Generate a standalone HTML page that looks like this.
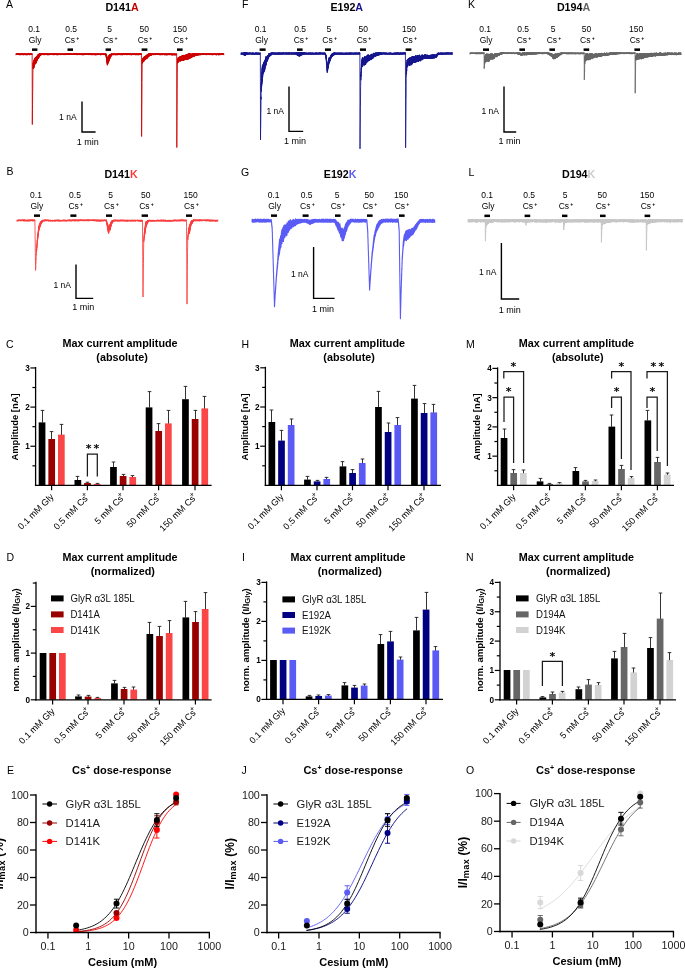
<!DOCTYPE html>
<html lang="en"><head><meta charset="utf-8"><title>Figure</title>
<style>
html,body{margin:0;padding:0;background:#fff;}
svg{display:block;font-family:"Liberation Sans",Arial,sans-serif;}
</style></head><body>
<svg width="685" height="969" viewBox="0 0 685 969">
<rect x="0" y="0" width="685" height="969" fill="#fff"/>
<text x="6" y="8.4" font-size="10.5" font-weight="normal" fill="#000" text-anchor="start" >A</text>
<text x="105.4" y="11" font-size="10.7" font-weight="bold" fill="#000" text-anchor="start" >D141<tspan fill="#c00000">A</tspan></text>
<text x="34.2" y="32.2" font-size="8.5" font-weight="normal" fill="#000" text-anchor="middle" >0.1</text>
<text x="35" y="42.6" font-size="8.5" font-weight="normal" fill="#000" text-anchor="middle" >Gly</text>
<rect x="32" y="48.4" width="5.4" height="2.5" fill="#000"/>
<text x="71.2" y="32.2" font-size="8.5" font-weight="normal" fill="#000" text-anchor="middle" >0.5</text>
<text x="72" y="42.6" font-size="8.5" font-weight="normal" fill="#000" text-anchor="middle" >Cs<tspan font-size="5.2" font-weight="bold" dy="-3.1" dx="1.2">+</tspan></text>
<rect x="67.5" y="48.4" width="5.5" height="2.5" fill="#000"/>
<text x="109.5" y="32.2" font-size="8.5" font-weight="normal" fill="#000" text-anchor="middle" >5</text>
<text x="110.3" y="42.6" font-size="8.5" font-weight="normal" fill="#000" text-anchor="middle" >Cs<tspan font-size="5.2" font-weight="bold" dy="-3.1" dx="1.2">+</tspan></text>
<rect x="105.6" y="48.4" width="5.4" height="2.5" fill="#000"/>
<text x="144.2" y="32.2" font-size="8.5" font-weight="normal" fill="#000" text-anchor="middle" >50</text>
<text x="145" y="42.6" font-size="8.5" font-weight="normal" fill="#000" text-anchor="middle" >Cs<tspan font-size="5.2" font-weight="bold" dy="-3.1" dx="1.2">+</tspan></text>
<rect x="141.6" y="48.4" width="5.8" height="2.5" fill="#000"/>
<text x="179.8" y="32.2" font-size="8.5" font-weight="normal" fill="#000" text-anchor="middle" >150</text>
<text x="180.6" y="42.6" font-size="8.5" font-weight="normal" fill="#000" text-anchor="middle" >Cs<tspan font-size="5.2" font-weight="bold" dy="-3.1" dx="1.2">+</tspan></text>
<rect x="177" y="48.4" width="5.6" height="2.5" fill="#000"/>
<polyline points="16.0,54.8 16.2,53.4 16.4,55.0 16.7,53.4 16.9,55.0 17.1,53.4 17.3,54.8 17.5,53.2 17.8,55.0 18.0,53.4 18.2,55.0 18.4,53.2 18.6,54.8 18.9,53.5 19.1,55.1 19.3,53.4 19.5,55.1 19.7,53.3 20.0,55.0 20.2,53.5 20.4,55.2 20.6,53.4 20.8,54.9 21.1,53.4 21.3,54.9 21.5,53.4 21.7,55.1 21.9,53.3 22.2,54.8 22.4,53.4 22.6,55.0 22.8,53.3 23.0,55.1 23.3,53.4 23.5,55.2 23.7,53.6 23.9,55.0 24.1,53.3 24.4,55.0 24.6,53.3 24.8,55.0 25.0,53.6 25.2,55.2 25.5,53.5 25.7,54.8 25.9,53.3 26.1,55.1 26.3,53.6 26.6,55.2 26.8,53.5 27.0,54.9 27.2,53.6 27.4,55.1 27.7,53.2 27.9,55.1 28.1,53.3 28.3,54.7 28.5,53.5 28.8,55.0 29.0,53.5 29.2,55.0 29.4,53.5 29.6,55.2 29.9,53.5 30.1,54.8 30.3,53.1 30.5,54.7 30.7,53.1 31.0,54.9 31.2,53.2 31.4,55.0 31.6,53.5 31.8,55.0 32.06,53.3 32.16,55.0 32.26,100.3 32.30,124.5 32.36,120.4 32.46,109.8 32.56,104.5 32.66,92.6 32.76,88.4 32.86,75.5 32.96,72.2 33.06,63.2 33.16,69.0 33.26,62.3 33.36,68.8 33.46,62.2 33.56,68.6 33.66,61.2 33.76,68.1 33.86,60.5 33.96,67.7 34.06,59.9 34.16,66.9 34.26,59.5 34.36,65.6 34.46,59.2 34.56,65.0 34.66,58.6 34.76,64.6 34.86,58.1 34.96,64.3 35.06,57.9 35.16,63.8 35.26,57.8 35.36,63.7 35.46,57.7 35.56,63.2 35.66,57.5 35.76,63.5 35.86,57.5 35.96,63.4 36.06,57.1 36.16,63.0 36.26,56.7 36.36,62.0 36.46,56.1 36.56,61.4 36.66,56.1 36.76,61.3 36.86,56.0 36.96,61.0 37.06,56.1 37.16,60.3 37.26,55.7 37.36,60.1 37.46,55.4 37.56,59.5 37.66,55.1 37.76,59.0 37.86,54.7 37.96,59.0 38.06,54.4 38.16,58.8 38.26,54.8 38.36,58.5 38.46,54.8 38.56,58.3 38.66,54.6 38.76,57.7 38.86,54.0 38.96,57.4 39.06,53.7 39.16,57.2 39.26,53.7 39.36,57.1 39.46,53.7 39.56,56.5 39.66,53.5 39.76,56.2 39.86,53.5 39.96,55.9 40.06,53.3 40.16,55.7 40.26,53.4 40.36,55.8 40.46,53.3 40.56,55.4 40.66,53.4 40.76,55.5 40.86,53.2 40.96,55.1 41.06,53.4 41.16,55.0 41.26,53.3 41.36,55.1 41.46,53.5 41.56,54.9 41.66,53.4 41.76,55.0 41.9,53.4 42.1,54.8 42.3,53.4 42.5,54.8 42.7,53.3 43.0,55.0 43.2,53.3 43.4,54.9 43.6,53.5 43.8,55.1 44.1,53.3 44.3,55.1 44.5,53.4 44.7,55.1 44.9,53.1 45.2,54.8 45.4,53.4 45.6,55.0 45.8,53.3 46.0,55.0 46.3,53.2 46.5,55.0 46.7,53.3 46.9,54.8 47.1,53.4 47.4,55.1 47.6,53.4 47.8,55.2 48.0,53.5 48.2,55.1 48.5,53.5 48.7,55.1 48.9,53.3 49.1,55.0 49.3,53.4 49.6,55.1 49.8,53.4 50.0,54.9 50.2,53.5 50.4,54.9 50.7,53.3 50.9,54.7 51.1,53.1 51.3,54.9 51.5,53.5 51.8,54.8 52.0,53.5 52.2,54.9 52.4,53.4 52.6,54.9 52.9,53.4 53.1,54.9 53.3,53.3 53.5,55.2 53.7,53.3 54.0,54.9 54.2,53.2 54.4,55.1 54.6,53.3 54.8,55.0 55.1,53.2 55.3,55.0 55.5,53.4 55.7,54.9 55.9,53.4 56.2,54.8 56.4,53.3 56.6,55.1 56.8,53.2 57.0,55.1 57.3,53.6 57.5,55.1 57.7,53.5 57.9,55.2 58.1,53.4 58.4,54.9 58.6,53.4 58.8,54.9 59.0,53.4 59.2,54.9 59.5,53.6 59.7,55.0 59.9,53.2 60.1,54.9 60.3,53.6 60.6,55.1 60.8,53.6 61.0,54.9 61.2,53.6 61.4,55.0 61.7,53.5 61.9,55.0 62.1,53.5 62.3,55.0 62.5,53.5 62.8,55.0 63.0,53.4 63.2,55.0 63.4,53.6 63.6,54.9 63.9,53.5 64.1,55.1 64.3,53.3 64.5,55.0 64.7,53.6 65.0,55.0 65.2,53.2 65.4,55.1 65.6,53.6 65.8,54.9 66.1,53.2 66.3,55.0 66.5,53.5 66.7,55.0 66.9,53.4 67.2,55.0 67.4,53.2 67.6,55.0 67.8,53.3 68.0,54.8 68.3,53.2 68.5,55.0 68.7,53.0 68.9,54.6 69.1,53.2 69.4,54.9 69.6,53.4 69.8,54.9 70.0,53.5 70.2,55.0 70.5,53.4 70.7,55.0 70.9,53.4 71.1,54.8 71.3,53.3 71.6,54.9 71.8,53.4 72.0,55.0 72.2,53.4 72.4,54.9 72.7,53.4 72.9,55.0 73.1,53.4 73.3,54.7 73.5,53.4 73.8,54.9 74.0,53.3 74.2,55.0 74.4,53.3 74.6,54.8 74.9,53.4 75.1,54.9 75.3,53.2 75.5,55.0 75.7,53.3 76.0,54.8 76.2,53.3 76.4,54.9 76.6,53.4 76.8,55.1 77.1,53.2 77.3,55.0 77.5,53.5 77.7,55.1 77.9,53.2 78.2,55.0 78.4,53.5 78.6,55.0 78.8,53.4 79.0,54.9 79.3,53.2 79.5,54.9 79.7,53.5 79.9,55.1 80.1,53.5 80.4,54.9 80.6,53.5 80.8,54.9 81.0,53.4 81.2,55.0 81.5,53.2 81.7,55.1 81.9,53.6 82.1,54.9 82.3,53.2 82.6,55.2 82.8,53.6 83.0,54.8 83.2,53.5 83.4,55.2 83.7,53.2 83.9,55.1 84.1,53.2 84.3,54.9 84.5,53.3 84.8,54.8 85.0,53.5 85.2,54.9 85.4,53.4 85.6,54.9 85.9,53.4 86.1,54.8 86.3,53.2 86.5,55.0 86.7,53.5 87.0,55.0 87.2,53.3 87.4,55.0 87.6,53.4 87.8,54.7 88.1,53.3 88.3,54.9 88.5,53.2 88.7,55.1 88.9,53.1 89.2,54.9 89.4,53.4 89.6,55.0 89.8,53.1 90.0,54.7 90.3,53.5 90.5,54.9 90.7,53.2 90.9,55.1 91.1,53.4 91.4,55.1 91.6,53.5 91.8,54.9 92.0,53.6 92.2,55.1 92.5,53.3 92.7,54.9 92.9,53.3 93.1,55.1 93.3,53.6 93.6,55.0 93.8,53.5 94.0,54.9 94.2,53.5 94.4,55.1 94.7,53.3 94.9,55.2 95.1,53.5 95.3,55.2 95.5,53.4 95.8,55.1 96.0,53.4 96.2,55.1 96.4,53.6 96.6,55.1 96.9,53.5 97.1,55.0 97.3,53.6 97.5,55.1 97.7,53.2 98.0,55.0 98.2,53.4 98.4,55.0 98.6,53.5 98.8,55.0 99.1,53.6 99.3,54.9 99.5,53.5 99.7,55.0 99.9,53.7 100.2,55.1 100.4,53.6 100.6,55.2 100.8,53.4 101.0,55.1 101.3,53.4 101.5,55.0 101.7,53.6 101.9,54.9 102.1,53.4 102.4,55.0 102.6,53.4 102.8,54.9 103.0,53.5 103.2,55.0 103.5,53.6 103.7,54.8 103.9,53.4 104.1,55.1 104.3,53.6 104.6,54.9 104.8,53.6 105.0,54.9 105.2,53.3 105.44,54.9 105.54,53.4 105.64,55.3 105.74,53.4 105.84,56.0 105.94,53.9 106.04,56.5 106.14,53.9 106.24,57.5 106.34,54.1 106.44,58.4 106.54,55.2 106.64,59.9 106.74,55.8 106.84,62.0 106.94,56.7 107.04,63.7 107.14,57.5 107.24,64.8 107.34,58.6 107.44,65.3 107.54,58.3 107.64,64.6 107.74,57.7 107.84,63.8 107.94,57.3 108.04,63.2 108.14,56.8 108.24,63.0 108.34,56.4 108.44,62.9 108.54,55.9 108.64,62.0 108.74,55.6 108.84,61.4 108.94,55.3 109.04,60.7 109.14,55.0 109.24,60.3 109.34,54.8 109.44,60.0 109.54,54.5 109.64,59.3 109.74,54.5 109.84,58.8 109.94,54.6 110.04,58.4 110.14,54.3 110.24,57.8 110.34,54.3 110.44,57.6 110.54,54.5 110.64,57.1 110.74,54.1 110.84,56.9 110.94,54.0 111.04,56.4 111.14,53.8 111.24,55.8 111.34,53.6 111.44,55.0 111.54,53.3 111.64,55.0 111.74,53.6 111.8,55.1 112.1,53.3 112.3,55.0 112.5,53.6 112.7,55.2 112.9,53.6 113.2,55.2 113.4,53.5 113.6,55.1 113.8,53.4 114.0,55.0 114.3,53.4 114.5,54.9 114.7,53.6 114.9,55.1 115.1,53.4 115.4,55.2 115.6,53.6 115.8,55.1 116.0,53.5 116.2,55.0 116.5,53.6 116.7,55.2 116.9,53.6 117.1,55.1 117.3,53.3 117.6,55.1 117.8,53.3 118.0,54.8 118.2,53.3 118.4,54.8 118.7,53.2 118.9,55.1 119.1,53.2 119.3,55.0 119.5,53.6 119.8,54.9 120.0,53.5 120.2,55.0 120.4,53.3 120.6,55.1 120.9,53.5 121.1,55.1 121.3,53.3 121.5,55.1 121.7,53.5 122.0,55.1 122.2,53.2 122.4,55.1 122.6,53.2 122.8,55.1 123.1,53.2 123.3,55.0 123.5,53.1 123.7,54.7 123.9,53.4 124.2,54.8 124.4,53.4 124.6,55.1 124.8,53.2 125.0,55.0 125.3,53.4 125.5,54.9 125.7,53.2 125.9,54.9 126.1,53.2 126.4,54.8 126.6,53.4 126.8,55.1 127.0,53.1 127.2,55.1 127.5,53.2 127.7,54.8 127.9,53.3 128.1,55.0 128.3,53.2 128.6,54.8 128.8,53.3 129.0,54.8 129.2,53.2 129.4,55.1 129.7,53.4 129.9,55.0 130.1,53.4 130.3,55.0 130.5,53.4 130.8,55.2 131.0,53.3 131.2,55.0 131.4,53.6 131.6,55.2 131.9,53.3 132.1,54.9 132.3,53.4 132.5,54.9 132.7,53.4 133.0,55.1 133.2,53.4 133.4,54.8 133.6,53.4 133.8,54.9 134.1,53.3 134.3,54.8 134.5,53.5 134.7,54.9 134.9,53.5 135.2,55.1 135.4,53.3 135.6,55.1 135.8,53.4 136.0,55.1 136.3,53.4 136.5,55.1 136.7,53.3 136.9,54.9 137.1,53.2 137.4,55.1 137.6,53.6 137.8,54.8 138.0,53.5 138.2,55.2 138.5,53.5 138.7,55.1 138.9,53.5 139.1,55.1 139.3,53.4 139.6,54.9 139.8,53.1 140.0,54.9 140.2,53.4 140.4,55.0 140.7,53.1 140.9,54.9 141.1,53.5 141.32,54.9 141.42,53.5 141.52,82.5 141.60,136.5 141.62,133.2 141.72,122.6 141.82,108.1 141.92,98.2 142.02,82.8 142.12,73.7 142.22,60.3 142.32,63.6 142.42,59.9 142.52,63.0 142.62,59.0 142.72,62.8 142.82,58.5 142.92,62.0 143.02,58.0 143.12,61.8 143.22,57.9 143.32,61.7 143.42,57.5 143.52,61.7 143.62,57.7 143.72,61.4 143.82,57.3 143.92,61.1 144.02,57.2 144.12,61.2 144.22,56.8 144.32,60.6 144.42,56.5 144.52,60.6 144.62,56.2 144.72,60.2 144.82,56.2 144.92,59.9 145.02,56.1 145.12,59.8 145.22,56.2 145.32,59.9 145.42,56.1 145.52,59.5 145.62,56.1 145.72,59.6 145.82,55.8 145.92,59.0 146.02,55.4 146.12,59.1 146.22,55.3 146.32,59.0 146.42,55.2 146.52,58.8 146.62,55.1 146.72,58.8 146.82,54.9 146.92,58.7 147.02,54.8 147.12,58.3 147.22,54.6 147.32,58.3 147.42,54.4 147.52,57.8 147.62,54.5 147.72,57.5 147.82,54.0 147.92,57.3 148.02,53.9 148.12,56.9 148.22,54.1 148.32,57.2 148.42,54.1 148.52,56.8 148.62,53.9 148.72,56.6 148.82,53.5 148.92,56.3 149.02,53.4 149.12,56.2 149.22,53.3 149.32,56.3 149.42,53.5 149.52,55.8 149.62,53.2 149.72,55.8 149.82,53.2 149.92,55.8 150.02,53.5 150.12,55.8 150.22,53.3 150.32,55.5 150.42,53.2 150.52,55.4 150.62,53.2 150.72,55.4 150.82,53.3 150.92,55.4 151.02,53.1 151.12,55.5 151.22,53.3 151.32,55.2 151.42,53.0 151.52,55.3 151.62,53.1 151.72,55.2 151.82,53.2 151.92,55.0 152.02,53.3 152.12,55.0 152.22,53.2 152.32,55.0 152.42,53.5 152.52,54.9 152.62,53.4 152.72,54.9 152.8,53.4 153.0,54.9 153.3,53.5 153.5,55.2 153.7,53.5 153.9,55.0 154.1,53.5 154.4,54.9 154.6,53.3 154.8,55.0 155.0,53.3 155.2,55.1 155.5,53.2 155.7,55.0 155.9,53.2 156.1,55.0 156.3,53.2 156.6,54.8 156.8,53.2 157.0,54.8 157.2,53.2 157.4,55.0 157.7,53.5 157.9,54.9 158.1,53.4 158.3,54.9 158.5,53.3 158.8,54.8 159.0,53.5 159.2,55.1 159.4,53.3 159.6,55.0 159.9,53.3 160.1,55.2 160.3,53.4 160.5,55.1 160.7,53.6 161.0,55.0 161.2,53.5 161.4,54.9 161.6,53.4 161.8,55.2 162.1,53.5 162.3,55.1 162.5,53.3 162.7,54.8 162.9,53.5 163.2,55.0 163.4,53.5 163.6,54.9 163.8,53.5 164.0,55.0 164.3,53.5 164.5,55.2 164.7,53.3 164.9,55.2 165.1,53.5 165.4,54.9 165.6,53.3 165.8,55.1 166.0,53.6 166.2,55.3 166.5,53.4 166.7,55.1 166.9,53.6 167.1,55.2 167.3,53.5 167.6,55.2 167.8,53.4 168.0,55.0 168.2,53.4 168.4,54.9 168.7,53.5 168.9,55.1 169.1,53.3 169.3,54.9 169.5,53.4 169.8,55.1 170.0,53.5 170.2,55.1 170.4,53.4 170.6,55.0 170.9,53.4 171.1,54.9 171.3,53.5 171.5,55.2 171.7,53.6 172.0,55.3 172.2,53.5 172.4,55.3 172.6,53.4 172.8,55.3 173.1,53.6 173.3,55.0 173.5,53.6 173.7,55.2 173.9,53.7 174.2,55.3 174.4,53.4 174.6,55.2 174.8,53.8 175.0,55.0 175.3,53.7 175.5,55.3 175.7,53.8 175.9,55.3 176.1,53.5 176.4,55.3 176.58,53.7 176.68,55.2 176.78,131.2 176.80,147.5 176.88,137.2 176.98,120.6 177.08,109.1 177.18,92.0 177.28,80.9 177.38,63.1 177.48,63.5 177.58,59.7 177.68,63.1 177.78,58.9 177.88,63.0 177.98,58.0 178.08,62.7 178.18,57.6 178.28,62.0 178.38,57.4 178.48,61.9 178.58,57.7 178.68,61.5 178.78,57.5 178.88,61.4 178.98,57.3 179.08,61.0 179.18,57.2 179.28,61.0 179.38,57.3 179.48,61.1 179.58,57.3 179.68,61.2 179.78,56.8 179.88,61.2 179.98,56.3 180.08,61.2 180.18,56.4 180.28,61.2 180.38,56.3 180.48,61.3 180.58,56.3 180.68,61.2 180.78,56.4 180.88,60.7 180.98,56.4 181.08,60.4 181.18,56.1 181.28,60.6 181.38,56.4 181.48,60.6 181.58,56.2 181.68,60.5 181.78,56.1 181.88,60.5 181.98,55.4 182.08,60.3 182.18,55.6 182.28,60.5 182.38,55.4 182.48,60.6 182.58,55.5 182.68,60.8 182.78,55.5 182.88,60.7 182.98,55.6 183.08,60.9 183.18,55.4 183.28,60.6 183.38,55.1 183.48,60.3 183.58,54.9 183.68,60.4 183.78,55.0 183.88,60.1 183.98,55.2 184.08,60.0 184.18,55.5 184.28,59.9 184.38,55.4 184.48,60.2 184.58,55.4 184.68,60.1 184.78,55.2 184.88,60.0 184.98,55.0 185.08,59.7 185.18,54.8 185.28,59.7 185.38,55.0 185.48,59.9 185.58,55.1 185.68,59.5 185.78,54.9 185.88,59.6 185.98,54.7 186.08,59.4 186.18,54.7 186.28,59.4 186.38,54.2 186.48,59.5 186.58,54.1 186.68,59.8 186.78,54.0 186.88,59.9 186.98,54.1 187.08,59.8 187.18,54.3 187.28,59.5 187.38,54.8 187.48,59.2 187.58,54.5 187.68,59.5 187.78,54.0 187.88,59.3 187.98,53.9 188.08,59.5 188.18,53.7 188.28,59.1 188.38,53.8 188.48,58.7 188.58,53.6 188.68,58.8 188.78,53.5 188.88,58.9 188.98,53.5 189.08,58.8 189.18,53.2 189.28,58.9 189.38,53.3 189.48,58.7 189.58,53.5 189.68,58.5 189.78,53.3 189.88,58.4 189.98,53.5 190.08,58.4 190.18,53.7 190.28,58.2 190.38,53.7 190.48,57.9 190.58,54.0 190.68,58.1 190.78,54.1 190.88,57.9 190.98,54.0 191.08,57.7 191.18,53.7 191.28,57.5 191.38,53.8 191.48,57.6 191.58,53.9 191.68,57.5 191.78,53.9 191.88,57.4 191.98,54.1 192.08,57.3 192.18,53.8 192.28,57.0 192.38,53.7 192.48,56.9 192.58,53.4 192.68,56.7 192.78,53.4 192.88,56.6 192.98,53.8 193.08,56.6 193.18,53.6 193.28,56.4 193.38,53.4 193.48,56.7 193.58,53.6 193.68,56.9 193.78,53.3 193.88,56.7 193.98,53.3 194.08,56.5 194.18,53.6 194.28,56.5 194.38,53.4 194.48,56.1 194.58,53.6 194.68,56.1 194.78,53.4 194.88,56.2 194.98,53.4 195.08,55.9 195.18,53.3 195.28,56.0 195.38,53.7 195.48,56.0 195.58,53.7 195.68,55.9 195.78,53.5 195.88,55.7 195.98,53.5 196.08,55.6 196.18,53.6 196.28,55.3 196.38,53.5 196.48,55.4 196.58,53.6 196.68,55.4 196.78,53.3 196.88,55.2 196.98,53.5 197.08,55.3 197.18,53.4 197.28,55.3 197.38,53.4 197.48,55.2 197.58,53.3 197.68,55.1 197.78,53.4 197.88,55.2 197.98,53.5 198.08,55.5 198.18,53.6 198.28,55.1 198.38,53.3 198.48,55.1 198.58,53.4 198.68,55.2 198.78,53.3 198.88,55.2 198.98,53.6 199.08,55.2 199.18,53.4 199.28,55.1 199.4,53.5 199.6,54.9 199.8,53.4 200.0,54.8 200.3,53.3 200.5,55.2 200.7,53.6 200.9,55.0 201.1,53.3 201.4,55.1 201.6,53.5 201.8,54.9 202.0,53.5 202.2,54.8 202.5,53.2 202.7,54.9 202.9,53.2 203.1,54.7 203.3,53.1 203.6,54.9 203.8,53.3 204.0,54.8 204.2,53.1 204.4,54.8 204.7,53.4 204.9,54.9 205.1,53.4 205.3,55.0 205.5,53.5 205.8,54.8 206.0,53.1 206.2,55.1 206.4,53.4 206.6,55.1 206.9,53.3 207.1,54.8 207.3,53.4 207.5,55.0 207.7,53.4 208.0,54.8 208.2,53.2 208.4,54.9 208.6,53.4 208.8,54.9 209.1,53.5 209.3,55.0 209.5,53.4 209.7,55.1 209.9,53.5 210.2,54.8 210.4,53.4 210.6,54.9 210.8,53.5 211.0,54.8 211.3,53.4 211.5,54.9 211.7,53.3 211.9,55.2 212.1,53.3 212.4,55.0 212.6,53.5 212.8,55.2 213.0,53.6 213.2,55.0 213.5,53.6 213.7,55.0 213.9,53.5 214.1,55.0 214.3,53.3 214.6,55.0 214.8,53.6 215.0,54.9 215.2,53.2 215.4,54.9 215.7,53.6 215.9,55.1 216.1,53.5 216.3,55.2 216.5,53.6 216.8,55.2 217.0,53.6 217.2,54.9 217.4,53.3 217.6,55.0 217.9,53.3 218.1,54.9 218.3,53.5 218.5,55.3 218.7,53.2 219.0,54.8 219.2,53.3 219.4,55.1 219.6,53.3 219.8,55.1 220.1,53.3 220.3,55.1 220.5,53.4 220.7,55.0 220.9,53.3 221.2,54.8 221.4,53.3 221.6,55.0 221.8,53.2 222.0,55.0 222.3,53.5 222.5,55.0 222.7,53.2 222.9,55.0 223.1,53.3 223.4,54.9 223.6,53.2 223.8,54.8" fill="none" stroke="#cc0000" stroke-width="0.85" stroke-linejoin="round" stroke-linecap="round"/>
<polyline points="82,101.6 82,132 95.6,132" fill="none" stroke="#000" stroke-width="1.4" stroke-linejoin="miter"/>
<text x="76.6" y="120.05" font-size="8.5" font-weight="normal" fill="#000" text-anchor="end" >1 nA</text>
<text x="87.8" y="145.05" font-size="9" font-weight="normal" fill="#000" text-anchor="middle" >1 min</text>
<text x="6.6" y="175.2" font-size="10.5" font-weight="normal" fill="#000" text-anchor="start" >B</text>
<text x="104.4" y="177.6" font-size="10.7" font-weight="bold" fill="#000" text-anchor="start" >D141<tspan fill="#fa3c3c">K</tspan></text>
<text x="36" y="198.2" font-size="8.5" font-weight="normal" fill="#000" text-anchor="middle" >0.1</text>
<text x="36.8" y="209" font-size="8.5" font-weight="normal" fill="#000" text-anchor="middle" >Gly</text>
<rect x="34" y="214.4" width="6" height="2.5" fill="#000"/>
<text x="75" y="198.2" font-size="8.5" font-weight="normal" fill="#000" text-anchor="middle" >0.5</text>
<text x="75.8" y="209" font-size="8.5" font-weight="normal" fill="#000" text-anchor="middle" >Cs<tspan font-size="5.2" font-weight="bold" dy="-3.1" dx="1.2">+</tspan></text>
<rect x="70.4" y="214.4" width="6" height="2.5" fill="#000"/>
<text x="110.6" y="198.2" font-size="8.5" font-weight="normal" fill="#000" text-anchor="middle" >5</text>
<text x="111.4" y="209" font-size="8.5" font-weight="normal" fill="#000" text-anchor="middle" >Cs<tspan font-size="5.2" font-weight="bold" dy="-3.1" dx="1.2">+</tspan></text>
<rect x="106" y="214.4" width="6" height="2.5" fill="#000"/>
<text x="145.7" y="198.2" font-size="8.5" font-weight="normal" fill="#000" text-anchor="middle" >50</text>
<text x="146.5" y="209" font-size="8.5" font-weight="normal" fill="#000" text-anchor="middle" >Cs<tspan font-size="5.2" font-weight="bold" dy="-3.1" dx="1.2">+</tspan></text>
<rect x="141.6" y="214.4" width="6.4" height="2.5" fill="#000"/>
<text x="190.6" y="198.2" font-size="8.5" font-weight="normal" fill="#000" text-anchor="middle" >150</text>
<text x="191.4" y="209" font-size="8.5" font-weight="normal" fill="#000" text-anchor="middle" >Cs<tspan font-size="5.2" font-weight="bold" dy="-3.1" dx="1.2">+</tspan></text>
<rect x="186" y="214.4" width="6" height="2.5" fill="#000"/>
<polyline points="17.0,221.0 17.2,219.9 17.4,221.3 17.7,219.9 17.9,221.2 18.1,219.8 18.3,221.1 18.5,219.8 18.8,221.1 19.0,219.7 19.2,221.0 19.4,219.7 19.6,221.1 19.9,219.6 20.1,221.0 20.3,219.9 20.5,221.1 20.7,219.8 21.0,221.1 21.2,219.9 21.4,221.2 21.6,219.7 21.8,221.0 22.1,219.7 22.3,220.9 22.5,219.6 22.7,221.1 22.9,219.7 23.2,221.0 23.4,219.6 23.6,221.2 23.8,219.6 24.0,221.3 24.3,219.6 24.5,221.2 24.7,219.6 24.9,221.1 25.1,219.9 25.4,221.1 25.6,219.9 25.8,221.1 26.0,219.8 26.2,221.3 26.5,219.9 26.7,221.3 26.9,219.9 27.1,221.3 27.3,220.0 27.6,221.1 27.8,219.7 28.0,221.2 28.2,219.7 28.4,221.2 28.7,219.9 28.9,221.1 29.1,219.7 29.3,221.3 29.5,219.7 29.8,221.1 30.0,219.9 30.2,221.2 30.4,219.6 30.6,221.1 30.9,219.6 31.1,221.0 31.3,219.7 31.5,220.8 31.7,219.6 32.0,221.2 32.2,219.6 32.4,221.2 32.6,219.5 32.8,220.9 33.1,219.9 33.3,221.2 33.5,219.8 33.7,221.1 33.9,219.7 34.2,221.1 34.4,219.7 34.6,221.1 34.82,219.8 34.92,222.4 35.02,228.4 35.12,236.9 35.22,242.7 35.32,251.2 35.42,256.9 35.52,265.3 35.60,270.4 35.62,269.3 35.72,268.4 35.82,264.4 35.92,264.0 36.02,259.2 36.12,259.6 36.22,254.3 36.32,255.1 36.42,249.5 36.52,252.2 36.62,247.3 36.72,250.1 36.82,244.9 36.92,247.9 37.02,242.4 37.12,245.6 37.22,240.0 37.32,243.0 37.42,237.6 37.52,241.0 37.62,235.8 37.72,239.4 37.82,234.0 37.92,237.8 38.02,232.7 38.12,236.3 38.22,231.2 38.32,234.6 38.42,229.6 38.52,233.1 38.62,228.1 38.72,231.4 38.82,226.4 38.92,230.4 39.02,225.7 39.12,229.5 39.22,225.3 39.32,228.9 39.42,224.6 39.52,228.2 39.62,224.2 39.72,227.7 39.82,223.6 39.92,227.2 40.02,222.9 40.12,226.4 40.22,222.5 40.32,225.7 40.42,222.0 40.52,225.1 40.62,221.8 40.72,224.8 40.82,221.5 40.92,224.2 41.02,221.5 41.12,223.8 41.22,221.2 41.32,223.8 41.42,221.2 41.52,223.2 41.62,221.0 41.72,223.0 41.82,220.7 41.92,222.7 42.02,220.5 42.12,222.3 42.22,220.2 42.32,221.7 42.42,220.1 42.52,221.3 42.62,220.0 42.72,221.4 42.82,219.9 42.9,221.4 43.1,219.9 43.4,221.3 43.6,220.0 43.8,221.3 44.0,219.7 44.2,221.1 44.5,219.8 44.7,221.3 44.9,219.7 45.1,221.1 45.3,219.8 45.6,221.1 45.8,219.6 46.0,221.1 46.2,219.7 46.4,221.2 46.7,219.8 46.9,221.0 47.1,219.8 47.3,221.0 47.5,219.7 47.8,221.0 48.0,219.9 48.2,221.3 48.4,219.7 48.6,221.2 48.9,219.9 49.1,221.3 49.3,220.0 49.5,221.1 49.7,219.8 50.0,221.2 50.2,220.0 50.4,221.2 50.6,219.8 50.8,221.4 51.1,220.0 51.3,221.2 51.5,220.1 51.7,221.3 51.9,220.0 52.2,221.2 52.4,220.0 52.6,221.4 52.8,219.9 53.0,221.2 53.3,220.1 53.5,221.1 53.7,220.1 53.9,221.3 54.1,219.9 54.4,221.1 54.6,219.9 54.8,221.4 55.0,219.9 55.2,221.4 55.5,219.8 55.7,221.2 55.9,220.0 56.1,221.2 56.3,220.0 56.6,221.2 56.8,219.7 57.0,221.1 57.2,219.7 57.4,221.1 57.7,219.9 57.9,221.0 58.1,219.7 58.3,221.3 58.5,219.8 58.8,221.4 59.0,219.9 59.2,221.3 59.4,219.9 59.6,221.2 59.9,220.0 60.1,221.4 60.3,219.9 60.5,221.2 60.7,219.9 61.0,221.1 61.2,220.0 61.4,221.2 61.6,220.0 61.8,221.3 62.1,219.9 62.3,221.1 62.5,220.0 62.7,221.2 62.9,219.8 63.2,221.2 63.4,219.8 63.6,221.1 63.8,219.9 64.0,221.2 64.3,219.8 64.5,221.2 64.7,219.8 64.9,221.1 65.1,219.9 65.4,221.3 65.6,219.9 65.8,221.1 66.0,220.0 66.2,221.4 66.5,220.0 66.7,221.2 66.9,220.0 67.1,221.2 67.3,219.8 67.6,221.1 67.8,219.8 68.0,221.1 68.2,219.8 68.4,221.0 68.7,219.9 68.9,221.2 69.1,219.7 69.3,221.2 69.5,219.6 69.8,221.0 70.0,219.8 70.2,221.1 70.4,219.7 70.6,221.2 70.9,219.7 71.1,221.1 71.3,219.9 71.5,221.3 71.7,219.8 72.0,221.2 72.2,219.8 72.4,221.0 72.6,219.6 72.8,221.0 73.1,219.7 73.3,221.1 73.5,219.7 73.7,221.0 73.9,219.7 74.2,221.2 74.4,219.6 74.6,221.1 74.8,219.7 75.0,221.2 75.3,219.6 75.5,221.2 75.7,219.6 75.9,221.0 76.1,219.7 76.4,221.0 76.6,219.8 76.8,221.1 77.0,219.7 77.2,221.2 77.5,219.8 77.7,221.2 77.9,219.8 78.1,221.1 78.3,219.6 78.6,221.1 78.8,219.7 79.0,221.2 79.2,219.7 79.4,221.0 79.7,219.7 79.9,221.1 80.1,219.7 80.3,220.9 80.5,219.5 80.8,220.9 81.0,219.7 81.2,221.1 81.4,219.6 81.6,221.0 81.9,219.8 82.1,220.9 82.3,219.7 82.5,220.9 82.7,219.5 83.0,221.1 83.2,219.7 83.4,221.1 83.6,219.9 83.8,221.0 84.1,219.8 84.3,221.0 84.5,219.7 84.7,221.2 84.9,219.8 85.2,221.0 85.4,219.6 85.6,221.1 85.8,219.9 86.0,221.0 86.3,219.8 86.5,220.9 86.7,219.7 86.9,221.1 87.1,219.5 87.4,221.0 87.6,219.6 87.8,221.2 88.0,219.6 88.2,220.9 88.5,219.6 88.7,221.1 88.9,219.6 89.1,221.1 89.3,219.6 89.6,221.0 89.8,219.7 90.0,221.0 90.2,219.8 90.4,221.0 90.7,219.8 90.9,220.9 91.1,219.7 91.3,220.9 91.5,219.7 91.8,220.9 92.0,219.6 92.2,220.9 92.4,219.7 92.6,221.0 92.9,219.7 93.1,220.9 93.3,219.6 93.5,221.1 93.7,219.6 94.0,220.9 94.2,219.7 94.4,221.1 94.6,219.7 94.8,221.1 95.1,219.7 95.3,221.2 95.5,219.7 95.7,221.0 95.9,219.9 96.2,221.2 96.4,219.7 96.6,221.3 96.8,219.8 97.0,221.1 97.3,219.7 97.5,221.3 97.7,219.8 97.9,221.3 98.1,219.8 98.4,221.3 98.6,219.8 98.8,221.1 99.0,219.8 99.2,221.4 99.5,219.8 99.7,221.3 99.9,219.8 100.1,221.5 100.3,219.9 100.6,221.3 100.8,219.7 101.0,221.2 101.2,219.9 101.4,221.2 101.7,219.8 101.9,221.3 102.1,219.7 102.3,221.1 102.5,219.9 102.8,221.0 103.0,219.8 103.2,221.3 103.4,219.9 103.6,221.2 103.9,219.9 104.1,221.0 104.3,219.6 104.5,221.0 104.7,219.7 105.0,221.1 105.2,220.0 105.4,221.2 105.6,219.9 105.8,221.3 106.06,219.7 106.16,221.1 106.26,219.7 106.36,221.4 106.46,220.4 106.56,222.5 106.66,221.0 106.76,223.6 106.86,221.8 106.96,224.8 107.06,222.5 107.16,225.8 107.26,223.0 107.36,227.3 107.46,223.6 107.56,228.4 107.66,224.3 107.76,229.5 107.86,224.8 107.96,230.7 108.06,225.5 108.16,231.8 108.26,226.6 108.36,232.7 108.46,227.6 108.56,233.7 108.66,227.9 108.76,232.9 108.86,227.3 108.96,231.8 109.06,226.6 109.16,230.6 109.26,225.8 109.36,229.6 109.46,225.1 109.56,229.6 109.66,225.0 109.76,230.0 109.86,224.4 109.96,230.6 110.06,224.2 110.16,229.8 110.26,223.8 110.36,228.5 110.46,223.3 110.56,227.6 110.66,222.8 110.76,227.2 110.86,222.2 110.96,226.7 111.06,222.0 111.16,225.8 111.26,221.6 111.36,224.9 111.46,221.3 111.56,224.0 111.66,220.9 111.76,223.8 111.86,220.8 111.96,223.5 112.06,220.6 112.16,223.2 112.26,220.5 112.36,222.8 112.46,220.3 112.56,222.5 112.66,220.2 112.76,222.3 112.86,220.0 112.96,222.1 113.06,220.0 113.16,221.7 113.26,220.1 113.36,221.3 113.46,220.0 113.56,221.2 113.66,219.8 113.76,221.3 113.9,219.9 114.1,221.1 114.3,219.8 114.5,221.3 114.7,219.8 115.0,221.3 115.2,219.7 115.4,221.1 115.6,219.8 115.8,221.2 116.1,219.8 116.3,221.1 116.5,219.9 116.7,221.2 116.9,219.8 117.2,221.4 117.4,219.9 117.6,221.2 117.8,219.9 118.0,221.4 118.3,219.8 118.5,221.2 118.7,220.0 118.9,221.3 119.1,219.9 119.4,221.3 119.6,219.9 119.8,221.3 120.0,219.8 120.2,221.1 120.5,219.8 120.7,221.2 120.9,219.9 121.1,221.2 121.3,219.9 121.6,221.2 121.8,219.7 122.0,221.2 122.2,219.8 122.4,221.1 122.7,219.9 122.9,221.1 123.1,219.8 123.3,221.2 123.5,219.9 123.8,221.3 124.0,219.9 124.2,221.1 124.4,219.8 124.6,221.2 124.9,219.9 125.1,221.3 125.3,219.9 125.5,221.3 125.7,220.1 126.0,221.2 126.2,220.2 126.4,221.5 126.6,219.9 126.8,221.3 127.1,219.8 127.3,221.4 127.5,219.9 127.7,221.4 127.9,219.9 128.2,221.3 128.4,219.9 128.6,221.2 128.8,220.1 129.0,221.2 129.3,219.9 129.5,221.2 129.7,219.9 129.9,221.2 130.1,219.9 130.4,221.3 130.6,220.1 130.8,221.4 131.0,220.1 131.2,221.3 131.5,219.9 131.7,221.2 131.9,219.9 132.1,221.2 132.3,219.8 132.6,221.2 132.8,219.8 133.0,221.2 133.2,220.0 133.4,221.4 133.7,219.9 133.9,221.2 134.1,219.9 134.3,221.2 134.5,220.0 134.8,221.2 135.0,219.8 135.2,221.4 135.4,219.9 135.6,221.3 135.9,220.0 136.1,221.1 136.3,219.9 136.5,221.1 136.7,220.0 137.0,221.0 137.2,219.9 137.4,221.1 137.6,219.7 137.8,221.2 138.1,220.0 138.3,221.3 138.5,220.1 138.7,221.3 138.9,219.9 139.2,221.2 139.4,220.0 139.6,221.4 139.8,219.9 140.0,221.5 140.3,219.9 140.5,221.5 140.7,220.0 140.9,221.5 141.1,219.9 141.4,221.4 141.6,219.8 141.8,221.5 142.0,220.2 142.24,221.3 142.34,220.0 142.44,221.2 142.54,226.2 142.64,242.8 142.74,256.7 142.84,273.1 142.94,287.1 143.00,297.0 143.04,294.7 143.14,285.2 143.24,279.0 143.34,268.8 143.44,263.6 143.54,253.1 143.64,247.9 143.74,239.7 143.84,241.8 143.94,237.3 144.04,240.0 144.14,235.0 144.24,238.0 144.34,232.5 144.44,236.5 144.54,229.9 144.64,235.0 144.74,228.7 144.84,234.2 144.94,227.7 145.04,233.2 145.14,226.6 145.24,231.5 145.34,225.2 145.44,229.8 145.54,224.1 145.64,228.7 145.74,222.9 145.84,227.8 145.94,221.6 146.04,226.6 146.14,221.5 146.24,226.3 146.34,221.5 146.44,225.6 146.54,221.3 146.64,225.1 146.74,221.3 146.84,224.7 146.94,221.1 147.04,224.2 147.14,221.1 147.24,223.9 147.34,220.7 147.44,223.3 147.54,220.4 147.64,222.9 147.74,220.3 147.84,222.5 147.94,220.1 148.04,222.4 148.14,220.3 148.24,221.8 148.34,220.1 148.44,221.5 148.54,219.9 148.64,221.2 148.74,220.0 148.8,221.4 149.1,220.0 149.3,221.4 149.5,219.8 149.7,221.2 149.9,220.0 150.2,221.3 150.4,219.9 150.6,221.3 150.8,220.0 151.0,221.4 151.3,220.1 151.5,221.4 151.7,219.9 151.9,221.4 152.1,220.1 152.4,221.5 152.6,220.1 152.8,221.4 153.0,219.9 153.2,221.4 153.5,219.9 153.7,221.2 153.9,220.1 154.1,221.5 154.3,220.0 154.6,221.5 154.8,220.0 155.0,221.2 155.2,220.0 155.4,221.1 155.7,220.0 155.9,221.4 156.1,220.0 156.3,221.3 156.5,220.0 156.8,221.4 157.0,219.9 157.2,221.2 157.4,219.8 157.6,221.2 157.9,219.9 158.1,221.2 158.3,220.1 158.5,221.3 158.7,219.8 159.0,221.2 159.2,220.0 159.4,221.3 159.6,220.0 159.8,221.2 160.1,219.8 160.3,221.3 160.5,220.0 160.7,221.3 160.9,219.9 161.2,221.2 161.4,219.7 161.6,221.3 161.8,219.7 162.0,221.1 162.3,219.9 162.5,221.3 162.7,219.9 162.9,221.4 163.1,220.0 163.4,221.3 163.6,219.7 163.8,221.3 164.0,219.9 164.2,221.2 164.5,219.9 164.7,221.3 164.9,219.9 165.1,221.3 165.3,219.9 165.6,221.4 165.8,219.9 166.0,221.4 166.2,220.0 166.4,221.2 166.7,220.1 166.9,221.5 167.1,220.1 167.3,221.4 167.5,220.0 167.8,221.2 168.0,219.9 168.2,221.4 168.4,220.2 168.6,221.3 168.9,220.1 169.1,221.4 169.3,219.9 169.5,221.4 169.7,220.0 170.0,221.5 170.2,219.9 170.4,221.3 170.6,220.1 170.8,221.4 171.1,220.2 171.3,221.5 171.5,220.1 171.7,221.3 171.9,220.1 172.2,221.3 172.4,220.0 172.6,221.2 172.8,220.1 173.0,221.4 173.3,219.7 173.5,221.1 173.7,219.9 173.9,221.2 174.1,219.9 174.4,221.3 174.6,219.8 174.8,221.1 175.0,219.9 175.2,221.1 175.5,219.7 175.7,221.1 175.9,219.9 176.1,221.2 176.3,219.8 176.6,221.3 176.8,220.0 177.0,221.2 177.2,219.9 177.4,221.1 177.7,219.7 177.9,221.2 178.1,219.8 178.3,221.2 178.5,219.9 178.8,221.2 179.0,219.9 179.2,221.1 179.4,219.9 179.6,221.1 179.9,219.7 180.1,221.3 180.3,219.7 180.5,221.1 180.7,219.7 181.0,221.1 181.2,219.6 181.4,221.0 181.6,219.7 181.8,221.1 182.1,219.7 182.3,221.2 182.5,219.6 182.7,221.0 182.9,219.9 183.2,221.1 183.4,219.7 183.6,221.2 183.8,219.7 184.0,221.1 184.3,219.8 184.5,221.1 184.7,219.9 184.9,221.4 185.1,219.9 185.4,221.1 185.6,219.8 185.8,221.1 186.0,220.0 186.24,221.2 186.34,219.7 186.44,221.3 186.54,226.5 186.64,244.7 186.74,260.0 186.84,278.0 186.94,293.4 187.00,304.1 187.04,301.3 187.14,290.3 187.24,283.2 187.34,271.6 187.44,264.9 187.54,252.8 187.64,246.7 187.74,237.4 187.84,239.8 187.94,235.5 188.04,237.5 188.14,233.8 188.24,235.8 188.34,231.6 188.44,233.8 188.54,229.8 188.64,232.3 188.74,228.6 188.84,232.9 188.94,227.9 189.04,233.5 189.14,226.9 189.24,233.9 189.34,226.2 189.44,233.8 189.54,225.5 189.64,232.6 189.74,224.9 189.84,231.4 189.94,224.4 190.04,230.1 190.14,223.8 190.24,228.6 190.34,223.4 190.44,227.4 190.54,222.9 190.64,226.6 190.74,222.2 190.84,226.1 190.94,221.7 191.04,225.3 191.14,221.3 191.24,224.9 191.34,221.1 191.44,224.4 191.54,220.8 191.64,223.8 191.74,220.6 191.84,223.6 191.94,220.6 192.04,223.7 192.14,220.5 192.24,223.3 192.34,220.3 192.44,223.0 192.54,220.2 192.64,222.5 192.74,220.2 192.84,222.2 192.94,220.0 193.04,221.8 193.14,219.9 193.24,221.5 193.34,219.8 193.44,221.0 193.54,219.7 193.64,221.1 193.74,219.7 193.8,221.0 194.1,219.5 194.3,220.9 194.5,219.8 194.7,221.1 194.9,219.6 195.2,221.1 195.4,219.6 195.6,221.2 195.8,219.8 196.0,221.1 196.3,219.6 196.5,221.1 196.7,219.8 196.9,221.1 197.1,219.6 197.4,221.0 197.6,219.8 197.8,221.2 198.0,219.6 198.2,221.2 198.5,219.7 198.7,221.0 198.9,219.7 199.1,221.1 199.3,219.6 199.6,221.2 199.8,219.6 200.0,221.2 200.2,219.7 200.4,221.0 200.7,219.6 200.9,221.0 201.1,219.8 201.3,221.2 201.5,219.6 201.8,221.0 202.0,219.9 202.2,220.9 202.4,219.9 202.6,221.2 202.9,219.6 203.1,220.9 203.3,219.8 203.5,221.0 203.7,219.8 204.0,221.0 204.2,219.7 204.4,221.0 204.6,219.8 204.8,220.9 205.1,219.6 205.3,221.1 205.5,219.7 205.7,221.2 205.9,219.8 206.2,221.0 206.4,219.8 206.6,221.2 206.8,219.6 207.0,221.2 207.3,219.6 207.5,221.1 207.7,219.8 207.9,221.0 208.1,219.6 208.4,221.0 208.6,219.8 208.8,221.2 209.0,219.7 209.2,221.2 209.5,219.9 209.7,221.3 209.9,219.8 210.1,221.3 210.3,219.7 210.6,221.3 210.8,219.9 211.0,221.2 211.2,219.9 211.4,221.2 211.7,219.7 211.9,221.1 212.1,219.9 212.3,221.3 212.5,219.9 212.8,221.4 213.0,219.9 213.2,221.1 213.4,219.8 213.6,221.2 213.9,220.0 214.1,221.2 214.3,219.9 214.5,221.1 214.7,220.1 215.0,221.4 215.2,219.9 215.4,221.4 215.6,219.9 215.8,221.4 216.1,220.1 216.3,221.2 216.5,219.9 216.7,221.4 216.9,219.9 217.2,221.2 217.4,220.0 217.6,221.4 217.8,219.9" fill="none" stroke="#fa3c3c" stroke-width="0.85" stroke-linejoin="round" stroke-linecap="round"/>
<polyline points="76,264.4 76,298.4 93.2,298.4" fill="none" stroke="#000" stroke-width="1.4" stroke-linejoin="miter"/>
<text x="71" y="288.05" font-size="8.5" font-weight="normal" fill="#000" text-anchor="end" >1 nA</text>
<text x="83.3" y="310.45" font-size="9" font-weight="normal" fill="#000" text-anchor="middle" >1 min</text>
<text x="242" y="8" font-size="10.5" font-weight="normal" fill="#000" text-anchor="start" >F</text>
<text x="330.4" y="11.2" font-size="10.7" font-weight="bold" fill="#000" text-anchor="start" >E192<tspan fill="#14148c">A</tspan></text>
<text x="260.7" y="32.2" font-size="8.5" font-weight="normal" fill="#000" text-anchor="middle" >0.1</text>
<text x="261.5" y="42.6" font-size="8.5" font-weight="normal" fill="#000" text-anchor="middle" >Gly</text>
<rect x="259.6" y="48.4" width="6" height="2.5" fill="#000"/>
<text x="300.2" y="32.2" font-size="8.5" font-weight="normal" fill="#000" text-anchor="middle" >0.5</text>
<text x="301" y="42.6" font-size="8.5" font-weight="normal" fill="#000" text-anchor="middle" >Cs<tspan font-size="5.2" font-weight="bold" dy="-3.1" dx="1.2">+</tspan></text>
<rect x="297" y="48.4" width="5.6" height="2.5" fill="#000"/>
<text x="328.8" y="32.2" font-size="8.5" font-weight="normal" fill="#000" text-anchor="middle" >5</text>
<text x="329.6" y="42.6" font-size="8.5" font-weight="normal" fill="#000" text-anchor="middle" >Cs<tspan font-size="5.2" font-weight="bold" dy="-3.1" dx="1.2">+</tspan></text>
<rect x="325" y="48.4" width="6" height="2.5" fill="#000"/>
<text x="363.2" y="32.2" font-size="8.5" font-weight="normal" fill="#000" text-anchor="middle" >50</text>
<text x="364" y="42.6" font-size="8.5" font-weight="normal" fill="#000" text-anchor="middle" >Cs<tspan font-size="5.2" font-weight="bold" dy="-3.1" dx="1.2">+</tspan></text>
<rect x="360" y="48.4" width="6" height="2.5" fill="#000"/>
<text x="409" y="32.2" font-size="8.5" font-weight="normal" fill="#000" text-anchor="middle" >150</text>
<text x="409.8" y="42.6" font-size="8.5" font-weight="normal" fill="#000" text-anchor="middle" >Cs<tspan font-size="5.2" font-weight="bold" dy="-3.1" dx="1.2">+</tspan></text>
<rect x="405.6" y="48.4" width="5.8" height="2.5" fill="#000"/>
<polyline points="241.0,54.4 241.2,52.6 241.4,54.8 241.7,52.8 241.9,54.4 242.1,52.7 242.3,54.5 242.5,52.8 242.76,54.7 242.86,53.0 242.96,54.7 243.06,52.8 243.16,54.6 243.26,52.6 243.36,54.7 243.46,52.7 243.56,54.8 243.66,52.7 243.76,55.0 243.86,52.8 243.96,55.1 244.06,52.8 244.16,55.3 244.26,52.6 244.36,55.6 244.46,52.3 244.56,55.5 244.66,52.1 244.76,55.5 244.86,52.4 244.96,55.7 245.06,52.1 245.16,55.7 245.26,52.5 245.36,55.5 245.46,52.2 245.56,55.4 245.66,52.4 245.76,55.0 245.86,52.2 245.96,54.9 246.06,52.2 246.16,54.6 246.26,52.3 246.36,54.5 246.46,52.7 246.56,54.8 246.66,52.8 246.76,54.5 246.86,52.5 246.96,54.4 247.06,52.7 247.16,54.5 247.26,52.8 247.4,54.7 247.6,52.6 247.8,54.3 248.0,52.9 248.2,54.5 248.5,52.8 248.7,54.6 248.9,52.6 249.1,54.5 249.3,52.6 249.6,54.4 249.8,52.5 250.0,54.4 250.2,52.8 250.4,54.4 250.7,52.6 250.9,54.2 251.1,52.8 251.3,54.6 251.5,52.8 251.8,54.4 252.0,52.8 252.2,54.8 252.4,52.6 252.6,54.8 252.9,52.5 253.1,54.4 253.3,52.6 253.5,54.5 253.7,52.9 254.0,54.5 254.2,52.9 254.4,54.8 254.6,52.9 254.8,54.5 255.1,52.9 255.3,54.7 255.5,52.5 255.7,54.6 255.9,52.6 256.2,54.4 256.4,52.7 256.6,54.7 256.8,52.4 257.0,54.5 257.3,52.8 257.5,54.6 257.7,52.6 257.9,54.4 258.1,52.9 258.4,54.5 258.6,52.5 258.8,54.7 259.0,53.0 259.2,54.4 259.5,52.8 259.7,54.7 259.9,52.8 260.12,54.3 260.22,52.7 260.32,54.4 260.42,81.4 260.50,139.9 260.52,139.4 260.62,129.5 260.72,126.5 260.82,113.4 260.92,112.9 261.02,96.8 261.12,99.3 261.22,82.1 261.32,91.7 261.42,78.5 261.52,88.4 261.62,74.8 261.72,86.1 261.82,71.8 261.92,84.1 262.02,68.5 262.12,82.1 262.22,66.7 262.32,80.8 262.42,65.3 262.52,79.0 262.62,64.6 262.72,76.9 262.82,65.1 262.92,74.5 263.02,65.6 263.12,73.1 263.22,64.4 263.32,73.4 263.42,63.1 263.52,73.2 263.62,62.7 263.72,72.5 263.82,62.4 263.92,71.6 264.02,62.4 264.12,71.3 264.22,61.6 264.32,71.2 264.42,61.5 264.52,71.3 264.62,60.9 264.72,70.3 264.82,60.5 264.92,69.3 265.02,60.2 265.12,67.8 265.22,59.5 265.32,66.7 265.42,59.1 265.52,65.5 265.62,58.1 265.72,65.3 265.82,56.9 265.92,65.7 266.02,56.2 266.12,64.8 266.22,56.7 266.32,63.4 266.42,57.3 266.52,61.9 266.62,57.7 266.72,62.0 266.82,57.0 266.92,61.6 267.02,57.0 267.12,61.4 267.22,56.3 267.32,61.1 267.42,55.7 267.52,60.8 267.62,55.5 267.72,60.1 267.82,55.3 267.92,59.3 268.02,55.0 268.12,58.5 268.22,55.1 268.32,58.3 268.42,54.8 268.52,58.3 268.62,54.3 268.72,57.5 268.82,53.8 268.92,56.9 269.02,53.2 269.12,56.4 269.22,53.5 269.32,56.6 269.42,53.5 269.52,56.6 269.62,53.6 269.72,56.3 269.82,53.6 269.92,56.1 270.02,53.3 270.12,56.1 270.22,53.0 270.32,55.9 270.42,52.9 270.52,55.8 270.62,53.1 270.72,55.7 270.82,52.8 270.92,55.4 271.02,52.9 271.12,55.2 271.22,53.0 271.32,54.9 271.42,52.7 271.52,54.6 271.62,52.8 271.72,54.5 271.82,52.8 271.92,54.6 272.02,52.3 272.12,54.3 272.22,52.4 272.3,54.4 272.5,52.5 272.8,54.2 273.0,52.8 273.2,54.5 273.4,52.6 273.6,54.4 273.9,52.5 274.1,54.5 274.3,52.6 274.5,54.5 274.7,52.7 275.0,54.6 275.2,52.5 275.4,54.6 275.6,52.7 275.8,54.6 276.1,52.7 276.3,54.6 276.5,52.8 276.7,54.5 276.9,52.7 277.2,54.7 277.4,52.6 277.6,54.5 277.8,52.5 278.0,54.5 278.3,52.5 278.5,54.5 278.7,52.6 278.9,54.6 279.1,52.6 279.4,54.5 279.6,52.4 279.8,54.6 280.0,52.5 280.2,54.7 280.5,52.8 280.7,54.4 280.9,52.6 281.1,54.5 281.3,52.6 281.6,54.5 281.8,52.5 282.0,54.5 282.2,52.7 282.4,54.5 282.7,52.5 282.9,54.4 283.1,52.3 283.3,54.4 283.5,52.4 283.8,54.3 284.0,52.7 284.2,54.4 284.4,52.7 284.6,54.3 284.9,52.7 285.1,54.5 285.3,52.7 285.5,54.4 285.7,52.5 286.0,54.3 286.2,52.4 286.4,54.5 286.6,52.5 286.8,54.6 287.1,52.8 287.3,54.6 287.5,52.7 287.7,54.2 287.9,52.4 288.2,54.2 288.4,52.4 288.6,54.5 288.8,52.4 289.0,54.6 289.3,52.4 289.5,54.5 289.7,52.5 289.9,54.6 290.1,52.7 290.4,54.2 290.6,52.8 290.8,54.2 291.0,52.6 291.2,54.6 291.5,52.4 291.7,54.4 291.9,52.4 292.1,54.3 292.3,52.8 292.6,54.5 292.8,52.5 293.0,54.6 293.2,52.4 293.4,54.4 293.7,52.8 293.9,54.5 294.1,52.5 294.3,54.4 294.5,52.5 294.8,54.4 295.0,52.6 295.2,54.4 295.4,52.7 295.6,54.4 295.86,52.4 295.96,54.6 296.06,52.7 296.16,54.6 296.26,52.5 296.36,54.8 296.46,52.6 296.56,54.7 296.66,52.7 296.76,54.9 296.86,52.5 296.96,55.1 297.06,52.7 297.16,55.2 297.26,52.9 297.36,55.3 297.46,52.9 297.56,55.2 297.66,52.4 297.76,55.5 297.86,52.4 297.96,55.6 298.06,52.5 298.16,55.7 298.26,52.2 298.36,55.6 298.46,52.4 298.56,55.6 298.66,52.5 298.76,55.9 298.86,52.4 298.96,56.4 299.06,52.9 299.16,56.3 299.26,52.9 299.36,56.3 299.46,52.4 299.56,56.3 299.66,52.7 299.76,55.9 299.86,52.6 299.96,56.1 300.06,52.3 300.16,55.8 300.26,52.3 300.36,56.1 300.46,52.2 300.56,55.5 300.66,52.3 300.76,55.4 300.86,52.4 300.96,55.5 301.06,52.7 301.16,55.3 301.26,52.4 301.36,55.3 301.46,52.4 301.56,55.1 301.66,52.4 301.76,55.2 301.86,52.8 301.96,55.1 302.06,52.5 302.16,55.0 302.26,52.4 302.36,54.9 302.46,52.3 302.56,55.0 302.66,52.4 302.76,54.8 302.86,52.7 302.96,54.7 303.06,52.5 303.16,54.8 303.26,52.5 303.36,54.5 303.46,52.6 303.56,54.8 303.66,52.9 303.76,54.7 303.86,52.5 303.96,54.4 304.06,52.6 304.16,54.4 304.26,52.6 304.4,54.5 304.6,52.5 304.8,54.4 305.0,52.5 305.2,54.6 305.5,52.7 305.7,54.4 305.9,52.6 306.1,54.5 306.3,52.6 306.6,54.3 306.8,52.7 307.0,54.5 307.2,52.8 307.4,54.4 307.7,52.9 307.9,54.7 308.1,52.7 308.3,54.4 308.5,52.7 308.8,54.7 309.0,52.5 309.2,54.4 309.4,52.8 309.6,54.3 309.9,52.5 310.1,54.7 310.3,52.9 310.5,54.5 310.7,52.5 311.0,54.5 311.2,52.5 311.4,54.5 311.6,52.8 311.8,54.8 312.1,52.9 312.3,54.4 312.5,52.5 312.7,54.4 312.9,52.7 313.2,54.8 313.4,52.9 313.6,54.8 313.8,52.8 314.0,54.7 314.3,52.8 314.5,54.4 314.7,52.9 314.9,54.4 315.1,52.9 315.4,54.4 315.6,52.5 315.8,54.7 316.0,52.5 316.2,54.5 316.5,52.4 316.7,54.6 316.9,52.7 317.1,54.5 317.3,52.9 317.6,54.3 317.8,52.7 318.0,54.7 318.2,52.7 318.4,54.3 318.7,52.7 318.9,54.4 319.1,52.4 319.3,54.6 319.5,52.4 319.8,54.3 320.0,52.7 320.2,54.2 320.4,52.3 320.6,54.6 320.9,52.6 321.1,54.2 321.3,52.7 321.5,54.3 321.7,52.7 322.0,54.3 322.2,52.7 322.4,54.5 322.6,52.8 322.8,54.4 323.1,52.5 323.3,54.4 323.5,52.8 323.7,54.5 323.9,52.8 324.2,54.6 324.4,52.6 324.6,54.3 324.8,52.7 325.04,54.3 325.14,52.8 325.24,54.9 325.34,53.4 325.44,55.7 325.54,54.1 325.64,56.9 325.74,54.6 325.84,57.9 325.94,54.8 326.04,59.1 326.14,55.2 326.24,60.7 326.34,57.5 326.44,63.4 326.54,60.2 326.64,66.0 326.74,62.9 326.84,68.4 326.94,65.6 327.04,71.1 327.14,68.1 327.24,72.9 327.34,67.9 327.44,72.0 327.54,66.0 327.64,70.6 327.74,64.0 327.84,69.4 327.94,62.3 328.04,68.4 328.14,61.4 328.24,67.7 328.34,60.2 328.44,66.3 328.54,59.2 328.64,65.2 328.74,58.6 328.84,64.2 328.94,58.2 329.04,63.1 329.14,57.6 329.24,63.1 329.34,57.4 329.44,62.7 329.54,57.2 329.64,62.1 329.74,57.5 329.84,61.4 329.94,57.5 330.04,60.7 330.14,57.0 330.24,60.4 330.34,56.4 330.44,59.5 330.54,56.1 330.64,59.1 330.74,55.3 330.84,58.6 330.94,55.1 331.04,58.2 331.14,54.8 331.24,57.9 331.34,54.8 331.44,57.5 331.54,54.8 331.64,56.9 331.74,54.2 331.84,56.4 331.94,53.9 332.04,56.5 332.14,53.7 332.24,56.5 332.34,53.6 332.44,56.3 332.54,53.5 332.64,56.2 332.74,53.2 332.84,56.0 332.94,53.2 333.04,55.9 333.14,52.8 333.24,55.8 333.34,53.1 333.44,55.4 333.54,53.0 333.64,55.4 333.74,52.9 333.84,55.3 333.94,52.8 334.04,55.1 334.14,52.6 334.24,54.9 334.34,52.6 334.44,54.7 334.54,52.6 334.64,54.4 334.74,53.0 334.84,54.6 334.94,52.5 335.0,54.6 335.3,52.6 335.5,54.6 335.7,52.8 335.9,54.5 336.1,52.8 336.4,54.5 336.6,52.6 336.8,54.6 337.0,52.8 337.2,54.6 337.5,52.9 337.7,54.5 337.9,52.6 338.1,54.5 338.3,52.6 338.6,54.4 338.8,52.8 339.0,54.8 339.2,52.6 339.4,54.6 339.7,52.9 339.9,54.7 340.1,52.6 340.3,54.6 340.5,52.8 340.8,54.6 341.0,52.6 341.2,54.6 341.4,52.7 341.6,54.6 341.9,52.7 342.1,54.5 342.3,52.7 342.5,54.5 342.7,52.8 343.0,54.9 343.2,52.9 343.4,54.6 343.6,52.8 343.8,54.5 344.1,52.8 344.3,54.9 344.5,53.0 344.7,54.8 344.9,52.7 345.2,54.5 345.4,52.7 345.6,54.5 345.8,52.8 346.0,54.7 346.3,52.5 346.5,54.6 346.7,52.9 346.9,54.4 347.1,52.9 347.4,54.7 347.6,52.6 347.8,54.3 348.0,52.8 348.2,54.5 348.5,52.8 348.7,54.7 348.9,52.7 349.1,54.5 349.3,52.5 349.6,54.7 349.8,52.6 350.0,54.2 350.2,52.5 350.4,54.7 350.7,52.8 350.9,54.7 351.1,52.5 351.3,54.4 351.5,52.8 351.8,54.7 352.0,52.5 352.2,54.3 352.4,52.8 352.6,54.4 352.9,52.8 353.1,54.5 353.3,52.9 353.5,54.6 353.7,52.7 354.0,54.3 354.2,52.8 354.4,54.4 354.6,52.5 354.8,54.3 355.1,52.7 355.3,54.6 355.5,52.8 355.7,54.5 355.9,52.4 356.2,54.6 356.4,52.7 356.6,54.2 356.8,52.7 357.0,54.5 357.3,52.7 357.5,54.3 357.7,52.8 357.9,54.5 358.1,52.5 358.4,54.5 358.6,52.7 358.8,54.3 359.0,52.4 359.2,54.5 359.5,52.5 359.68,54.4 359.78,52.7 359.88,54.2 359.98,131.9 360.00,148.8 360.08,142.1 360.18,129.0 360.28,123.7 360.38,107.8 360.48,105.2 360.58,86.6 360.68,86.2 360.78,73.9 360.88,80.2 360.98,71.9 361.08,76.6 361.18,68.0 361.28,72.7 361.38,64.4 361.48,69.4 361.58,61.6 361.68,67.8 361.78,60.5 361.88,66.8 361.98,59.4 362.08,66.1 362.18,58.5 362.28,66.4 362.38,57.8 362.48,66.9 362.58,57.4 362.68,66.5 362.78,57.8 362.88,65.4 362.98,57.5 363.08,64.8 363.18,58.1 363.28,65.1 363.38,58.3 363.48,65.0 363.58,58.5 363.68,65.0 363.78,58.8 363.88,64.8 363.98,58.5 364.08,65.2 364.18,57.8 364.28,65.3 364.38,57.1 364.48,65.4 364.58,56.7 364.68,65.0 364.78,56.5 364.88,64.2 364.98,56.3 365.08,64.1 365.18,56.5 365.28,64.5 365.38,56.8 365.48,64.8 365.58,57.2 365.68,64.4 365.78,57.2 365.88,63.4 365.98,57.1 366.08,63.2 366.18,56.9 366.28,62.9 366.38,56.5 366.48,62.6 366.58,55.9 366.68,62.7 366.78,55.8 366.88,62.5 366.98,55.6 367.08,61.9 367.18,55.7 367.28,61.7 367.38,56.2 367.48,60.7 367.58,55.7 367.68,60.9 367.78,55.1 367.88,61.5 367.98,54.4 368.08,61.4 368.18,54.8 368.28,60.8 368.38,54.8 368.48,60.7 368.58,55.1 368.68,60.2 368.78,54.9 368.88,60.1 368.98,55.1 369.08,59.9 369.18,55.6 369.28,60.4 369.38,55.6 369.48,60.9 369.58,56.0 369.68,60.3 369.78,55.3 369.88,59.9 369.98,55.1 370.08,59.5 370.18,55.3 370.28,59.8 370.38,55.6 370.48,59.8 370.58,55.4 370.68,59.7 370.78,54.9 370.88,60.1 370.98,54.3 371.08,60.0 371.18,54.5 371.28,59.7 371.38,54.0 371.48,59.4 371.58,54.1 371.68,59.3 371.78,54.0 371.88,58.8 371.98,53.7 372.08,58.6 372.18,54.1 372.28,58.5 372.38,54.6 372.48,58.6 372.58,54.5 372.68,58.2 372.78,54.5 372.88,58.3 372.98,54.1 373.08,58.1 373.18,54.0 373.28,57.9 373.38,53.3 373.48,58.2 373.58,53.4 373.68,57.8 373.78,52.9 373.88,57.0 373.98,52.9 374.08,56.8 374.18,53.3 374.28,57.0 374.38,53.1 374.48,57.0 374.58,53.3 374.68,57.0 374.78,53.3 374.88,56.9 374.98,53.2 375.08,56.6 375.18,53.0 375.28,56.3 375.38,52.8 375.48,56.0 375.58,53.1 375.68,56.4 375.78,52.5 375.88,56.2 375.98,52.6 376.08,56.2 376.18,52.9 376.28,56.0 376.38,52.7 376.48,55.8 376.58,52.9 376.68,55.7 376.78,52.7 376.88,55.5 376.98,53.1 377.08,55.9 377.18,53.0 377.28,55.8 377.38,52.7 377.48,55.5 377.58,52.6 377.68,55.8 377.78,52.6 377.88,55.8 377.98,52.7 378.08,55.5 378.18,52.5 378.28,55.3 378.38,52.5 378.48,55.0 378.58,52.3 378.68,54.9 378.78,52.6 378.88,55.1 378.98,52.5 379.08,55.2 379.18,52.8 379.28,55.1 379.38,52.6 379.48,55.0 379.58,52.8 379.68,55.1 379.78,52.6 379.88,55.0 379.98,52.6 380.08,54.8 380.18,52.7 380.28,54.8 380.38,52.5 380.48,54.7 380.58,52.8 380.68,54.5 380.78,52.5 380.88,54.5 380.98,52.7 381.08,54.3 381.18,52.7 381.28,54.5 381.38,52.7 381.48,54.5 381.58,52.8 381.68,54.7 381.8,52.5 382.0,54.6 382.2,52.6 382.4,54.4 382.7,52.8 382.9,54.3 383.1,52.7 383.3,54.3 383.5,52.4 383.8,54.3 384.0,52.4 384.2,54.3 384.4,52.5 384.6,54.3 384.9,52.6 385.1,54.6 385.3,52.8 385.5,54.6 385.7,52.7 386.0,54.5 386.2,52.7 386.4,54.5 386.6,52.6 386.8,54.4 387.1,52.9 387.3,54.5 387.5,52.9 387.7,54.7 387.9,52.9 388.2,54.4 388.4,52.9 388.6,54.5 388.8,52.7 389.0,54.6 389.3,52.8 389.5,54.5 389.7,52.6 389.9,54.5 390.1,52.6 390.4,54.5 390.6,52.6 390.8,54.4 391.0,52.7 391.2,54.6 391.5,52.9 391.7,54.5 391.9,53.0 392.1,54.6 392.3,52.9 392.6,54.6 392.8,52.9 393.0,54.8 393.2,53.0 393.4,54.5 393.7,52.8 393.9,54.6 394.1,52.8 394.3,54.8 394.5,52.7 394.8,54.6 395.0,52.6 395.2,54.6 395.4,52.5 395.6,54.6 395.9,52.8 396.1,54.5 396.3,52.8 396.5,54.6 396.7,52.4 397.0,54.5 397.2,52.4 397.4,54.4 397.6,52.5 397.8,54.4 398.1,52.5 398.3,54.5 398.5,52.7 398.7,54.7 398.9,52.4 399.2,54.6 399.4,52.8 399.6,54.7 399.8,52.9 400.0,54.7 400.3,52.4 400.5,54.5 400.7,52.7 400.9,54.2 401.1,52.3 401.4,54.6 401.6,52.8 401.8,54.6 402.0,52.8 402.2,54.3 402.5,52.8 402.7,54.6 402.9,52.4 403.1,54.4 403.3,52.5 403.6,54.4 403.8,52.4 404.0,54.1 404.2,52.5 404.4,54.3 404.7,52.3 404.9,54.5 405.1,52.7 405.32,54.1 405.42,52.5 405.52,85.8 405.60,147.8 405.62,144.9 405.72,137.0 405.82,123.0 405.92,116.8 406.02,100.8 406.12,96.0 406.22,78.2 406.32,77.8 406.42,67.4 406.52,74.5 406.62,64.5 406.72,71.1 406.82,62.7 406.92,67.2 407.02,60.3 407.12,66.1 407.22,60.1 407.32,66.9 407.42,59.3 407.52,67.2 407.62,59.5 407.72,66.3 407.82,59.8 407.92,65.4 408.02,60.4 408.12,65.1 408.22,59.5 408.32,64.8 408.42,58.4 408.52,64.7 408.62,58.1 408.72,64.7 408.82,58.4 408.92,65.0 409.02,58.4 409.12,65.3 409.22,58.8 409.32,65.8 409.42,59.3 409.52,66.0 409.62,58.9 409.72,65.8 409.82,58.1 409.92,65.7 410.02,57.1 410.12,65.0 410.22,57.2 410.32,64.5 410.42,57.7 410.52,63.7 410.62,58.2 410.72,63.5 410.82,58.6 410.92,63.2 411.02,58.7 411.12,63.6 411.22,58.7 411.32,64.3 411.42,58.7 411.52,65.2 411.62,57.9 411.72,64.6 411.82,57.3 411.92,64.0 412.02,56.4 412.12,64.0 412.22,56.3 412.32,64.0 412.42,56.3 412.52,64.1 412.62,56.0 412.72,63.0 412.82,56.1 412.92,62.5 413.02,56.0 413.12,62.1 413.22,56.9 413.32,61.9 413.42,57.5 413.52,61.9 413.62,57.4 413.72,62.6 413.82,57.0 413.92,63.0 414.02,56.0 414.12,62.8 414.22,56.3 414.32,62.3 414.42,56.9 414.52,62.2 414.62,57.1 414.72,61.7 414.82,57.0 414.92,61.4 415.02,57.3 415.12,61.5 415.22,56.2 415.32,62.1 415.42,55.9 415.52,62.8 415.62,55.5 415.72,62.3 415.82,55.2 415.92,62.0 416.02,55.6 416.12,61.9 416.22,56.0 416.32,62.0 416.42,56.8 416.52,62.2 416.62,56.8 416.72,61.4 416.82,56.4 416.92,60.8 417.02,55.9 417.12,60.9 417.22,55.5 417.32,61.6 417.42,55.3 417.52,61.7 417.62,55.6 417.72,61.1 417.82,55.8 417.92,60.5 418.02,56.1 418.12,60.5 418.22,56.0 418.32,61.2 418.42,55.7 418.52,62.0 418.62,55.2 418.72,61.5 418.82,55.4 418.92,61.0 419.02,55.0 419.12,60.5 419.22,55.0 419.32,60.3 419.42,54.8 419.52,60.3 419.62,54.8 419.72,60.4 419.82,55.5 419.92,60.7 420.02,56.0 420.12,60.8 420.22,56.3 420.32,60.9 420.42,56.1 420.52,61.3 420.62,56.3 420.72,60.7 420.82,56.2 420.92,60.4 421.02,55.8 421.12,59.7 421.22,55.8 421.32,59.6 421.42,56.4 421.52,59.9 421.62,55.7 421.72,59.7 421.82,55.2 421.92,60.2 422.02,54.5 422.12,59.8 422.22,54.9 422.32,59.8 422.42,54.9 422.52,59.5 422.62,54.9 422.72,59.3 422.82,55.1 422.92,59.0 423.02,55.0 423.12,59.2 423.22,55.5 423.32,58.8 423.42,55.9 423.52,59.1 423.62,55.8 423.72,58.9 423.82,55.8 423.92,58.7 424.02,55.8 424.12,58.9 424.22,55.1 424.32,58.9 424.42,54.8 424.52,58.8 424.62,54.6 424.72,58.6 424.82,54.6 424.92,58.6 425.02,54.7 425.12,58.6 425.22,54.5 425.32,58.5 425.42,54.7 425.52,58.5 425.62,54.8 425.72,58.9 425.82,54.9 425.92,58.9 426.02,55.1 426.12,58.9 426.22,55.1 426.32,58.7 426.42,55.6 426.52,58.5 426.62,55.0 426.72,58.8 426.82,54.9 426.92,59.0 427.02,54.6 427.12,58.8 427.22,54.8 427.32,58.6 427.42,55.4 427.52,58.5 427.62,55.5 427.72,58.7 427.82,55.3 427.92,58.8 428.02,55.4 428.12,58.7 428.22,55.5 428.32,58.5 428.42,55.7 428.52,58.5 428.62,55.4 428.72,58.3 428.82,55.6 428.92,58.7 429.02,55.3 429.12,58.6 429.22,55.3 429.32,58.5 429.42,55.5 429.52,58.4 429.62,55.1 429.72,58.7 429.82,55.1 429.92,58.6 430.02,55.0 430.12,58.8 430.22,55.0 430.32,58.8 430.42,55.0 430.52,58.4 430.62,54.9 430.72,58.5 430.82,54.8 430.92,58.3 431.02,54.9 431.12,58.1 431.22,54.8 431.32,58.4 431.42,55.1 431.52,58.4 431.62,55.3 431.72,58.4 431.82,55.1 431.92,58.9 432.02,54.5 432.12,58.4 432.22,54.6 432.32,58.2 432.42,54.5 432.52,58.0 432.62,54.7 432.72,58.3 432.82,54.9 432.92,58.3 433.02,55.0 433.12,58.4 433.22,54.8 433.32,58.3 433.42,54.8 433.52,58.1 433.62,54.6 433.72,57.9 433.82,54.8 433.92,58.3 434.02,54.6 434.12,57.9 434.22,54.5 434.32,58.1 434.42,54.7 434.52,58.2 434.62,54.7 434.72,58.2 434.82,54.7 434.92,58.0 435.02,55.1 435.12,57.9 435.22,54.9 435.32,57.7 435.42,54.8 435.52,57.5 435.62,54.8 435.72,57.5 435.82,54.5 435.92,57.4 436.02,55.0 436.12,57.5 436.22,54.8 436.32,57.4 436.42,54.7 436.52,57.5 436.62,54.2 436.72,57.0 436.82,54.4 436.92,56.5 437.02,53.9 437.12,56.1 437.22,53.5 437.32,55.9 437.42,53.6 437.52,55.5 437.62,53.2 437.72,55.6 437.82,53.2 437.92,55.0 438.02,52.8 438.12,54.9 438.22,52.8 438.32,54.8 438.42,52.7 438.5,54.6 438.7,52.7 439.0,54.6 439.2,52.9 439.4,54.8 439.6,52.8 439.8,54.8 440.1,52.8 440.3,54.5 440.5,52.6 440.7,54.6 440.9,52.7 441.2,54.7 441.4,52.6 441.6,54.6 441.8,52.7 442.0,54.8 442.3,52.6 442.5,54.8 442.7,52.6 442.9,54.6 443.1,52.9 443.4,54.7 443.6,52.8 443.8,54.3 444.0,52.5 444.2,54.5 444.5,52.9 444.7,54.5 444.9,52.7 445.1,54.4 445.3,52.7 445.6,54.6 445.8,52.5 446.0,54.3 446.2,52.7 446.4,54.5 446.7,52.4 446.9,54.6 447.1,52.6 447.3,54.5 447.5,52.5 447.8,54.2 448.0,52.4 448.2,54.3 448.4,52.5 448.6,54.5 448.9,52.4 449.1,54.4 449.3,52.9 449.5,54.3 449.7,52.6 450.0,54.5 450.2,52.8 450.4,54.4 450.6,52.5 450.8,54.4 451.1,52.5 451.3,54.3 451.5,52.5 451.7,54.6 451.9,52.5 452.2,54.6 452.4,52.8" fill="none" stroke="#14148c" stroke-width="0.85" stroke-linejoin="round" stroke-linecap="round"/>
<polyline points="289,86.4 289,131.4 303.2,131.4" fill="none" stroke="#000" stroke-width="1.4" stroke-linejoin="miter"/>
<text x="284" y="113.65" font-size="8.5" font-weight="normal" fill="#000" text-anchor="end" >1 nA</text>
<text x="295" y="144.45" font-size="9" font-weight="normal" fill="#000" text-anchor="middle" >1 min</text>
<text x="241" y="176" font-size="10.5" font-weight="normal" fill="#000" text-anchor="start" >G</text>
<text x="323.8" y="178" font-size="10.7" font-weight="bold" fill="#000" text-anchor="start" >E192<tspan fill="#5a5af5">K</tspan></text>
<text x="273.7" y="198.2" font-size="8.5" font-weight="normal" fill="#000" text-anchor="middle" >0.1</text>
<text x="274.5" y="209" font-size="8.5" font-weight="normal" fill="#000" text-anchor="middle" >Gly</text>
<rect x="271" y="214.4" width="6" height="2.5" fill="#000"/>
<text x="306.6" y="198.2" font-size="8.5" font-weight="normal" fill="#000" text-anchor="middle" >0.5</text>
<text x="307.4" y="209" font-size="8.5" font-weight="normal" fill="#000" text-anchor="middle" >Cs<tspan font-size="5.2" font-weight="bold" dy="-3.1" dx="1.2">+</tspan></text>
<rect x="302.6" y="214.4" width="6" height="2.5" fill="#000"/>
<text x="337.2" y="198.2" font-size="8.5" font-weight="normal" fill="#000" text-anchor="middle" >5</text>
<text x="338" y="209" font-size="8.5" font-weight="normal" fill="#000" text-anchor="middle" >Cs<tspan font-size="5.2" font-weight="bold" dy="-3.1" dx="1.2">+</tspan></text>
<rect x="335" y="214.4" width="5.6" height="2.5" fill="#000"/>
<text x="369.2" y="198.2" font-size="8.5" font-weight="normal" fill="#000" text-anchor="middle" >50</text>
<text x="370" y="209" font-size="8.5" font-weight="normal" fill="#000" text-anchor="middle" >Cs<tspan font-size="5.2" font-weight="bold" dy="-3.1" dx="1.2">+</tspan></text>
<rect x="367" y="214.4" width="5.6" height="2.5" fill="#000"/>
<text x="401.2" y="198.2" font-size="8.5" font-weight="normal" fill="#000" text-anchor="middle" >150</text>
<text x="402" y="209" font-size="8.5" font-weight="normal" fill="#000" text-anchor="middle" >Cs<tspan font-size="5.2" font-weight="bold" dy="-3.1" dx="1.2">+</tspan></text>
<rect x="399" y="214.4" width="5.6" height="2.5" fill="#000"/>
<polyline points="252.0,221.8 252.2,219.4 252.4,222.1 252.7,219.3 252.9,221.7 253.1,219.7 253.3,222.2 253.5,219.5 253.8,222.2 254.0,219.6 254.2,222.2 254.4,219.5 254.6,221.7 254.9,219.7 255.1,222.0 255.3,219.1 255.5,221.9 255.7,219.1 256.0,222.1 256.2,219.2 256.4,221.6 256.6,219.5 256.8,221.7 257.1,219.4 257.3,221.6 257.5,219.4 257.7,221.6 257.9,219.4 258.2,221.8 258.4,219.4 258.6,221.8 258.8,219.2 259.0,221.9 259.3,219.2 259.5,222.2 259.7,219.5 259.9,221.7 260.1,219.3 260.4,221.7 260.6,219.2 260.8,222.2 261.0,219.4 261.2,222.1 261.5,219.6 261.7,221.9 261.9,219.4 262.1,221.9 262.3,219.5 262.6,222.0 262.8,219.6 263.0,222.2 263.2,219.6 263.4,222.0 263.7,219.1 263.9,222.0 264.1,219.1 264.3,221.8 264.5,219.6 264.8,222.1 265.0,219.4 265.2,222.1 265.4,219.5 265.6,221.9 265.9,219.7 266.1,222.2 266.3,219.3 266.5,221.9 266.7,219.2 267.0,221.8 267.2,219.3 267.4,221.7 267.6,219.5 267.8,221.6 268.1,219.4 268.3,221.9 268.5,219.7 268.7,221.8 268.9,219.4 269.2,222.0 269.4,219.8 269.6,222.0 269.8,219.7 270.0,221.8 270.3,219.7 270.5,221.8 270.7,219.8 270.9,221.9 271.14,219.4 271.24,222.1 271.34,220.2 271.44,223.1 271.54,221.5 271.64,224.9 271.74,223.5 271.84,226.6 271.94,225.4 272.04,228.4 272.14,227.1 272.20,228.7 272.24,231.6 272.34,232.1 272.44,238.3 272.54,238.8 272.64,244.7 272.74,245.7 272.84,251.9 272.94,252.8 273.04,258.6 273.14,259.3 273.24,265.2 273.34,265.8 273.44,272.4 273.54,272.6 273.64,278.7 273.74,279.4 273.84,285.6 273.94,286.4 274.04,292.1 274.14,293.4 274.24,299.4 274.34,299.7 274.44,305.9 274.50,306.7 274.54,304.9 274.64,305.7 274.74,301.0 274.84,301.7 274.94,297.4 275.04,298.6 275.14,293.9 275.24,294.7 275.30,292.7 275.34,290.7 275.44,292.2 275.54,287.8 275.64,289.8 275.74,284.8 275.84,286.9 275.94,281.9 276.04,283.8 276.14,278.7 276.24,280.9 276.34,275.6 276.44,278.2 276.54,272.7 276.64,275.9 276.74,270.5 276.84,274.2 276.94,268.5 277.04,271.6 277.14,266.0 277.24,269.5 277.34,263.7 277.44,267.7 277.54,261.7 277.64,265.9 277.74,258.6 277.84,263.4 277.94,255.9 278.04,260.5 278.14,253.3 278.24,259.6 278.34,251.5 278.44,258.2 278.54,249.3 278.64,256.8 278.74,247.4 278.84,256.1 278.94,245.3 279.04,255.3 279.14,243.6 279.24,254.4 279.34,241.6 279.44,254.1 279.54,239.6 279.64,252.4 279.74,239.6 279.84,251.0 279.94,239.7 280.04,249.6 280.14,238.3 280.24,248.9 280.34,237.3 280.44,247.8 280.54,236.0 280.64,247.6 280.74,236.3 280.84,247.4 280.94,236.7 281.04,246.5 281.14,235.1 281.24,244.8 281.34,232.8 281.44,243.0 281.54,231.5 281.64,242.8 281.74,230.7 281.84,242.9 281.94,229.5 282.04,243.4 282.14,229.3 282.24,241.6 282.34,230.1 282.44,240.6 282.54,230.0 282.64,240.3 282.74,228.8 282.84,240.9 282.94,227.5 283.04,241.2 283.14,227.4 283.24,241.0 283.34,227.4 283.44,241.4 283.54,227.0 283.64,240.2 283.74,226.1 283.84,237.9 283.94,225.5 284.04,236.4 284.14,225.2 284.24,237.0 284.34,225.0 284.44,237.3 284.54,225.0 284.64,237.7 284.74,225.4 284.84,237.0 284.94,225.9 285.04,237.0 285.14,226.5 285.24,235.9 285.34,226.6 285.44,234.6 285.54,226.8 285.64,234.5 285.74,225.4 285.84,233.8 285.94,224.5 286.04,234.1 286.14,224.5 286.24,234.8 286.34,224.5 286.44,235.7 286.54,224.3 286.64,235.4 286.74,223.7 286.84,234.9 286.94,223.1 287.04,234.7 287.14,223.0 287.24,233.3 287.34,223.9 287.44,231.5 287.54,224.1 287.64,231.3 287.74,223.3 287.84,231.7 287.94,222.7 288.04,232.4 288.14,222.0 288.24,232.3 288.34,221.1 288.44,232.0 288.54,221.0 288.64,231.3 288.74,221.7 288.84,230.4 288.94,222.5 289.04,229.4 289.14,221.9 289.24,230.0 289.34,221.1 289.44,230.2 289.54,221.1 289.64,229.7 289.74,220.6 289.84,228.7 289.94,220.4 290.04,227.7 290.14,219.9 290.24,228.3 290.34,220.1 290.44,228.2 290.54,219.9 290.64,228.3 290.74,220.7 290.84,228.8 290.94,221.4 291.04,228.5 291.14,221.8 291.24,228.1 291.34,221.3 291.44,227.9 291.54,221.5 291.64,227.9 291.74,220.9 291.84,227.7 291.94,220.5 292.04,227.7 292.14,220.4 292.24,227.1 292.34,220.3 292.44,226.3 292.54,220.4 292.64,225.8 292.74,220.4 292.84,226.2 292.94,220.9 293.04,226.1 293.14,220.4 293.24,226.5 293.34,219.7 293.44,226.4 293.54,219.4 293.64,226.8 293.74,219.9 293.84,226.2 293.94,220.5 294.04,226.1 294.14,220.5 294.24,225.7 294.34,220.1 294.44,225.5 294.54,220.2 294.64,225.0 294.74,220.4 294.84,225.3 294.94,220.7 295.04,225.0 295.14,220.0 295.24,225.4 295.34,219.8 295.44,225.8 295.54,218.9 295.64,225.6 295.74,219.8 295.84,225.0 295.94,219.8 296.04,224.3 296.14,219.7 296.24,224.1 296.34,219.5 296.44,224.0 296.54,219.3 296.64,223.7 296.74,219.5 296.84,223.9 296.94,219.5 297.04,224.3 297.14,219.5 297.24,223.8 297.34,219.6 297.44,223.9 297.54,219.2 297.64,223.7 297.74,219.5 297.84,223.2 297.94,219.6 298.04,223.5 298.14,219.7 298.24,223.5 298.34,220.0 298.44,223.2 298.54,219.4 298.64,223.5 298.74,219.8 298.84,223.1 298.94,219.4 299.04,222.9 299.14,219.3 299.24,223.3 299.34,219.5 299.44,222.7 299.54,219.5 299.64,223.0 299.74,219.7 299.84,222.5 299.94,219.5 300.04,222.5 300.14,219.6 300.24,222.6 300.34,219.4 300.44,223.0 300.54,219.2 300.64,222.8 300.74,219.8 300.84,222.5 300.94,219.7 301.04,222.2 301.14,219.3 301.24,222.4 301.34,219.6 301.44,222.6 301.54,219.5 301.64,222.2 301.74,219.5 301.84,222.0 301.94,219.7 302.04,222.0 302.14,219.6 302.24,222.0 302.3,219.6 302.6,222.2 302.8,219.9 303.0,222.4 303.2,219.6 303.4,222.1 303.7,219.7 303.9,222.1 304.1,219.9 304.3,222.1 304.5,219.4 304.8,222.2 305.0,219.5 305.2,222.2 305.4,219.7 305.6,222.1 305.86,219.7 305.96,222.5 306.06,219.4 306.16,222.4 306.26,219.7 306.36,222.5 306.46,220.0 306.56,222.7 306.66,219.9 306.76,222.8 306.86,219.9 306.96,222.6 307.06,220.0 307.16,222.5 307.26,219.7 307.36,222.7 307.46,219.9 307.56,222.8 307.66,219.7 307.76,222.7 307.86,219.9 307.96,223.4 308.06,220.1 308.16,223.3 308.26,220.1 308.36,223.1 308.46,220.0 308.56,223.3 308.66,220.2 308.76,223.7 308.86,220.1 308.96,223.4 309.06,220.2 309.16,223.8 309.26,220.4 309.36,224.1 309.46,220.8 309.56,224.0 309.66,220.3 309.76,223.9 309.86,220.4 309.96,224.4 310.06,220.1 310.16,224.5 310.26,220.1 310.36,224.1 310.46,220.3 310.56,223.9 310.66,220.7 310.76,223.6 310.86,220.7 310.96,223.3 311.06,220.6 311.16,223.6 311.26,220.1 311.36,223.7 311.46,220.5 311.56,223.6 311.66,220.0 311.76,223.5 311.86,219.7 311.96,223.0 312.06,219.6 312.16,223.4 312.26,219.9 312.36,223.1 312.46,219.8 312.56,222.8 312.66,220.1 312.76,223.3 312.86,219.9 312.96,222.7 313.06,219.5 313.16,223.0 313.26,219.8 313.36,223.0 313.46,219.6 313.56,222.3 313.66,219.4 313.76,222.4 313.86,219.9 313.96,222.6 314.06,219.8 314.16,222.5 314.26,219.9 314.36,222.4 314.46,219.3 314.56,222.0 314.66,219.6 314.76,221.9 314.86,219.6 314.96,222.1 315.06,219.7 315.16,222.3 315.26,219.3 315.4,221.8 315.6,219.6 315.8,222.0 316.0,219.4 316.2,222.0 316.5,219.7 316.7,222.3 316.9,219.5 317.1,222.1 317.3,219.5 317.6,221.8 317.8,219.7 318.0,222.3 318.2,219.7 318.4,221.8 318.7,219.6 318.9,222.1 319.1,219.2 319.3,221.9 319.5,219.4 319.8,221.8 320.0,219.6 320.2,222.2 320.4,219.7 320.6,222.2 320.9,219.7 321.1,222.0 321.3,219.4 321.5,221.8 321.7,219.3 322.0,222.2 322.2,219.1 322.4,221.9 322.6,219.7 322.8,222.1 323.1,219.4 323.3,222.3 323.5,219.8 323.7,222.3 323.9,219.1 324.2,221.7 324.4,219.6 324.6,221.9 324.8,219.7 325.0,222.2 325.3,219.3 325.5,221.9 325.7,219.1 325.9,222.2 326.1,219.5 326.4,221.7 326.6,219.5 326.8,222.1 327.0,219.1 327.2,222.2 327.5,219.3 327.7,222.2 327.9,219.2 328.1,222.1 328.3,219.7 328.6,221.9 328.8,219.3 329.0,222.1 329.2,219.4 329.4,222.1 329.7,219.4 329.9,222.2 330.1,219.2 330.3,222.2 330.5,219.4 330.8,222.3 331.0,219.8 331.2,221.9 331.4,219.4 331.6,222.3 331.9,219.5 332.1,222.0 332.3,219.7 332.5,221.9 332.7,219.6 333.0,222.2 333.2,219.2 333.4,222.3 333.6,219.2 333.8,221.7 334.1,219.4 334.28,222.2 334.38,219.6 334.48,222.1 334.58,219.6 334.68,222.4 334.78,219.9 334.88,222.6 334.98,219.7 335.08,223.1 335.18,219.8 335.28,223.5 335.38,220.2 335.48,224.1 335.58,219.9 335.68,224.7 335.78,220.1 335.88,225.0 335.98,220.6 336.08,225.2 336.18,220.6 336.28,226.0 336.38,221.4 336.48,226.2 336.58,221.3 336.68,226.2 336.78,221.5 336.88,226.5 336.98,221.6 337.08,227.2 337.18,222.2 337.28,227.7 337.38,222.6 337.48,228.5 337.58,222.6 337.68,229.1 337.78,222.6 337.88,229.7 337.98,222.8 338.08,230.0 338.18,222.5 338.28,230.1 338.38,222.3 338.48,229.6 338.58,222.7 338.68,230.2 338.78,223.3 338.88,231.2 338.98,223.7 339.08,231.8 339.18,224.0 339.28,232.6 339.38,225.2 339.48,232.7 339.58,225.0 339.68,233.0 339.78,224.7 339.88,233.5 339.98,223.9 340.08,233.8 340.18,225.4 340.28,234.6 340.38,227.0 340.48,235.9 340.58,227.5 340.68,236.2 340.78,227.9 340.88,237.0 340.98,228.1 341.08,237.2 341.18,228.4 341.28,236.9 341.38,228.7 341.48,236.8 341.58,229.2 341.68,237.7 341.78,228.8 341.88,239.1 341.98,228.2 342.08,240.4 342.18,228.2 342.28,240.6 342.38,228.3 342.48,240.7 342.58,229.0 342.68,240.5 342.78,229.9 342.88,240.8 342.98,231.1 343.08,240.6 343.18,231.0 343.28,240.6 343.38,230.2 343.48,240.5 343.58,229.8 343.68,240.0 343.78,229.2 343.88,238.4 343.98,228.9 344.08,237.4 344.18,227.9 344.28,237.8 344.38,227.8 344.48,237.2 344.58,227.1 344.68,236.1 344.78,227.4 344.88,235.3 344.98,226.6 345.08,234.8 345.18,225.6 345.28,234.4 345.38,224.7 345.48,234.0 345.58,224.0 345.68,232.8 345.78,224.0 345.88,231.6 345.98,224.4 346.08,230.6 346.18,223.2 346.28,230.9 346.38,222.4 346.48,231.2 346.58,222.5 346.68,230.2 346.78,222.4 346.88,229.8 346.98,223.0 347.08,229.2 347.18,222.5 347.28,228.1 347.38,221.7 347.48,227.7 347.58,221.4 347.68,227.0 347.78,220.4 347.88,226.6 347.98,220.1 348.08,226.5 348.18,220.3 348.28,225.8 348.38,220.1 348.48,225.2 348.58,220.5 348.68,224.8 348.78,220.3 348.88,225.0 348.98,220.8 349.08,224.8 349.18,220.3 349.28,224.3 349.38,220.2 349.48,223.9 349.58,220.1 349.68,224.0 349.78,219.7 349.88,223.3 349.98,219.8 350.08,223.5 350.18,219.8 350.28,222.9 350.38,219.9 350.48,222.7 350.58,219.8 350.68,222.4 350.78,219.2 350.88,222.3 350.98,219.3 351.08,222.1 351.18,219.6 351.28,221.7 351.4,219.0 351.6,221.9 351.8,219.5 352.0,221.8 352.3,219.4 352.5,221.6 352.7,219.3 352.9,221.7 353.1,219.4 353.4,221.6 353.6,219.4 353.8,221.8 354.0,219.7 354.2,222.1 354.5,219.7 354.7,222.3 354.9,219.7 355.1,222.3 355.3,219.1 355.6,221.8 355.8,219.4 356.0,221.8 356.2,219.6 356.4,222.3 356.7,219.8 356.9,221.9 357.1,219.8 357.3,221.8 357.5,219.4 357.8,222.1 358.0,219.2 358.2,222.0 358.4,219.6 358.6,222.3 358.9,219.4 359.1,222.0 359.3,219.7 359.5,222.3 359.7,219.6 360.0,221.8 360.2,219.6 360.4,222.1 360.6,219.3 360.8,221.7 361.1,219.5 361.3,221.7 361.5,219.4 361.7,222.3 361.9,219.8 362.2,221.9 362.4,219.5 362.6,221.9 362.8,219.6 363.0,221.9 363.3,219.2 363.5,221.8 363.7,219.3 363.9,221.8 364.1,219.5 364.4,222.0 364.6,219.5 364.8,221.7 365.0,219.6 365.2,221.9 365.5,219.6 365.7,222.2 365.9,219.6 366.1,221.8 366.3,219.8 366.6,221.9 366.78,219.5 366.88,222.3 366.98,220.8 367.08,224.3 367.18,223.1 367.28,226.7 367.38,225.9 367.48,229.4 367.58,228.1 367.68,231.9 367.70,230.8 367.78,232.0 367.88,237.9 367.98,238.1 368.08,244.0 368.18,244.4 368.28,250.0 368.38,250.8 368.48,256.6 368.58,256.9 368.68,262.3 368.78,263.0 368.88,268.5 368.98,269.4 369.08,275.2 369.18,275.8 369.28,280.9 369.38,281.4 369.48,287.1 369.58,288.1 369.60,289.8 369.68,290.1 369.78,285.7 369.88,287.1 369.98,282.4 370.08,283.5 370.18,278.9 370.28,280.9 370.38,275.9 370.48,278.3 370.58,273.0 370.68,275.0 370.78,269.7 370.88,272.2 370.98,267.5 371.08,269.2 371.18,264.3 371.28,267.2 371.38,261.7 371.48,264.3 371.58,259.2 371.68,262.0 371.78,256.3 371.88,259.5 371.98,253.7 372.08,257.8 372.18,252.0 372.28,255.6 372.38,250.4 372.48,253.6 372.58,248.7 372.68,252.0 372.78,247.1 372.88,250.8 372.98,245.6 373.08,248.9 373.18,243.3 373.28,247.9 373.38,241.4 373.48,246.8 373.58,239.6 373.68,244.6 373.78,237.8 373.88,243.1 373.98,235.7 374.08,241.7 374.18,235.4 374.28,240.3 374.38,234.8 374.48,239.2 374.58,234.0 374.68,238.3 374.78,232.7 374.88,237.3 374.98,231.5 375.08,236.3 375.18,230.9 375.28,235.5 375.38,230.0 375.48,235.4 375.58,229.5 375.68,234.3 375.78,228.5 375.88,233.2 375.98,227.6 376.08,232.6 376.18,227.2 376.28,232.2 376.38,226.0 376.48,231.3 376.58,225.6 376.68,230.8 376.78,224.9 376.88,230.9 376.98,224.2 377.08,230.6 377.18,224.3 377.28,229.7 377.38,223.8 377.48,229.5 377.58,223.9 377.68,229.1 377.78,223.3 377.88,229.0 377.98,223.6 378.08,228.1 378.18,222.6 378.28,228.0 378.38,222.2 378.48,227.4 378.58,221.7 378.68,227.0 378.78,221.2 378.88,227.0 378.98,221.1 379.08,226.4 379.18,221.0 379.28,225.6 379.38,220.7 379.48,225.2 379.58,220.7 379.68,225.4 379.78,220.4 379.88,224.8 379.98,220.5 380.08,224.5 380.18,220.5 380.28,224.6 380.38,220.5 380.48,223.6 380.58,220.2 380.68,223.5 380.78,220.3 380.88,223.6 380.98,219.7 381.08,223.4 381.18,219.9 381.28,223.2 381.38,220.0 381.48,223.0 381.58,219.5 381.68,223.1 381.78,219.6 381.88,223.0 381.98,219.9 382.08,222.9 382.18,219.8 382.28,222.7 382.38,219.8 382.48,222.6 382.58,219.5 382.68,222.0 382.78,219.5 382.88,222.4 382.98,219.3 383.08,222.3 383.18,219.4 383.28,221.9 383.4,219.3 383.6,222.2 383.8,219.5 384.0,221.7 384.3,219.5 384.5,221.7 384.7,219.2 384.9,222.2 385.1,219.4 385.4,222.1 385.6,219.4 385.8,221.9 386.0,219.1 386.2,222.0 386.5,219.3 386.7,221.8 386.9,219.4 387.1,222.0 387.3,219.1 387.6,221.9 387.8,219.1 388.0,222.1 388.2,219.3 388.4,222.1 388.7,219.2 388.9,221.6 389.1,219.4 389.3,221.7 389.5,219.4 389.8,222.0 390.0,219.2 390.2,221.8 390.4,219.4 390.6,222.1 390.9,219.1 391.1,221.6 391.3,219.0 391.5,221.6 391.7,219.0 392.0,221.9 392.2,219.1 392.4,222.1 392.6,219.6 392.8,222.2 393.1,219.6 393.3,222.0 393.5,219.2 393.7,221.9 393.9,219.2 394.2,221.8 394.4,219.4 394.6,221.7 394.8,219.4 395.0,222.1 395.3,219.5 395.5,222.1 395.7,219.5 395.9,221.7 396.1,219.3 396.4,222.0 396.6,219.1 396.8,222.1 397.0,219.1 397.2,222.1 397.5,219.1 397.7,221.8 397.9,219.1 398.12,222.1 398.22,219.1 398.32,222.3 398.42,221.0 398.52,224.5 398.62,223.2 398.72,226.4 398.82,225.2 398.92,229.0 399.02,227.2 399.12,231.0 399.20,230.8 399.22,230.7 399.32,240.7 399.42,245.5 399.52,255.6 399.62,260.0 399.72,270.4 399.82,275.2 399.92,285.0 400.02,289.9 400.12,299.5 400.22,304.3 400.32,313.9 400.40,318.7 400.42,316.7 400.52,315.7 400.62,308.6 400.72,307.9 400.82,301.0 400.92,300.3 401.02,293.6 401.12,292.8 401.22,285.9 401.32,286.5 401.42,280.4 401.52,281.0 401.62,274.3 401.72,275.1 401.82,268.1 401.92,270.1 402.02,262.4 402.12,264.0 402.22,257.1 402.32,259.7 402.42,254.4 402.52,256.7 402.62,251.4 402.72,253.8 402.82,248.5 402.92,250.9 403.02,245.2 403.12,248.8 403.22,242.2 403.32,247.0 403.42,240.2 403.52,246.3 403.62,238.8 403.72,245.2 403.82,237.9 403.92,243.2 404.02,236.1 404.12,241.8 404.22,235.4 404.32,240.8 404.42,234.8 404.52,239.9 404.62,234.1 404.72,240.1 404.82,234.3 404.92,239.7 405.02,233.7 405.12,239.7 405.22,233.3 405.32,239.2 405.42,232.0 405.52,238.9 405.62,231.6 405.72,239.8 405.82,231.4 405.92,240.4 406.02,231.1 406.12,240.4 406.22,231.5 406.32,240.1 406.42,231.1 406.52,240.6 406.62,230.9 406.72,239.6 406.82,230.5 406.92,239.2 407.02,230.2 407.12,239.2 407.22,230.4 407.32,238.5 407.42,230.9 407.52,238.4 407.62,230.4 407.72,238.8 407.82,230.5 407.92,239.1 408.02,230.4 408.12,239.1 408.22,230.0 408.32,238.4 408.42,229.9 408.52,238.1 408.62,229.8 408.72,237.7 408.82,230.6 408.92,237.4 409.02,230.2 409.12,237.2 409.22,229.8 409.32,237.7 409.42,229.8 409.52,237.5 409.62,229.4 409.72,237.1 409.82,229.7 409.92,236.7 410.02,230.1 410.12,236.6 410.22,230.4 410.32,235.9 410.42,230.4 410.52,235.5 410.62,230.3 410.72,235.6 410.82,230.3 410.92,235.7 411.02,229.4 411.12,235.7 411.22,228.8 411.32,235.1 411.42,228.6 411.52,235.2 411.62,228.7 411.72,235.0 411.82,229.2 411.92,234.7 412.02,229.3 412.12,234.2 412.22,229.0 412.32,234.7 412.42,228.2 412.52,234.4 412.62,228.4 412.72,234.6 412.82,228.6 412.92,234.3 413.02,228.6 413.12,234.1 413.22,228.6 413.32,233.5 413.42,228.0 413.52,233.5 413.62,228.0 413.72,232.7 413.82,227.1 413.92,232.0 414.02,227.1 414.12,231.7 414.22,226.9 414.32,231.6 414.42,226.5 414.52,232.0 414.62,226.0 414.72,231.0 414.82,226.6 414.92,230.7 415.02,225.9 415.12,230.4 415.22,225.6 415.32,229.8 415.42,225.0 415.52,229.7 415.62,224.6 415.72,229.7 415.82,224.9 415.92,229.2 416.02,225.0 416.12,229.4 416.22,224.2 416.32,228.4 416.42,223.6 416.52,228.4 416.62,223.8 416.72,228.3 416.82,223.1 416.92,227.7 417.02,223.1 417.12,227.6 417.22,222.8 417.32,227.1 417.42,222.9 417.52,226.6 417.62,222.2 417.72,226.3 417.82,221.8 417.92,225.8 418.02,221.9 418.12,225.2 418.22,221.6 418.32,224.6 418.42,221.4 418.52,224.4 418.62,221.2 418.72,224.2 418.82,220.8 418.92,224.1 419.02,220.7 419.12,223.4 419.22,220.6 419.32,223.4 419.42,220.1 419.52,223.0 419.62,220.1 419.72,222.3 419.82,219.6 419.92,222.4 420.02,219.8 420.12,222.4 420.22,219.8 420.3,221.9 420.5,219.5 420.8,222.1 421.0,219.3 421.2,222.2 421.4,219.6 421.6,222.1 421.9,219.5 422.1,222.0 422.3,219.7 422.5,221.8 422.7,219.2 423.0,222.1 423.2,219.5 423.4,222.3 423.6,219.4 423.8,221.9 424.1,219.8 424.3,221.9 424.5,219.7 424.7,222.2 424.9,219.8 425.2,222.4 425.4,219.6 425.6,222.4 425.8,219.6 426.0,222.0 426.3,219.7 426.5,221.9 426.7,219.5 426.9,222.0 427.1,219.5 427.4,222.3 427.6,219.4 427.8,222.4 428.0,219.8 428.2,222.2 428.5,219.8 428.7,221.9 428.9,219.7 429.1,222.3 429.3,219.3 429.6,222.2 429.8,219.4 430.0,222.0 430.2,219.7 430.4,222.1 430.7,219.3 430.9,222.0 431.1,219.8 431.3,222.2 431.5,219.9 431.8,221.8 432.0,219.9 432.2,222.4 432.4,219.3 432.6,222.4 432.9,219.3 433.1,222.3 433.3,219.3 433.5,222.0 433.7,219.8 434.0,222.1 434.2,219.8 434.4,222.4 434.6,219.7 434.8,222.2" fill="none" stroke="#5a5af5" stroke-width="1.1" stroke-linejoin="round" stroke-linecap="round"/>
<polyline points="313.6,247 313.6,298.4 334.6,298.4" fill="none" stroke="#000" stroke-width="1.4" stroke-linejoin="miter"/>
<text x="308.4" y="277.45" font-size="8.5" font-weight="normal" fill="#000" text-anchor="end" >1 nA</text>
<text x="323" y="311.65" font-size="9" font-weight="normal" fill="#000" text-anchor="middle" >1 min</text>
<text x="468" y="8" font-size="10.5" font-weight="normal" fill="#000" text-anchor="start" >K</text>
<text x="556.9" y="11.2" font-size="10.7" font-weight="bold" fill="#000" text-anchor="start" >D194<tspan fill="#666666">A</tspan></text>
<text x="485.2" y="32.2" font-size="8.5" font-weight="normal" fill="#000" text-anchor="middle" >0.1</text>
<text x="486" y="42.6" font-size="8.5" font-weight="normal" fill="#000" text-anchor="middle" >Gly</text>
<rect x="483" y="48.4" width="6" height="2.5" fill="#000"/>
<text x="523.2" y="32.2" font-size="8.5" font-weight="normal" fill="#000" text-anchor="middle" >0.5</text>
<text x="524" y="42.6" font-size="8.5" font-weight="normal" fill="#000" text-anchor="middle" >Cs<tspan font-size="5.2" font-weight="bold" dy="-3.1" dx="1.2">+</tspan></text>
<rect x="519.4" y="48.4" width="5.6" height="2.5" fill="#000"/>
<text x="553.2" y="32.2" font-size="8.5" font-weight="normal" fill="#000" text-anchor="middle" >5</text>
<text x="554" y="42.6" font-size="8.5" font-weight="normal" fill="#000" text-anchor="middle" >Cs<tspan font-size="5.2" font-weight="bold" dy="-3.1" dx="1.2">+</tspan></text>
<rect x="549.4" y="48.4" width="5.6" height="2.5" fill="#000"/>
<text x="586.6" y="32.2" font-size="8.5" font-weight="normal" fill="#000" text-anchor="middle" >50</text>
<text x="587.4" y="42.6" font-size="8.5" font-weight="normal" fill="#000" text-anchor="middle" >Cs<tspan font-size="5.2" font-weight="bold" dy="-3.1" dx="1.2">+</tspan></text>
<rect x="583.6" y="48.4" width="5.6" height="2.5" fill="#000"/>
<text x="636.2" y="32.2" font-size="8.5" font-weight="normal" fill="#000" text-anchor="middle" >150</text>
<text x="637" y="42.6" font-size="8.5" font-weight="normal" fill="#000" text-anchor="middle" >Cs<tspan font-size="5.2" font-weight="bold" dy="-3.1" dx="1.2">+</tspan></text>
<rect x="634.4" y="48.4" width="5.6" height="2.5" fill="#000"/>
<polyline points="470.0,54.2 470.2,52.5 470.4,54.0 470.7,52.7 470.9,54.0 471.1,52.4 471.3,53.9 471.5,52.7 471.8,54.0 472.0,52.6 472.2,54.0 472.4,52.6 472.6,53.9 472.9,52.6 473.1,54.0 473.3,52.8 473.5,53.9 473.7,52.5 474.0,54.0 474.2,52.6 474.4,53.9 474.6,52.7 474.8,53.8 475.1,52.6 475.3,54.1 475.5,52.5 475.7,54.0 475.9,52.8 476.2,54.1 476.4,52.5 476.6,54.1 476.8,52.6 477.0,54.1 477.3,52.6 477.5,54.1 477.7,52.5 477.9,54.1 478.1,52.6 478.4,54.0 478.6,52.5 478.8,54.0 479.0,52.5 479.2,54.2 479.5,52.7 479.7,53.9 479.9,52.5 480.1,54.1 480.3,52.5 480.6,54.1 480.8,52.3 481.0,53.9 481.2,52.6 481.4,54.1 481.7,52.5 481.9,54.1 482.1,52.4 482.3,54.0 482.5,52.6 482.8,53.8 483.0,52.6 483.2,54.1 483.4,52.6 483.6,54.1 483.86,52.5 483.96,53.8 484.06,52.6 484.16,64.2 484.20,68.6 484.26,66.8 484.36,67.4 484.46,62.4 484.56,65.1 484.66,58.2 484.76,63.4 484.86,56.7 484.96,62.6 485.06,55.8 485.16,62.3 485.26,54.9 485.36,61.9 485.46,54.7 485.56,61.9 485.66,54.6 485.76,61.5 485.86,54.5 485.96,61.4 486.06,54.7 486.16,61.3 486.26,54.8 486.36,61.5 486.46,54.9 486.56,61.4 486.66,54.4 486.76,61.0 486.86,53.5 486.96,61.1 487.06,53.4 487.16,60.7 487.26,54.1 487.36,60.4 487.46,54.9 487.56,60.2 487.66,55.3 487.76,60.9 487.86,55.3 487.96,61.8 488.06,55.4 488.16,62.0 488.26,54.4 488.36,62.0 488.46,53.8 488.56,61.8 488.66,53.9 488.76,61.4 488.86,54.3 488.96,61.5 489.06,54.4 489.16,61.1 489.26,54.8 489.36,60.7 489.46,54.8 489.56,60.4 489.66,54.6 489.76,59.9 489.86,54.4 489.96,59.5 490.06,54.1 490.16,59.5 490.26,53.8 490.36,59.3 490.46,53.7 490.56,59.2 490.66,53.5 490.76,59.3 490.86,53.5 490.96,59.0 491.06,53.6 491.16,59.0 491.26,53.9 491.36,58.5 491.46,54.1 491.56,58.7 491.66,54.0 491.76,59.3 491.86,53.2 491.96,59.6 492.06,53.2 492.16,59.5 492.26,54.0 492.36,59.2 492.46,54.8 492.56,58.8 492.66,55.0 492.76,59.1 492.86,54.6 492.96,59.5 493.06,54.6 493.16,59.0 493.26,54.6 493.36,58.6 493.46,54.2 493.56,58.2 493.66,54.3 493.76,58.5 493.86,54.3 493.96,58.9 494.06,54.3 494.16,58.6 494.26,54.2 494.36,58.4 494.46,53.9 494.56,58.1 494.66,53.6 494.76,57.3 494.86,53.4 494.96,56.9 495.06,53.4 495.16,56.6 495.26,53.7 495.36,56.8 495.46,53.8 495.56,57.0 495.66,53.6 495.76,57.0 495.86,53.6 495.96,57.2 496.06,53.3 496.16,57.2 496.26,53.7 496.36,56.7 496.46,53.7 496.56,56.5 496.66,53.7 496.76,56.6 496.86,53.8 496.96,56.8 497.06,53.5 497.16,56.6 497.26,53.2 497.36,56.3 497.46,53.1 497.56,56.0 497.66,53.2 497.76,55.7 497.86,53.3 497.96,55.6 498.06,53.5 498.16,55.5 498.26,53.4 498.36,55.5 498.46,53.3 498.56,55.8 498.66,53.2 498.76,55.5 498.86,53.2 498.96,55.7 499.06,53.3 499.16,55.4 499.26,52.9 499.36,55.3 499.46,53.2 499.56,55.0 499.66,53.0 499.76,54.7 499.86,52.8 499.96,54.7 500.06,52.8 500.16,54.8 500.26,52.9 500.36,54.8 500.46,52.8 500.56,54.6 500.66,52.8 500.76,54.5 500.86,52.6 500.96,54.7 501.06,52.7 501.16,54.7 501.26,52.5 501.36,54.6 501.46,52.7 501.56,54.3 501.66,52.6 501.76,54.2 501.86,52.5 501.96,54.0 502.06,52.5 502.16,54.2 502.26,52.6 502.36,54.0 502.46,52.4 502.56,54.1 502.66,52.6 502.76,54.0 502.86,52.4 502.96,53.9 503.06,52.4 503.16,53.8 503.26,52.4 503.36,53.9 503.46,52.3 503.56,53.8 503.66,52.2 503.76,53.9 503.86,52.3 503.96,53.9 504.06,52.5 504.16,54.0 504.26,52.5 504.4,53.8 504.6,52.5 504.8,53.8 505.0,52.6 505.2,53.8 505.5,52.6 505.7,53.9 505.9,52.5 506.1,53.9 506.3,52.4 506.6,54.0 506.8,52.6 507.0,54.1 507.2,52.4 507.4,54.0 507.7,52.4 507.9,54.0 508.1,52.5 508.3,53.9 508.5,52.5 508.8,53.9 509.0,52.6 509.2,53.8 509.4,52.6 509.6,54.0 509.9,52.4 510.1,53.9 510.3,52.3 510.5,53.7 510.7,52.4 511.0,53.9 511.2,52.6 511.4,53.9 511.6,52.4 511.8,54.1 512.1,52.6 512.3,54.0 512.5,52.5 512.7,53.9 512.9,52.7 513.2,53.8 513.4,52.4 513.6,53.9 513.8,52.6 514.0,54.0 514.3,52.5 514.5,54.1 514.7,52.7 514.9,54.1 515.1,52.7 515.4,53.9 515.6,52.6 515.8,53.9 516.0,52.5 516.2,54.0 516.5,52.5 516.7,54.0 516.90,52.6 517.00,54.0 517.10,52.8 517.20,54.1 517.30,52.8 517.40,54.0 517.50,52.8 517.60,54.2 517.70,52.7 517.80,54.2 517.90,52.7 518.00,54.2 518.10,52.7 518.20,54.5 518.30,52.4 518.40,54.4 518.50,52.6 518.60,54.5 518.70,52.6 518.80,54.6 518.90,52.6 519.00,54.7 519.10,52.9 519.20,54.5 519.30,52.9 519.40,54.8 519.50,52.6 519.60,54.6 519.70,52.8 519.80,54.9 519.90,52.6 520.00,54.9 520.10,52.7 520.20,54.8 520.30,53.0 520.40,55.0 520.50,53.3 520.60,55.1 520.70,53.1 520.80,55.5 520.90,52.9 521.00,55.5 521.10,53.0 521.20,55.4 521.30,53.1 521.40,55.4 521.50,53.3 521.60,55.1 521.70,53.1 521.80,55.2 521.90,53.0 522.00,55.4 522.10,52.7 522.20,55.3 522.30,52.7 522.40,55.4 522.50,52.9 522.60,55.1 522.70,52.6 522.80,55.0 522.90,52.6 523.00,54.8 523.10,52.6 523.20,54.8 523.30,52.5 523.40,55.0 523.50,52.8 523.60,55.1 523.70,52.8 523.80,55.1 523.90,53.0 524.00,55.3 524.10,53.0 524.20,55.2 524.30,52.6 524.40,55.1 524.50,52.4 524.60,55.1 524.70,52.6 524.80,55.2 524.90,52.7 525.00,54.8 525.10,52.9 525.20,55.0 525.30,52.8 525.40,54.8 525.50,52.6 525.60,55.1 525.70,52.7 525.80,55.0 525.90,52.7 526.00,55.1 526.10,52.8 526.20,55.2 526.30,52.6 526.40,55.3 526.50,52.8 526.60,55.0 526.70,52.7 526.80,55.1 526.90,52.8 527.00,54.9 527.10,52.6 527.20,55.0 527.30,52.7 527.40,55.1 527.50,52.7 527.60,54.8 527.70,52.7 527.80,54.9 527.90,52.5 528.00,54.8 528.10,52.5 528.20,54.7 528.30,52.6 528.40,54.7 528.50,52.8 528.60,54.8 528.70,52.8 528.80,54.8 528.90,52.5 529.00,54.6 529.10,52.4 529.20,54.7 529.30,52.5 529.40,54.6 529.50,52.4 529.60,54.4 529.70,52.6 529.80,54.5 529.90,52.8 530.00,54.4 530.10,52.4 530.20,54.6 530.30,52.7 530.40,54.5 530.50,52.6 530.60,54.6 530.70,52.4 530.80,54.6 530.90,52.4 531.00,54.4 531.10,52.4 531.20,54.5 531.30,52.4 531.40,54.6 531.50,52.7 531.60,54.5 531.70,52.6 531.80,54.7 531.90,52.7 532.00,54.6 532.10,52.5 532.20,54.5 532.30,52.5 532.40,54.7 532.50,52.6 532.60,54.5 532.70,52.7 532.80,54.5 532.90,52.5 533.00,54.5 533.10,52.5 533.20,54.4 533.30,52.4 533.40,54.5 533.50,52.5 533.60,54.3 533.70,52.3 533.80,54.2 533.90,52.3 534.00,54.0 534.10,52.4 534.20,54.1 534.30,52.5 534.40,54.2 534.50,52.4 534.60,54.1 534.70,52.6 534.80,54.3 534.90,52.4 535.00,54.4 535.10,52.7 535.20,54.3 535.30,52.4 535.40,54.2 535.50,52.6 535.60,54.3 535.70,52.3 535.80,54.1 535.90,52.5 536.00,54.2 536.10,52.4 536.20,54.2 536.30,52.4 536.40,54.3 536.50,52.5 536.60,54.1 536.70,52.5 536.80,54.1 536.90,52.5 537.00,54.2 537.10,52.4 537.20,54.0 537.30,52.6 537.40,53.9 537.50,52.5 537.60,54.0 537.70,52.4 537.80,53.8 537.90,52.2 538.00,54.1 538.10,52.5 538.20,54.0 538.30,52.4 538.40,54.1 538.50,52.6 538.60,53.8 538.70,52.5 538.80,53.9 538.90,52.4 539.00,54.1 539.10,52.5 539.20,54.0 539.30,52.4 539.40,54.0 539.50,52.3 539.60,54.0 539.70,52.6 539.80,54.0 539.90,52.6 540.00,53.9 540.10,52.3 540.20,53.8 540.3,52.6 540.5,54.0 540.7,52.6 541.0,53.9 541.2,52.7 541.4,54.1 541.6,52.5 541.8,53.8 542.1,52.3 542.3,54.1 542.5,52.5 542.7,54.1 542.9,52.3 543.2,53.7 543.4,52.5 543.6,54.1 543.8,52.4 544.0,54.0 544.3,52.4 544.5,53.9 544.7,52.5 544.9,53.8 545.1,52.4 545.4,53.9 545.6,52.5 545.8,53.9 546.0,52.6 546.2,53.9 546.5,52.4 546.7,53.9 546.9,52.4 547.1,54.0 547.34,52.4 547.44,54.1 547.54,52.5 547.64,53.9 547.74,52.7 547.84,54.3 547.94,52.4 548.04,54.3 548.14,52.7 548.24,54.5 548.34,52.8 548.44,54.5 548.54,52.7 548.64,54.5 548.74,52.7 548.84,54.9 548.94,52.8 549.04,54.8 549.14,52.7 549.24,54.9 549.34,53.0 549.44,55.0 549.54,53.0 549.64,55.2 549.74,53.0 549.84,55.3 549.94,53.2 550.04,55.5 550.14,53.1 550.24,55.6 550.34,53.0 550.44,55.7 550.54,52.9 550.64,56.0 550.74,53.1 550.84,56.0 550.94,53.1 551.04,56.0 551.14,53.0 551.24,56.6 551.34,53.5 551.44,56.8 551.54,53.7 551.64,57.0 551.74,53.8 551.84,56.7 551.94,53.6 552.04,56.8 552.14,53.7 552.24,57.0 552.34,54.2 552.44,57.5 552.54,54.4 552.64,57.9 552.74,54.4 552.84,58.3 552.94,54.2 553.04,58.5 553.14,54.3 553.24,58.9 553.34,54.6 553.44,59.2 553.54,55.0 553.64,59.1 553.74,55.0 553.84,58.9 553.94,54.9 554.04,58.8 554.14,54.8 554.24,58.9 554.34,54.8 554.44,59.1 554.54,54.6 554.64,58.9 554.74,54.1 554.84,59.0 554.94,53.9 555.04,59.1 555.14,53.6 555.24,58.9 555.34,53.5 555.44,59.0 555.54,53.6 555.64,58.5 555.74,54.0 555.84,58.1 555.94,54.3 556.04,57.8 556.14,54.4 556.24,57.6 556.34,54.2 556.44,57.9 556.54,54.0 556.64,57.7 556.74,53.7 556.84,57.7 556.94,53.6 557.04,57.6 557.14,53.5 557.24,57.6 557.34,53.5 557.44,57.4 557.54,53.2 557.64,57.0 557.74,53.3 557.84,56.5 557.94,52.9 558.04,56.6 558.14,53.0 558.24,56.5 558.34,53.4 558.44,56.5 558.54,53.3 558.64,56.3 558.74,53.4 558.84,56.3 558.94,53.2 559.04,55.8 559.14,53.1 559.24,55.7 559.34,53.0 559.44,55.6 559.54,53.2 559.64,55.3 559.74,52.9 559.84,55.3 559.94,53.0 560.04,55.1 560.14,52.8 560.24,55.1 560.34,53.0 560.44,55.1 560.54,53.1 560.64,54.8 560.74,52.9 560.84,54.8 560.94,52.8 561.04,54.6 561.14,52.5 561.24,54.3 561.34,52.6 561.44,54.1 561.54,52.6 561.64,54.1 561.74,52.5 561.84,54.0 561.94,52.5 562.04,53.9 562.14,52.6 562.24,54.1 562.3,52.7 562.6,54.2 562.8,52.7 563.0,53.9 563.2,52.7 563.4,54.0 563.7,52.5 563.9,54.0 564.1,52.4 564.3,54.0 564.5,52.5 564.8,54.0 565.0,52.5 565.2,53.9 565.4,52.5 565.6,53.9 565.9,52.7 566.1,53.9 566.3,52.5 566.5,54.2 566.7,52.6 567.0,54.2 567.2,52.6 567.4,54.1 567.6,52.6 567.8,53.9 568.1,52.5 568.3,54.2 568.5,52.5 568.7,54.2 568.9,52.8 569.2,54.0 569.4,52.5 569.6,54.1 569.8,52.5 570.0,54.2 570.3,52.6 570.5,54.1 570.7,52.4 570.9,54.0 571.1,52.5 571.4,54.2 571.6,52.7 571.8,53.9 572.0,52.6 572.2,54.2 572.5,52.5 572.7,54.1 572.9,52.7 573.1,53.9 573.3,52.8 573.6,54.2 573.8,52.7 574.0,54.0 574.2,52.6 574.4,54.2 574.7,52.5 574.9,54.0 575.1,52.7 575.3,54.3 575.5,52.8 575.8,54.1 576.0,52.5 576.2,54.1 576.4,52.8 576.6,54.1 576.9,52.7 577.1,53.9 577.3,52.6 577.5,54.1 577.7,52.6 578.0,54.0 578.2,52.8 578.4,54.1 578.6,52.6 578.8,54.2 579.1,52.8 579.3,54.3 579.5,52.8 579.7,54.0 579.9,52.6 580.2,54.2 580.4,52.7 580.6,54.2 580.8,52.7 581.0,54.0 581.3,52.5 581.5,54.0 581.7,52.8 581.9,54.1 582.1,52.7 582.4,54.2 582.6,52.6 582.8,54.1 583.0,52.5 583.2,53.9 583.5,52.8 583.7,54.0 583.90,52.7 584.00,54.2 584.10,52.6 584.20,58.6 584.30,79.9 584.30,79.2 584.40,77.6 584.50,70.7 584.60,71.3 584.70,61.8 584.80,64.1 584.90,56.6 585.00,62.2 585.10,55.7 585.20,61.2 585.30,55.2 585.40,60.0 585.50,55.1 585.60,60.2 585.70,54.4 585.80,60.3 585.90,53.5 586.00,60.7 586.10,53.2 586.20,60.4 586.30,53.2 586.40,60.1 586.50,53.6 586.60,59.7 586.70,54.1 586.80,59.8 586.90,54.4 587.00,59.5 587.10,54.3 587.20,59.7 587.30,53.7 587.40,59.8 587.50,53.1 587.60,59.9 587.70,53.6 587.80,60.1 587.90,53.5 588.00,60.3 588.10,54.0 588.20,60.0 588.30,54.3 588.40,59.9 588.50,54.9 588.60,59.5 588.70,54.5 588.80,59.5 588.90,54.6 589.00,59.0 589.10,54.3 589.20,59.4 589.30,54.1 589.40,59.7 589.50,53.6 589.60,59.9 589.70,53.3 589.80,59.9 589.90,53.5 590.00,60.1 590.10,53.4 590.20,59.3 590.30,53.4 590.40,59.0 590.50,53.8 590.60,58.5 590.70,54.1 590.80,58.3 590.90,54.3 591.00,57.8 591.10,54.3 591.20,57.9 591.30,54.0 591.40,57.8 591.50,53.7 591.60,57.9 591.70,53.6 591.80,58.7 591.90,53.4 592.00,59.1 592.10,53.3 592.20,58.5 592.30,53.8 592.40,57.5 592.50,54.0 592.60,57.7 592.70,54.2 592.80,58.0 592.90,53.9 593.00,58.4 593.10,53.9 593.20,58.2 593.30,54.2 593.40,57.9 593.50,54.5 593.60,57.8 593.70,54.4 593.80,57.6 593.90,54.4 594.00,57.5 594.10,54.3 594.20,57.7 594.30,54.4 594.40,58.0 594.50,54.3 594.60,58.0 594.70,54.2 594.80,57.2 594.90,53.6 595.00,56.7 595.10,53.5 595.20,57.0 595.30,53.9 595.40,57.0 595.50,53.9 595.60,57.2 595.70,53.9 595.80,57.3 595.90,53.6 596.00,57.4 596.10,53.6 596.20,57.0 596.30,53.5 596.40,56.8 596.50,53.3 596.60,57.1 596.70,53.5 596.80,57.3 596.90,53.5 597.00,57.7 597.10,53.7 597.20,57.4 597.30,54.0 597.40,56.9 597.50,54.0 597.60,56.9 597.70,54.2 597.80,56.5 597.90,54.0 598.00,56.4 598.10,53.8 598.20,56.3 598.30,53.6 598.40,56.5 598.50,53.3 598.60,56.3 598.70,53.2 598.80,56.5 598.90,53.4 599.00,56.8 599.10,53.5 599.20,57.0 599.30,53.4 599.40,56.8 599.50,53.5 599.60,56.5 599.70,53.3 599.80,56.8 599.90,53.4 600.00,56.8 600.10,53.3 600.20,56.7 600.30,53.5 600.40,56.6 600.50,53.4 600.60,56.8 600.70,53.3 600.80,56.8 600.90,53.4 601.00,56.8 601.10,53.0 601.20,56.5 601.30,52.9 601.40,56.7 601.50,52.9 601.60,56.7 601.70,53.2 601.80,56.2 601.90,53.2 602.00,56.1 602.10,53.2 602.20,55.9 602.30,53.4 602.40,55.7 602.50,53.3 602.60,55.6 602.70,53.3 602.80,55.8 602.90,53.2 603.00,55.7 603.10,53.3 603.20,55.6 603.30,53.2 603.40,55.7 603.50,53.5 603.60,55.6 603.70,53.2 603.80,55.4 603.90,53.3 604.00,55.5 604.10,53.0 604.20,55.5 604.30,52.9 604.40,55.8 604.50,52.7 604.60,55.8 604.70,52.9 604.80,56.0 604.90,53.1 605.00,56.1 605.10,53.3 605.20,55.6 605.30,53.5 605.40,55.5 605.50,53.3 605.60,55.4 605.70,53.0 605.80,55.4 605.90,53.1 606.00,55.3 606.10,53.0 606.20,55.2 606.30,52.8 606.40,55.5 606.50,52.9 606.60,55.3 606.70,52.7 606.80,55.6 606.90,53.0 607.00,55.4 607.10,53.0 607.20,55.3 607.30,52.9 607.40,55.4 607.50,53.1 607.60,55.2 607.70,53.0 607.80,55.5 607.90,53.1 608.00,55.2 608.10,52.9 608.20,55.4 608.30,53.2 608.40,55.1 608.50,53.3 608.60,55.0 608.70,53.1 608.80,55.2 608.90,53.0 609.00,55.0 609.10,52.9 609.20,55.2 609.30,52.8 609.40,55.2 609.50,53.0 609.60,55.0 609.70,52.7 609.80,55.0 609.90,52.7 610.00,55.0 610.10,52.5 610.20,54.8 610.30,52.6 610.40,54.8 610.50,52.8 610.60,54.6 610.70,53.0 610.80,54.6 610.90,53.0 611.00,54.8 611.10,52.7 611.20,54.8 611.30,52.5 611.40,54.6 611.50,52.6 611.60,54.6 611.70,52.5 611.80,54.7 611.90,52.6 612.00,54.3 612.10,52.7 612.20,54.6 612.30,52.8 612.40,54.5 612.50,52.7 612.60,54.4 612.70,52.8 612.80,54.7 612.90,52.7 613.00,54.7 613.10,52.7 613.20,54.6 613.30,52.5 613.40,54.6 613.50,52.5 613.60,54.7 613.70,52.6 613.80,54.3 613.90,52.5 614.00,54.4 614.10,52.6 614.20,54.3 614.30,52.7 614.40,54.4 614.50,52.6 614.60,54.3 614.70,52.6 614.80,54.5 614.90,52.6 615.00,54.5 615.10,52.6 615.20,54.5 615.30,52.7 615.40,54.5 615.50,52.7 615.60,54.5 615.70,52.6 615.80,54.5 615.90,52.7 616.00,54.5 616.10,52.7 616.20,54.2 616.30,52.5 616.40,54.2 616.50,52.5 616.60,54.4 616.70,52.6 616.80,54.1 616.90,52.6 617.00,54.0 617.10,52.5 617.20,54.1 617.30,52.7 617.40,54.2 617.50,52.5 617.60,54.0 617.70,52.5 617.80,54.2 617.90,52.3 618.00,54.1 618.10,52.4 618.20,54.0 618.30,52.6 618.40,53.8 618.50,52.4 618.60,54.2 618.70,52.5 618.80,54.1 618.90,52.6 619.00,54.0 619.10,52.5 619.20,54.1 619.30,52.5 619.40,53.9 619.50,52.6 619.60,53.9 619.70,52.5 619.80,53.9 619.90,52.6 620.00,54.1 620.10,52.5 620.20,54.1 620.3,52.6 620.5,54.0 620.7,52.6 621.0,53.9 621.2,52.6 621.4,53.8 621.6,52.6 621.8,54.0 622.1,52.3 622.3,53.9 622.5,52.4 622.7,53.8 622.9,52.4 623.2,53.9 623.4,52.7 623.6,54.1 623.8,52.6 624.0,53.9 624.3,52.5 624.5,54.1 624.7,52.5 624.9,53.9 625.1,52.5 625.4,53.9 625.6,52.7 625.8,53.9 626.0,52.7 626.2,53.9 626.5,52.4 626.7,53.9 626.9,52.5 627.1,53.9 627.3,52.5 627.6,53.8 627.8,52.3 628.0,53.9 628.2,52.6 628.4,53.8 628.7,52.4 628.9,53.8 629.1,52.4 629.3,53.8 629.5,52.3 629.8,54.1 630.0,52.6 630.2,53.9 630.4,52.7 630.6,54.0 630.9,52.5 631.1,54.2 631.3,52.6 631.5,53.9 631.7,52.6 632.0,54.1 632.2,52.8 632.4,54.1 632.6,52.7 632.8,53.8 633.1,52.5 633.3,54.0 633.5,52.7 633.7,53.9 633.9,52.6 634.2,53.8 634.4,52.6 634.6,53.7 634.82,52.6 634.92,53.9 635.02,52.5 635.12,67.1 635.20,93.2 635.22,91.0 635.32,86.1 635.42,76.3 635.52,73.0 635.62,61.7 635.72,61.1 635.82,56.0 635.92,60.5 636.02,55.8 636.12,59.8 636.22,54.8 636.32,59.2 636.42,54.5 636.52,59.4 636.62,54.2 636.72,59.2 636.82,53.6 636.92,58.7 637.02,53.1 637.12,58.9 637.22,53.0 637.32,59.1 637.42,53.1 637.52,59.6 637.62,53.3 637.72,59.6 637.82,53.6 637.92,59.4 638.02,53.9 638.12,59.1 638.22,53.9 638.32,59.2 638.42,53.9 638.52,58.9 638.62,54.2 638.72,59.1 638.82,54.6 638.92,59.3 639.02,54.6 639.12,59.2 639.22,54.0 639.32,59.2 639.42,53.3 639.52,59.0 639.62,53.0 639.72,58.7 639.82,53.2 639.92,58.4 640.02,53.1 640.12,58.4 640.22,53.2 640.32,58.4 640.42,53.1 640.52,58.5 640.62,53.5 640.72,58.8 640.82,53.5 640.92,59.1 641.02,53.2 641.12,59.1 641.22,53.4 641.32,59.1 641.42,53.6 641.52,59.2 641.62,53.7 641.72,58.5 641.82,54.0 641.92,57.8 642.02,54.3 642.12,57.9 642.22,54.0 642.32,58.5 642.42,53.9 642.52,58.8 642.62,53.9 642.72,58.6 642.82,53.7 642.92,59.0 643.02,53.3 643.12,58.8 643.22,53.2 643.32,58.1 643.42,53.3 643.52,58.1 643.62,53.5 643.72,58.1 643.82,53.4 643.92,58.2 644.02,53.6 644.12,57.9 644.22,53.5 644.32,57.8 644.42,53.4 644.52,57.2 644.62,53.6 644.72,57.5 644.82,53.7 644.92,57.8 645.02,54.0 645.12,57.4 645.22,53.6 645.32,57.5 645.42,53.5 645.52,57.3 645.62,53.5 645.72,57.6 645.82,53.5 645.92,57.6 646.02,53.8 646.12,57.4 646.22,53.8 646.32,57.0 646.42,53.9 646.52,56.8 646.62,54.0 646.72,57.1 646.82,53.6 646.92,57.4 647.02,53.4 647.12,57.6 647.22,53.2 647.32,57.4 647.42,53.1 647.52,57.0 647.62,53.5 647.72,56.8 647.82,53.7 647.92,56.9 648.02,53.7 648.12,56.9 648.22,54.1 648.32,56.9 648.42,53.8 648.52,57.1 648.62,53.7 648.72,57.2 648.82,53.5 648.92,56.9 649.02,53.1 649.12,56.9 649.22,53.4 649.32,56.9 649.42,53.2 649.52,56.6 649.62,53.7 649.72,56.8 649.82,53.8 649.92,56.8 650.02,54.0 650.12,56.6 650.22,53.4 650.32,56.5 650.42,53.5 650.52,56.1 650.62,53.4 650.72,56.2 650.82,53.0 650.92,56.4 651.02,52.8 651.12,56.7 651.22,53.1 651.32,56.6 651.42,52.9 651.52,56.5 651.62,53.1 651.72,56.4 651.82,53.3 651.92,56.6 652.02,53.8 652.12,56.9 652.22,53.5 652.32,56.7 652.42,53.7 652.52,56.7 652.62,53.3 652.72,56.4 652.82,53.2 652.92,56.2 653.02,53.0 653.12,55.9 653.22,52.9 653.32,56.2 653.42,53.0 653.52,56.2 653.62,53.3 653.72,55.8 653.82,53.0 653.92,55.8 654.02,53.0 654.12,55.6 654.22,52.9 654.32,56.0 654.42,52.9 654.52,55.9 654.62,52.8 654.72,56.1 654.82,53.1 654.92,56.3 655.02,53.6 655.12,56.1 655.22,53.4 655.32,56.2 655.42,53.1 655.52,56.4 655.62,53.1 655.72,56.2 655.82,52.9 655.92,56.0 656.02,52.9 656.12,55.8 656.22,52.8 656.32,55.9 656.42,52.7 656.52,55.6 656.62,52.8 656.72,55.6 656.82,53.1 656.92,55.4 657.02,53.2 657.12,55.7 657.22,53.0 657.32,55.7 657.42,53.0 657.52,56.0 657.62,53.2 657.72,56.1 657.82,53.2 657.92,55.9 658.02,53.3 658.12,55.8 658.22,53.4 658.32,55.7 658.42,53.4 658.52,55.4 658.62,53.1 658.72,55.7 658.82,53.1 658.92,55.8 659.02,52.9 659.12,55.8 659.22,52.8 659.32,55.4 659.42,52.9 659.52,55.1 659.62,52.8 659.72,55.4 659.82,52.6 659.92,55.2 660.02,52.6 660.12,55.5 660.22,52.6 660.32,55.4 660.42,52.9 660.52,55.3 660.62,52.7 660.72,55.4 660.82,52.9 660.92,55.7 661.02,52.8 661.12,55.6 661.22,53.0 661.32,55.4 661.42,53.2 661.52,55.6 661.62,53.1 661.72,55.4 661.82,52.9 661.92,55.2 662.02,53.0 662.12,55.2 662.22,53.1 662.32,55.4 662.42,53.0 662.52,55.4 662.62,53.0 662.72,55.4 662.82,53.0 662.92,55.2 663.02,53.3 663.12,55.2 663.22,53.0 663.32,55.5 663.42,52.9 663.52,55.6 663.62,53.1 663.72,55.4 663.82,52.9 663.92,55.2 664.02,53.0 664.12,55.3 664.22,52.9 664.32,55.4 664.42,52.9 664.52,55.4 664.62,52.9 664.72,55.2 664.82,53.2 664.92,55.2 665.02,53.0 665.12,55.3 665.22,52.8 665.32,55.2 665.42,52.8 665.52,55.1 665.62,52.7 665.72,55.2 665.82,52.9 665.92,55.3 666.02,52.9 666.12,55.2 666.22,53.0 666.32,55.2 666.42,53.2 666.52,55.0 666.62,53.1 666.72,55.0 666.82,53.1 666.92,55.2 667.02,52.9 667.12,55.0 667.22,52.8 667.32,55.1 667.42,52.6 667.52,55.2 667.62,52.7 667.72,55.0 667.82,52.7 667.92,55.2 668.02,52.6 668.12,54.8 668.22,52.9 668.32,54.8 668.42,52.8 668.52,54.7 668.62,52.9 668.72,54.7 668.82,52.6 668.92,54.9 669.02,52.6 669.12,54.8 669.22,52.9 669.32,55.0 669.42,52.8 669.52,54.9 669.62,53.0 669.72,54.9 669.82,52.8 669.92,55.0 670.02,52.7 670.12,54.9 670.22,53.0 670.32,54.9 670.42,53.0 670.52,54.8 670.62,52.9 670.72,54.8 670.82,52.9 670.92,55.0 671.02,52.8 671.12,55.0 671.22,52.8 671.32,54.9 671.42,53.1 671.52,54.9 671.62,52.9 671.72,55.1 671.82,52.7 671.92,55.0 672.02,52.8 672.12,54.8 672.22,52.7 672.32,54.8 672.42,53.0 672.52,54.9 672.62,52.9 672.72,54.7 672.82,53.0 672.92,54.8 673.02,52.9 673.12,54.9 673.22,52.9 673.32,55.0 673.42,53.0 673.52,55.0 673.62,53.1 673.72,54.9 673.82,53.0 673.92,55.1 674.02,52.8 674.12,55.0 674.22,53.0 674.32,54.7 674.42,52.8 674.52,54.7 674.62,52.8 674.72,54.8 674.82,53.0 674.92,54.8 675.02,52.8 675.12,54.8 675.22,52.8 675.32,54.9 675.42,52.7 675.52,55.1 675.62,52.9 675.72,54.8 675.82,53.0 675.92,54.9 676.02,53.0 676.12,54.8 676.22,52.8 676.32,54.9 676.42,52.8 676.52,55.1 676.62,52.8 676.72,55.2 676.82,53.0 676.92,55.0 677.02,53.1 677.12,55.0 677.22,53.2 677.32,54.8 677.42,53.1 677.52,55.0 677.62,53.0 677.72,55.0 677.82,53.0 677.92,54.9 678.02,52.8 678.12,54.8 678.22,52.9 678.32,55.0 678.42,52.7 678.52,54.8 678.62,52.7 678.72,54.8 678.82,52.6 678.92,54.7 679.02,52.9 679.12,54.7 679.22,52.7 679.32,54.5 679.42,52.9 679.52,54.8 679.62,52.8 679.72,54.7 679.82,52.9 679.92,54.9 680.02,53.0 680.12,54.6 680.22,52.7 680.32,54.9 680.42,52.7 680.52,54.8 680.62,52.6 680.72,54.8 680.82,52.9 680.92,54.6" fill="none" stroke="#666666" stroke-width="0.85" stroke-linejoin="round" stroke-linecap="round"/>
<polyline points="504,86.4 504,132 516.2,132" fill="none" stroke="#000" stroke-width="1.4" stroke-linejoin="miter"/>
<text x="499" y="113.65" font-size="8.5" font-weight="normal" fill="#000" text-anchor="end" >1 nA</text>
<text x="509.6" y="144.45" font-size="9" font-weight="normal" fill="#000" text-anchor="middle" >1 min</text>
<text x="468.6" y="175.6" font-size="10.5" font-weight="normal" fill="#000" text-anchor="start" >L</text>
<text x="562" y="178" font-size="10.7" font-weight="bold" fill="#000" text-anchor="start" >D194<tspan fill="#cccccc">K</tspan></text>
<text x="487.2" y="198.2" font-size="8.5" font-weight="normal" fill="#000" text-anchor="middle" >0.1</text>
<text x="488" y="209" font-size="8.5" font-weight="normal" fill="#000" text-anchor="middle" >Gly</text>
<rect x="484.4" y="214.6" width="5.6" height="2.5" fill="#000"/>
<text x="529.2" y="198.2" font-size="8.5" font-weight="normal" fill="#000" text-anchor="middle" >0.5</text>
<text x="530" y="209" font-size="8.5" font-weight="normal" fill="#000" text-anchor="middle" >Cs<tspan font-size="5.2" font-weight="bold" dy="-3.1" dx="1.2">+</tspan></text>
<rect x="524.6" y="214.6" width="5.6" height="2.5" fill="#000"/>
<text x="565.2" y="198.2" font-size="8.5" font-weight="normal" fill="#000" text-anchor="middle" >5</text>
<text x="566" y="209" font-size="8.5" font-weight="normal" fill="#000" text-anchor="middle" >Cs<tspan font-size="5.2" font-weight="bold" dy="-3.1" dx="1.2">+</tspan></text>
<rect x="562" y="214.6" width="5.4" height="2.5" fill="#000"/>
<text x="602.2" y="198.2" font-size="8.5" font-weight="normal" fill="#000" text-anchor="middle" >50</text>
<text x="603" y="209" font-size="8.5" font-weight="normal" fill="#000" text-anchor="middle" >Cs<tspan font-size="5.2" font-weight="bold" dy="-3.1" dx="1.2">+</tspan></text>
<rect x="600" y="214.6" width="5.6" height="2.5" fill="#000"/>
<text x="647.2" y="198.2" font-size="8.5" font-weight="normal" fill="#000" text-anchor="middle" >150</text>
<text x="648" y="209" font-size="8.5" font-weight="normal" fill="#000" text-anchor="middle" >Cs<tspan font-size="5.2" font-weight="bold" dy="-3.1" dx="1.2">+</tspan></text>
<rect x="644.6" y="214.6" width="5.6" height="2.5" fill="#000"/>
<polyline points="468.0,222.0 468.2,219.5 468.4,221.9 468.7,219.1 468.9,221.9 469.1,219.7 469.3,222.4 469.5,219.7 469.8,222.2 470.0,219.2 470.2,222.0 470.4,219.4 470.6,222.1 470.9,219.6 471.1,222.4 471.3,219.4 471.5,221.9 471.7,219.4 472.0,222.2 472.2,219.3 472.4,222.1 472.6,219.2 472.8,222.1 473.1,219.2 473.3,221.9 473.5,219.3 473.7,222.0 473.9,219.6 474.2,221.8 474.4,219.4 474.6,222.1 474.8,219.4 475.0,222.1 475.3,219.7 475.5,222.4 475.7,219.4 475.9,222.0 476.1,219.5 476.4,222.4 476.6,219.6 476.8,222.4 477.0,219.5 477.2,222.5 477.5,219.2 477.7,222.2 477.9,219.2 478.1,221.8 478.3,219.5 478.6,222.1 478.8,219.8 479.0,221.9 479.2,219.2 479.4,222.0 479.7,219.8 479.9,222.0 480.1,219.2 480.3,222.4 480.5,219.7 480.8,222.2 481.0,219.5 481.2,222.1 481.4,219.5 481.6,221.8 481.9,219.2 482.1,222.1 482.3,219.1 482.5,222.1 482.7,219.0 483.0,221.7 483.2,219.5 483.4,222.2 483.6,219.1 483.8,222.1 484.1,219.3 484.3,222.3 484.5,219.3 484.7,222.0 484.9,219.0 485.16,222.1 485.26,219.1 485.36,235.3 485.40,241.1 485.46,238.1 485.56,237.6 485.66,231.3 485.76,231.9 485.86,224.7 485.96,227.0 486.06,220.1 486.16,225.4 486.26,219.7 486.36,225.1 486.46,219.9 486.56,224.8 486.66,220.1 486.76,224.8 486.86,219.5 486.96,224.5 487.06,219.7 487.16,224.4 487.26,219.6 487.36,224.4 487.46,219.6 487.56,223.9 487.66,220.2 487.76,223.8 487.86,219.7 487.96,223.4 488.06,220.0 488.16,223.4 488.26,219.9 488.36,223.6 488.46,219.4 488.56,223.0 488.66,219.5 488.76,223.1 488.86,219.2 488.96,222.7 489.06,219.2 489.16,222.6 489.26,219.1 489.36,222.7 489.46,219.8 489.56,222.6 489.66,219.8 489.76,222.6 489.86,219.3 489.96,223.0 490.06,219.8 490.16,222.8 490.26,219.8 490.36,222.4 490.46,219.4 490.56,222.3 490.66,219.8 490.76,222.8 490.86,219.4 490.96,222.5 491.06,219.4 491.16,222.7 491.26,219.6 491.36,222.2 491.46,219.7 491.56,222.4 491.66,219.5 491.76,222.5 491.86,219.3 491.96,222.6 492.06,219.4 492.16,222.5 492.26,219.4 492.36,222.0 492.46,219.7 492.56,221.9 492.66,219.5 492.76,222.3 492.86,219.2 492.96,221.9 493.06,219.4 493.16,222.3 493.26,219.3 493.4,221.9 493.6,219.5 493.8,222.1 494.0,219.6 494.2,221.8 494.5,219.2 494.7,221.9 494.9,219.8 495.1,221.9 495.3,219.4 495.6,221.9 495.8,219.3 496.0,222.0 496.2,219.2 496.4,222.1 496.7,219.2 496.9,221.8 497.1,219.1 497.3,222.1 497.5,219.5 497.8,222.1 498.0,219.4 498.2,222.3 498.4,219.5 498.6,222.0 498.9,219.5 499.1,221.9 499.3,219.4 499.5,222.3 499.7,219.7 500.0,221.8 500.2,219.6 500.4,221.9 500.6,219.8 500.8,222.2 501.1,219.4 501.3,222.2 501.5,219.3 501.7,222.2 501.9,219.2 502.2,221.8 502.4,219.4 502.6,222.3 502.8,219.4 503.0,222.4 503.3,219.8 503.5,222.1 503.7,219.4 503.9,222.0 504.1,219.5 504.4,222.2 504.6,219.3 504.8,222.5 505.0,219.5 505.2,222.0 505.5,219.2 505.7,222.1 505.9,219.3 506.1,222.2 506.3,219.1 506.6,222.1 506.8,219.4 507.0,222.0 507.2,219.5 507.4,222.4 507.7,219.2 507.9,222.3 508.1,219.7 508.3,221.9 508.5,219.4 508.8,222.0 509.0,219.1 509.2,221.8 509.4,219.7 509.6,222.3 509.9,219.5 510.1,222.2 510.3,219.5 510.5,222.1 510.7,219.6 511.0,222.0 511.2,219.6 511.4,222.0 511.6,219.1 511.8,221.7 512.1,219.2 512.3,222.0 512.5,219.4 512.7,221.7 512.9,219.4 513.2,221.9 513.4,219.1 513.6,222.3 513.8,219.1 514.0,221.8 514.3,219.5 514.5,222.4 514.7,219.7 514.9,221.8 515.1,219.3 515.4,222.2 515.6,219.5 515.8,222.1 516.0,219.3 516.2,222.2 516.5,219.4 516.7,222.1 516.9,219.3 517.1,221.8 517.3,219.2 517.6,222.1 517.8,219.2 518.0,221.9 518.2,219.4 518.4,222.0 518.7,219.0 518.9,222.0 519.1,219.2 519.3,222.3 519.5,219.1 519.8,222.1 520.0,219.4 520.2,221.9 520.4,219.2 520.6,222.0 520.9,219.2 521.1,222.1 521.3,219.1 521.5,222.0 521.7,219.6 522.0,222.0 522.2,219.5 522.4,222.4 522.6,219.4 522.8,221.9 523.1,219.3 523.3,222.2 523.5,219.4 523.7,222.0 523.9,219.6 524.2,222.5 524.4,219.3 524.6,222.5 524.8,219.4 525.0,222.4 525.3,219.6 525.5,222.5 525.70,219.7 525.80,222.4 525.90,220.2 526.00,224.1 526.00,225.4 526.10,221.9 526.20,223.3 526.30,219.9 526.40,222.0 526.50,219.4 526.60,222.0 526.7,219.9 526.9,222.5 527.1,219.4 527.4,222.5 527.6,219.2 527.8,222.2 528.0,219.3 528.2,222.3 528.5,219.4 528.7,222.1 528.9,219.1 529.1,222.4 529.3,219.6 529.6,222.2 529.8,219.4 530.0,222.3 530.2,219.7 530.4,222.0 530.7,219.7 530.9,222.0 531.1,219.6 531.3,222.3 531.5,219.6 531.8,221.9 532.0,219.5 532.2,222.3 532.4,219.6 532.6,221.8 532.9,219.5 533.1,222.0 533.3,219.6 533.5,221.8 533.7,219.7 534.0,221.9 534.2,219.5 534.4,221.9 534.6,219.3 534.8,222.3 535.1,219.5 535.3,222.4 535.5,219.5 535.7,222.2 535.9,219.6 536.2,222.3 536.4,219.2 536.6,222.5 536.8,219.3 537.0,222.4 537.3,219.8 537.5,222.0 537.7,219.7 537.9,222.1 538.1,219.4 538.4,222.2 538.6,219.7 538.8,222.1 539.0,219.3 539.2,222.0 539.5,219.4 539.7,222.0 539.9,219.3 540.1,222.4 540.3,219.7 540.6,222.5 540.8,219.5 541.0,222.2 541.2,219.6 541.4,222.2 541.7,219.7 541.9,222.1 542.1,219.5 542.3,222.4 542.5,219.7 542.8,222.4 543.0,219.6 543.2,222.1 543.4,219.9 543.6,222.3 543.9,219.3 544.1,222.4 544.3,219.6 544.5,222.0 544.7,219.5 545.0,222.4 545.2,219.7 545.4,222.6 545.6,219.4 545.8,222.5 546.1,219.5 546.3,222.5 546.5,219.6 546.7,222.3 546.9,219.6 547.2,222.5 547.4,219.6 547.6,221.9 547.8,219.6 548.0,222.4 548.3,219.5 548.5,222.0 548.7,219.4 548.9,222.0 549.1,219.6 549.4,222.3 549.6,219.4 549.8,222.1 550.0,219.8 550.2,222.2 550.5,219.2 550.7,222.2 550.9,219.3 551.1,222.4 551.3,219.8 551.6,222.0 551.8,219.7 552.0,221.8 552.2,219.1 552.4,222.2 552.7,219.5 552.9,221.9 553.1,219.2 553.3,221.8 553.5,219.7 553.8,221.8 554.0,219.2 554.2,222.0 554.4,219.8 554.6,222.4 554.9,219.8 555.1,222.2 555.3,219.4 555.5,222.4 555.7,219.7 556.0,222.5 556.2,219.3 556.4,222.1 556.6,219.5 556.8,222.1 557.1,219.5 557.3,221.9 557.5,219.8 557.7,222.4 557.9,219.7 558.2,222.0 558.4,219.2 558.6,222.4 558.8,219.8 559.0,222.4 559.3,219.6 559.5,222.2 559.7,219.6 559.9,222.5 560.1,219.3 560.4,222.4 560.6,219.3 560.8,222.3 561.0,219.4 561.2,221.9 561.5,219.4 561.7,222.4 561.9,219.6 562.1,222.0 562.3,219.3 562.6,221.9 562.8,219.8 563.0,221.8 563.22,219.6 563.32,222.1 563.42,219.4 563.52,225.2 563.60,229.9 563.62,228.2 563.72,229.7 563.82,225.3 563.92,227.2 564.02,222.3 564.12,224.9 564.22,220.0 564.32,223.9 564.42,219.7 564.52,223.2 564.62,219.7 564.72,223.2 564.82,219.8 564.92,222.6 565.02,219.8 565.12,222.6 565.22,219.8 565.32,222.7 565.42,219.7 565.52,222.6 565.62,219.3 565.72,222.5 565.82,219.7 565.92,222.3 566.02,219.6 566.12,222.4 566.22,219.4 566.32,222.1 566.42,219.3 566.52,222.2 566.62,219.8 566.72,222.5 566.82,219.4 566.92,221.9 567.02,219.6 567.12,222.4 567.22,219.4 567.3,222.1 567.5,219.4 567.8,222.1 568.0,219.4 568.2,222.1 568.4,219.4 568.6,222.1 568.9,219.9 569.1,222.5 569.3,219.7 569.5,222.0 569.7,219.7 570.0,222.3 570.2,219.6 570.4,222.0 570.6,220.0 570.8,222.4 571.1,219.4 571.3,222.3 571.5,219.5 571.7,222.1 571.9,219.7 572.2,222.2 572.4,219.7 572.6,222.2 572.8,219.7 573.0,222.3 573.3,219.3 573.5,221.9 573.7,219.8 573.9,222.3 574.1,219.5 574.4,222.2 574.6,219.7 574.8,222.2 575.0,219.4 575.2,222.3 575.5,219.7 575.7,221.8 575.9,219.4 576.1,221.8 576.3,219.4 576.6,222.3 576.8,219.6 577.0,221.8 577.2,219.7 577.4,222.3 577.7,219.4 577.9,222.1 578.1,219.3 578.3,221.8 578.5,219.3 578.8,222.3 579.0,219.5 579.2,222.4 579.4,219.7 579.6,222.3 579.9,219.6 580.1,222.2 580.3,219.6 580.5,222.2 580.7,219.2 581.0,222.0 581.2,219.3 581.4,221.7 581.6,219.4 581.8,222.3 582.1,219.6 582.3,222.1 582.5,219.1 582.7,221.7 582.9,219.6 583.2,221.9 583.4,219.4 583.6,221.8 583.8,219.6 584.0,222.3 584.3,219.4 584.5,222.3 584.7,219.5 584.9,222.2 585.1,219.2 585.4,222.4 585.6,219.5 585.8,222.4 586.0,219.4 586.2,222.1 586.5,219.5 586.7,222.3 586.9,219.5 587.1,222.5 587.3,219.9 587.6,222.3 587.8,219.3 588.0,222.2 588.2,219.3 588.4,222.4 588.7,219.7 588.9,222.3 589.1,219.8 589.3,222.0 589.5,219.5 589.8,221.9 590.0,219.2 590.2,222.2 590.4,219.3 590.6,222.5 590.9,219.8 591.1,222.1 591.3,219.8 591.5,222.1 591.7,219.3 592.0,222.1 592.2,219.7 592.4,221.9 592.6,219.7 592.8,222.3 593.1,219.4 593.3,222.5 593.5,219.7 593.7,222.4 593.9,219.4 594.2,222.3 594.4,219.3 594.6,222.3 594.8,219.4 595.0,222.5 595.3,219.3 595.5,221.9 595.7,219.5 595.9,221.8 596.1,219.7 596.4,222.0 596.6,219.3 596.8,222.2 597.0,219.6 597.2,222.5 597.5,219.6 597.7,222.3 597.9,219.2 598.1,222.3 598.3,219.6 598.6,222.3 598.8,219.4 599.0,222.0 599.2,219.3 599.4,221.8 599.7,219.6 599.9,222.3 600.1,219.4 600.3,222.3 600.5,219.4 600.8,222.2 600.98,219.6 601.08,222.3 601.18,219.2 601.28,222.3 601.38,237.7 601.40,242.3 601.48,241.4 601.58,234.8 601.68,235.2 601.78,227.6 601.88,229.1 601.98,220.4 602.08,225.5 602.18,219.9 602.28,225.3 602.38,219.6 602.48,224.9 602.58,220.0 602.68,224.5 602.78,219.8 602.88,224.2 602.98,219.5 603.08,223.8 603.18,219.5 603.28,223.9 603.38,219.5 603.48,223.9 603.58,219.5 603.68,223.9 603.78,219.9 603.88,224.2 603.98,219.6 604.08,223.8 604.18,219.6 604.28,223.4 604.38,220.2 604.48,223.5 604.58,220.2 604.68,223.7 604.78,220.0 604.88,223.2 604.98,219.6 605.08,223.2 605.18,219.9 605.28,223.6 605.38,219.9 605.48,223.2 605.58,219.7 605.68,223.3 605.78,219.5 605.88,223.0 605.98,219.7 606.08,222.8 606.18,219.9 606.28,222.8 606.38,219.8 606.48,223.0 606.58,219.9 606.68,223.0 606.78,219.8 606.88,222.7 606.98,219.4 607.08,222.9 607.18,219.2 607.28,222.8 607.38,219.5 607.48,222.2 607.58,219.3 607.68,222.7 607.78,219.7 607.88,222.3 607.98,219.1 608.08,222.1 608.18,219.4 608.28,222.3 608.38,219.4 608.48,222.2 608.58,219.7 608.68,222.1 608.78,219.6 608.88,222.4 608.98,219.5 609.08,222.5 609.18,219.2 609.28,222.5 609.38,219.3 609.48,222.0 609.58,219.5 609.68,222.3 609.78,219.7 609.88,222.5 609.98,219.7 610.08,222.5 610.18,219.3 610.28,222.2 610.38,219.8 610.48,221.9 610.58,219.8 610.68,222.0 610.78,219.8 610.88,222.1 610.98,219.8 611.08,222.5 611.18,219.7 611.28,222.0 611.4,219.6 611.6,222.1 611.8,219.5 612.0,222.0 612.3,219.2 612.5,221.8 612.7,219.2 612.9,221.8 613.1,219.1 613.4,221.8 613.6,219.1 613.8,222.1 614.0,219.4 614.2,222.0 614.5,219.5 614.7,222.2 614.9,219.1 615.1,222.0 615.3,219.3 615.6,222.0 615.8,219.6 616.0,222.3 616.2,219.6 616.4,222.1 616.7,219.8 616.9,222.3 617.1,219.5 617.3,221.8 617.5,219.7 617.8,222.1 618.0,219.7 618.2,221.9 618.4,219.4 618.6,221.8 618.9,219.2 619.1,222.2 619.3,219.6 619.5,222.0 619.7,219.4 620.0,221.9 620.2,219.3 620.4,222.0 620.6,219.8 620.8,222.1 621.1,219.6 621.3,222.0 621.5,219.5 621.7,222.0 621.9,219.5 622.2,222.0 622.4,219.4 622.6,221.9 622.8,219.6 623.0,222.1 623.3,219.2 623.5,222.2 623.7,219.3 623.9,222.1 624.1,219.5 624.4,222.1 624.6,219.2 624.8,222.0 625.0,219.4 625.2,221.9 625.5,219.6 625.7,222.0 625.9,219.5 626.1,222.1 626.3,219.7 626.6,222.0 626.8,219.2 627.0,221.9 627.2,219.7 627.4,221.9 627.7,219.8 627.9,221.9 628.1,219.4 628.3,222.3 628.5,219.6 628.8,222.3 629.0,219.4 629.2,222.2 629.4,219.2 629.6,221.9 629.9,219.6 630.1,222.3 630.3,219.6 630.5,222.2 630.7,219.8 631.0,222.5 631.2,219.6 631.4,222.3 631.6,219.5 631.8,222.4 632.1,219.8 632.3,222.2 632.5,219.7 632.7,222.5 632.9,219.6 633.2,222.5 633.4,219.3 633.6,222.3 633.8,219.6 634.0,222.3 634.3,219.6 634.5,222.5 634.7,219.4 634.9,222.0 635.1,219.9 635.4,222.2 635.6,219.9 635.8,222.3 636.0,219.7 636.2,222.2 636.5,219.7 636.7,222.1 636.9,219.9 637.1,221.9 637.3,219.4 637.6,222.4 637.8,219.7 638.0,222.3 638.2,219.3 638.4,222.0 638.7,219.9 638.9,222.3 639.1,219.9 639.3,222.1 639.5,219.8 639.8,222.1 640.0,219.9 640.2,222.2 640.4,219.7 640.6,222.1 640.9,219.3 641.1,222.1 641.3,219.9 641.5,222.0 641.7,219.4 642.0,222.2 642.2,219.5 642.4,222.3 642.6,219.4 642.8,222.2 643.1,219.5 643.3,222.0 643.5,219.8 643.7,222.4 643.9,219.7 644.2,222.3 644.4,219.7 644.6,221.9 644.8,219.5 645.0,222.3 645.3,219.4 645.5,222.0 645.7,219.7 645.9,222.5 646.14,219.3 646.24,222.2 646.34,234.1 646.40,250.3 646.44,250.0 646.54,242.3 646.64,241.1 646.74,232.3 646.84,231.6 646.94,222.6 647.04,224.5 647.14,220.0 647.24,224.6 647.34,219.9 647.44,224.6 647.54,220.2 647.64,224.1 647.74,219.8 647.84,224.1 647.94,220.2 648.04,223.8 648.14,219.7 648.24,224.0 648.34,219.8 648.44,223.7 648.54,219.6 648.64,224.1 648.74,219.7 648.84,223.7 648.94,219.8 649.04,223.0 649.14,219.5 649.24,223.6 649.34,219.7 649.44,223.3 649.54,219.5 649.64,223.1 649.74,219.8 649.84,223.1 649.94,219.8 650.04,223.1 650.14,219.7 650.24,222.8 650.34,219.2 650.44,222.8 650.54,219.3 650.64,223.2 650.74,219.7 650.84,222.5 650.94,219.6 651.04,222.5 651.14,219.3 651.24,222.5 651.34,219.6 651.44,222.8 651.54,219.4 651.64,222.5 651.74,219.5 651.84,222.5 651.94,219.6 652.04,222.3 652.14,219.5 652.24,222.6 652.34,219.7 652.44,222.5 652.54,219.3 652.64,222.4 652.74,219.5 652.84,222.7 652.94,219.7 653.04,222.8 653.14,219.5 653.24,222.2 653.34,219.8 653.44,222.5 653.54,219.8 653.64,222.5 653.74,219.5 653.84,222.4 653.94,219.8 654.04,222.1 654.14,219.4 654.24,222.2 654.34,219.2 654.44,222.1 654.54,219.6 654.64,222.4 654.74,219.4 654.84,222.1 654.94,219.7 655.04,221.9 655.14,219.3 655.24,222.1 655.34,219.5 655.44,222.4 655.54,219.4 655.64,221.9 655.74,219.6 655.84,222.3 655.94,219.2 656.04,222.1 656.14,219.0 656.24,222.0 656.3,219.2 656.6,222.0 656.8,219.2 657.0,222.3 657.2,219.1 657.4,221.7 657.7,219.6 657.9,222.3 658.1,219.1 658.3,222.2 658.5,219.1 658.8,222.0 659.0,219.4 659.2,222.0 659.4,219.5 659.6,222.1 659.9,219.5 660.1,221.8 660.3,219.1 660.5,221.8 660.7,219.7 661.0,222.4 661.2,219.3 661.4,222.1 661.6,219.3 661.8,221.9 662.1,219.7 662.3,221.9 662.5,219.5 662.7,221.8 662.9,219.1 663.2,221.8 663.4,219.1 663.6,221.9 663.8,219.5 664.0,222.1 664.3,219.2 664.5,222.1 664.7,219.5 664.9,222.1 665.1,219.5 665.4,222.2 665.6,219.2 665.8,222.0 666.0,219.4 666.2,221.9 666.5,219.4 666.7,222.3 666.9,219.3 667.1,222.0 667.3,219.7 667.6,222.4 667.8,219.7 668.0,221.9 668.2,219.2 668.4,221.9 668.7,219.4 668.9,222.1 669.1,219.5 669.3,222.2 669.5,219.4 669.8,222.3 670.0,219.4 670.2,222.4 670.4,219.4 670.6,222.5 670.9,219.6 671.1,222.1 671.3,219.2 671.5,222.0 671.7,219.7 672.0,221.9 672.2,219.7 672.4,222.0 672.6,219.8 672.8,222.3 673.1,219.7 673.3,222.1 673.5,219.6 673.7,222.0 673.9,219.7 674.2,222.2 674.4,219.5 674.6,222.2 674.8,219.4 675.0,222.1 675.3,219.4 675.5,222.3 675.7,219.8 675.9,222.1 676.1,219.3 676.4,221.8 676.6,219.6 676.8,222.2 677.0,219.5 677.2,221.9 677.5,219.1 677.7,222.3 677.9,219.2 678.1,222.2 678.3,219.3 678.6,222.1 678.8,219.5 679.0,222.0 679.2,219.6 679.4,222.1 679.7,219.5 679.9,222.0 680.1,219.6 680.3,222.1 680.5,219.6 680.8,221.8 681.0,219.2 681.2,222.3 681.4,219.3 681.6,222.3 681.9,219.6 682.1,222.2 682.3,219.3" fill="none" stroke="#c6c6c6" stroke-width="0.95" stroke-linejoin="round" stroke-linecap="round"/>
<polyline points="501.4,243 501.4,299 519.2,299" fill="none" stroke="#000" stroke-width="1.4" stroke-linejoin="miter"/>
<text x="496.4" y="275.45" font-size="8.5" font-weight="normal" fill="#000" text-anchor="end" >1 nA</text>
<text x="509.8" y="312.65" font-size="9" font-weight="normal" fill="#000" text-anchor="middle" >1 min</text>
<rect x="38.7" y="422.4" width="6.7" height="62.9" fill="#000"/>
<line x1="42.5" y1="410.4" x2="42.5" y2="422.6" stroke="#1c1c1c" stroke-width="0.9" stroke-linecap="butt"/>
<line x1="40.7" y1="410.4" x2="44.3" y2="410.4" stroke="#1c1c1c" stroke-width="0.9" stroke-linecap="butt"/>
<rect x="48.35" y="439" width="6.7" height="46.3" fill="#990000"/>
<line x1="51.5" y1="431.6" x2="51.5" y2="439.2" stroke="#1c1c1c" stroke-width="0.9" stroke-linecap="butt"/>
<line x1="49.7" y1="431.6" x2="53.3" y2="431.6" stroke="#1c1c1c" stroke-width="0.9" stroke-linecap="butt"/>
<rect x="58" y="434.6" width="6.7" height="50.7" fill="#fa4646"/>
<line x1="61.5" y1="424.4" x2="61.5" y2="434.8" stroke="#1c1c1c" stroke-width="0.9" stroke-linecap="butt"/>
<line x1="59.7" y1="424.4" x2="63.3" y2="424.4" stroke="#1c1c1c" stroke-width="0.9" stroke-linecap="butt"/>
<rect x="74.5" y="480" width="6.7" height="5.3" fill="#000"/>
<line x1="77.5" y1="476.4" x2="77.5" y2="480.2" stroke="#1c1c1c" stroke-width="0.9" stroke-linecap="butt"/>
<line x1="75.7" y1="476.4" x2="79.3" y2="476.4" stroke="#1c1c1c" stroke-width="0.9" stroke-linecap="butt"/>
<rect x="84.15" y="483" width="6.7" height="2.3" fill="#990000"/>
<line x1="87.5" y1="482.2" x2="87.5" y2="483.2" stroke="#1c1c1c" stroke-width="0.9" stroke-linecap="butt"/>
<line x1="85.7" y1="482.2" x2="89.3" y2="482.2" stroke="#1c1c1c" stroke-width="0.9" stroke-linecap="butt"/>
<rect x="93.8" y="484" width="6.7" height="1.3" fill="#fa4646"/>
<line x1="97.5" y1="483.4" x2="97.5" y2="484.2" stroke="#1c1c1c" stroke-width="0.9" stroke-linecap="butt"/>
<line x1="95.7" y1="483.4" x2="99.3" y2="483.4" stroke="#1c1c1c" stroke-width="0.9" stroke-linecap="butt"/>
<rect x="110.1" y="467" width="6.7" height="18.3" fill="#000"/>
<line x1="113.5" y1="462" x2="113.5" y2="467.2" stroke="#1c1c1c" stroke-width="0.9" stroke-linecap="butt"/>
<line x1="111.7" y1="462" x2="115.3" y2="462" stroke="#1c1c1c" stroke-width="0.9" stroke-linecap="butt"/>
<rect x="119.75" y="476" width="6.7" height="9.3" fill="#990000"/>
<line x1="123.5" y1="474.4" x2="123.5" y2="476.2" stroke="#1c1c1c" stroke-width="0.9" stroke-linecap="butt"/>
<line x1="121.7" y1="474.4" x2="125.3" y2="474.4" stroke="#1c1c1c" stroke-width="0.9" stroke-linecap="butt"/>
<rect x="129.4" y="477" width="6.7" height="8.3" fill="#fa4646"/>
<line x1="132.5" y1="475.6" x2="132.5" y2="477.2" stroke="#1c1c1c" stroke-width="0.9" stroke-linecap="butt"/>
<line x1="130.7" y1="475.6" x2="134.3" y2="475.6" stroke="#1c1c1c" stroke-width="0.9" stroke-linecap="butt"/>
<rect x="145.7" y="407.4" width="6.7" height="77.9" fill="#000"/>
<line x1="149.5" y1="391.6" x2="149.5" y2="407.6" stroke="#1c1c1c" stroke-width="0.9" stroke-linecap="butt"/>
<line x1="147.7" y1="391.6" x2="151.3" y2="391.6" stroke="#1c1c1c" stroke-width="0.9" stroke-linecap="butt"/>
<rect x="155.35" y="431" width="6.7" height="54.3" fill="#990000"/>
<line x1="158.5" y1="423.6" x2="158.5" y2="431.2" stroke="#1c1c1c" stroke-width="0.9" stroke-linecap="butt"/>
<line x1="156.7" y1="423.6" x2="160.3" y2="423.6" stroke="#1c1c1c" stroke-width="0.9" stroke-linecap="butt"/>
<rect x="165" y="423.4" width="6.7" height="61.9" fill="#fa4646"/>
<line x1="168.5" y1="410.4" x2="168.5" y2="423.6" stroke="#1c1c1c" stroke-width="0.9" stroke-linecap="butt"/>
<line x1="166.7" y1="410.4" x2="170.3" y2="410.4" stroke="#1c1c1c" stroke-width="0.9" stroke-linecap="butt"/>
<rect x="182.1" y="399.2" width="6.7" height="86.1" fill="#000"/>
<line x1="185.5" y1="386.4" x2="185.5" y2="399.4" stroke="#1c1c1c" stroke-width="0.9" stroke-linecap="butt"/>
<line x1="183.7" y1="386.4" x2="187.3" y2="386.4" stroke="#1c1c1c" stroke-width="0.9" stroke-linecap="butt"/>
<rect x="191.75" y="419" width="6.7" height="66.3" fill="#990000"/>
<line x1="195.5" y1="410.4" x2="195.5" y2="419.2" stroke="#1c1c1c" stroke-width="0.9" stroke-linecap="butt"/>
<line x1="193.7" y1="410.4" x2="197.3" y2="410.4" stroke="#1c1c1c" stroke-width="0.9" stroke-linecap="butt"/>
<rect x="201.4" y="408.4" width="6.7" height="76.9" fill="#fa4646"/>
<line x1="204.5" y1="396.4" x2="204.5" y2="408.6" stroke="#1c1c1c" stroke-width="0.9" stroke-linecap="butt"/>
<line x1="202.7" y1="396.4" x2="206.3" y2="396.4" stroke="#1c1c1c" stroke-width="0.9" stroke-linecap="butt"/>
<line x1="35.6" y1="367" x2="35.6" y2="486.05" stroke="#000" stroke-width="1.3" stroke-linecap="butt"/>
<line x1="34.95" y1="485.4" x2="211.6" y2="485.4" stroke="#000" stroke-width="1.3" stroke-linecap="butt"/>
<line x1="30.4" y1="446.25" x2="35.6" y2="446.25" stroke="#000" stroke-width="1.2" stroke-linecap="butt"/>
<line x1="30.4" y1="407.1" x2="35.6" y2="407.1" stroke="#000" stroke-width="1.2" stroke-linecap="butt"/>
<line x1="30.4" y1="367.95" x2="35.6" y2="367.95" stroke="#000" stroke-width="1.2" stroke-linecap="butt"/>
<line x1="32.4" y1="465.82" x2="35.6" y2="465.82" stroke="#000" stroke-width="1.2" stroke-linecap="butt"/>
<line x1="32.4" y1="426.67" x2="35.6" y2="426.67" stroke="#000" stroke-width="1.2" stroke-linecap="butt"/>
<line x1="32.4" y1="387.52" x2="35.6" y2="387.52" stroke="#000" stroke-width="1.2" stroke-linecap="butt"/>
<text x="29.7" y="449.15" font-size="8.2" font-weight="bold" fill="#000" text-anchor="end" >1</text>
<text x="29.7" y="410" font-size="8.2" font-weight="bold" fill="#000" text-anchor="end" >2</text>
<text x="29.7" y="370.85" font-size="8.2" font-weight="bold" fill="#000" text-anchor="end" >3</text>
<line x1="51.6" y1="485.4" x2="51.6" y2="490.2" stroke="#000" stroke-width="1.2" stroke-linecap="butt"/>
<text transform="translate(54.3,497.3) rotate(-45)" font-size="9.05" text-anchor="end">0.1 mM Gly</text>
<line x1="87.4" y1="485.4" x2="87.4" y2="490.2" stroke="#000" stroke-width="1.2" stroke-linecap="butt"/>
<text transform="translate(90.1,497.3) rotate(-45)" font-size="9.05" text-anchor="end">0.5 mM Cs<tspan font-size="7.5" dy="-3.8" dx="-1.7">+</tspan></text>
<line x1="123" y1="485.4" x2="123" y2="490.2" stroke="#000" stroke-width="1.2" stroke-linecap="butt"/>
<text transform="translate(125.7,497.3) rotate(-45)" font-size="9.05" text-anchor="end">5 mM Cs<tspan font-size="7.5" dy="-3.8" dx="-1.7">+</tspan></text>
<line x1="158.6" y1="485.4" x2="158.6" y2="490.2" stroke="#000" stroke-width="1.2" stroke-linecap="butt"/>
<text transform="translate(161.3,497.3) rotate(-45)" font-size="9.05" text-anchor="end">50 mM Cs<tspan font-size="7.5" dy="-3.8" dx="-1.7">+</tspan></text>
<line x1="195" y1="485.4" x2="195" y2="490.2" stroke="#000" stroke-width="1.2" stroke-linecap="butt"/>
<text transform="translate(197.7,497.3) rotate(-45)" font-size="9.05" text-anchor="end">150 mM Cs<tspan font-size="7.5" dy="-3.8" dx="-1.7">+</tspan></text>
<text transform="translate(18.3,427) rotate(-90)" font-size="9.4" font-weight="bold" text-anchor="middle">Amplitude [nA]</text>
<text x="6" y="347.6" font-size="10.5" font-weight="normal" fill="#000" text-anchor="start" >C</text>
<text x="62.4" y="346.7" font-size="10.8" font-weight="bold" fill="#000" text-anchor="start" >Max current amplitude</text>
<text x="96.3" y="360.5" font-size="10.8" font-weight="bold" fill="#000" text-anchor="start" >(absolute)</text>
<polyline points="87.4,476.5 87.4,454 97.3,454 97.3,476.5" fill="none" stroke="#1a1a1a" stroke-width="1.25"/>
<text x="93.55" y="452.3" font-family="DejaVu Sans, sans-serif" font-weight="bold" font-size="11" letter-spacing="2.1" text-anchor="middle">**</text>
<rect x="268.5" y="422" width="6.7" height="63.3" fill="#000"/>
<line x1="271.5" y1="410" x2="271.5" y2="422.2" stroke="#1c1c1c" stroke-width="0.9" stroke-linecap="butt"/>
<line x1="269.7" y1="410" x2="273.3" y2="410" stroke="#1c1c1c" stroke-width="0.9" stroke-linecap="butt"/>
<rect x="278.15" y="440.6" width="6.7" height="44.7" fill="#000080"/>
<line x1="281.5" y1="430.4" x2="281.5" y2="440.8" stroke="#1c1c1c" stroke-width="0.9" stroke-linecap="butt"/>
<line x1="279.7" y1="430.4" x2="283.3" y2="430.4" stroke="#1c1c1c" stroke-width="0.9" stroke-linecap="butt"/>
<rect x="287.8" y="425" width="6.7" height="60.3" fill="#5a5af5"/>
<line x1="291.5" y1="419" x2="291.5" y2="425.2" stroke="#1c1c1c" stroke-width="0.9" stroke-linecap="butt"/>
<line x1="289.7" y1="419" x2="293.3" y2="419" stroke="#1c1c1c" stroke-width="0.9" stroke-linecap="butt"/>
<rect x="304.1" y="479.6" width="6.7" height="5.7" fill="#000"/>
<line x1="307.5" y1="476.4" x2="307.5" y2="479.8" stroke="#1c1c1c" stroke-width="0.9" stroke-linecap="butt"/>
<line x1="305.7" y1="476.4" x2="309.3" y2="476.4" stroke="#1c1c1c" stroke-width="0.9" stroke-linecap="butt"/>
<rect x="313.75" y="481.4" width="6.7" height="3.9" fill="#000080"/>
<line x1="317.5" y1="480.4" x2="317.5" y2="481.6" stroke="#1c1c1c" stroke-width="0.9" stroke-linecap="butt"/>
<line x1="315.7" y1="480.4" x2="319.3" y2="480.4" stroke="#1c1c1c" stroke-width="0.9" stroke-linecap="butt"/>
<rect x="323.4" y="479" width="6.7" height="6.3" fill="#5a5af5"/>
<line x1="326.5" y1="477.4" x2="326.5" y2="479.2" stroke="#1c1c1c" stroke-width="0.9" stroke-linecap="butt"/>
<line x1="324.7" y1="477.4" x2="328.3" y2="477.4" stroke="#1c1c1c" stroke-width="0.9" stroke-linecap="butt"/>
<rect x="339.6" y="466.4" width="6.7" height="18.9" fill="#000"/>
<line x1="342.5" y1="461.6" x2="342.5" y2="466.6" stroke="#1c1c1c" stroke-width="0.9" stroke-linecap="butt"/>
<line x1="340.7" y1="461.6" x2="344.3" y2="461.6" stroke="#1c1c1c" stroke-width="0.9" stroke-linecap="butt"/>
<rect x="349.25" y="473" width="6.7" height="12.3" fill="#000080"/>
<line x1="352.5" y1="469.6" x2="352.5" y2="473.2" stroke="#1c1c1c" stroke-width="0.9" stroke-linecap="butt"/>
<line x1="350.7" y1="469.6" x2="354.3" y2="469.6" stroke="#1c1c1c" stroke-width="0.9" stroke-linecap="butt"/>
<rect x="358.9" y="463" width="6.7" height="22.3" fill="#5a5af5"/>
<line x1="362.5" y1="459" x2="362.5" y2="463.2" stroke="#1c1c1c" stroke-width="0.9" stroke-linecap="butt"/>
<line x1="360.7" y1="459" x2="364.3" y2="459" stroke="#1c1c1c" stroke-width="0.9" stroke-linecap="butt"/>
<rect x="375.1" y="407" width="6.7" height="78.3" fill="#000"/>
<line x1="378.5" y1="391.4" x2="378.5" y2="407.2" stroke="#1c1c1c" stroke-width="0.9" stroke-linecap="butt"/>
<line x1="376.7" y1="391.4" x2="380.3" y2="391.4" stroke="#1c1c1c" stroke-width="0.9" stroke-linecap="butt"/>
<rect x="384.75" y="432" width="6.7" height="53.3" fill="#000080"/>
<line x1="388.5" y1="423" x2="388.5" y2="432.2" stroke="#1c1c1c" stroke-width="0.9" stroke-linecap="butt"/>
<line x1="386.7" y1="423" x2="390.3" y2="423" stroke="#1c1c1c" stroke-width="0.9" stroke-linecap="butt"/>
<rect x="394.4" y="425" width="6.7" height="60.3" fill="#5a5af5"/>
<line x1="397.5" y1="417.6" x2="397.5" y2="425.2" stroke="#1c1c1c" stroke-width="0.9" stroke-linecap="butt"/>
<line x1="395.7" y1="417.6" x2="399.3" y2="417.6" stroke="#1c1c1c" stroke-width="0.9" stroke-linecap="butt"/>
<rect x="411.1" y="398.6" width="6.7" height="86.7" fill="#000"/>
<line x1="414.5" y1="385.4" x2="414.5" y2="398.8" stroke="#1c1c1c" stroke-width="0.9" stroke-linecap="butt"/>
<line x1="412.7" y1="385.4" x2="416.3" y2="385.4" stroke="#1c1c1c" stroke-width="0.9" stroke-linecap="butt"/>
<rect x="420.75" y="413" width="6.7" height="72.3" fill="#000080"/>
<line x1="424.5" y1="403.6" x2="424.5" y2="413.2" stroke="#1c1c1c" stroke-width="0.9" stroke-linecap="butt"/>
<line x1="422.7" y1="403.6" x2="426.3" y2="403.6" stroke="#1c1c1c" stroke-width="0.9" stroke-linecap="butt"/>
<rect x="430.4" y="412.4" width="6.7" height="72.9" fill="#5a5af5"/>
<line x1="433.5" y1="404.4" x2="433.5" y2="412.6" stroke="#1c1c1c" stroke-width="0.9" stroke-linecap="butt"/>
<line x1="431.7" y1="404.4" x2="435.3" y2="404.4" stroke="#1c1c1c" stroke-width="0.9" stroke-linecap="butt"/>
<line x1="265.4" y1="366.8" x2="265.4" y2="486.05" stroke="#000" stroke-width="1.3" stroke-linecap="butt"/>
<line x1="264.75" y1="485.4" x2="441" y2="485.4" stroke="#000" stroke-width="1.3" stroke-linecap="butt"/>
<line x1="260.2" y1="446.2" x2="265.4" y2="446.2" stroke="#000" stroke-width="1.2" stroke-linecap="butt"/>
<line x1="260.2" y1="407" x2="265.4" y2="407" stroke="#000" stroke-width="1.2" stroke-linecap="butt"/>
<line x1="260.2" y1="367.8" x2="265.4" y2="367.8" stroke="#000" stroke-width="1.2" stroke-linecap="butt"/>
<line x1="262.2" y1="465.8" x2="265.4" y2="465.8" stroke="#000" stroke-width="1.2" stroke-linecap="butt"/>
<line x1="262.2" y1="426.6" x2="265.4" y2="426.6" stroke="#000" stroke-width="1.2" stroke-linecap="butt"/>
<line x1="262.2" y1="387.4" x2="265.4" y2="387.4" stroke="#000" stroke-width="1.2" stroke-linecap="butt"/>
<text x="259.5" y="449.1" font-size="8.2" font-weight="bold" fill="#000" text-anchor="end" >1</text>
<text x="259.5" y="409.9" font-size="8.2" font-weight="bold" fill="#000" text-anchor="end" >2</text>
<text x="259.5" y="370.7" font-size="8.2" font-weight="bold" fill="#000" text-anchor="end" >3</text>
<line x1="281.4" y1="485.4" x2="281.4" y2="490.2" stroke="#000" stroke-width="1.2" stroke-linecap="butt"/>
<text transform="translate(284.1,497.3) rotate(-45)" font-size="9.05" text-anchor="end">0.1 mM Gly</text>
<line x1="317" y1="485.4" x2="317" y2="490.2" stroke="#000" stroke-width="1.2" stroke-linecap="butt"/>
<text transform="translate(319.7,497.3) rotate(-45)" font-size="9.05" text-anchor="end">0.5 mM Cs<tspan font-size="7.5" dy="-3.8" dx="-1.7">+</tspan></text>
<line x1="352.5" y1="485.4" x2="352.5" y2="490.2" stroke="#000" stroke-width="1.2" stroke-linecap="butt"/>
<text transform="translate(355.2,497.3) rotate(-45)" font-size="9.05" text-anchor="end">5 mM Cs<tspan font-size="7.5" dy="-3.8" dx="-1.7">+</tspan></text>
<line x1="388" y1="485.4" x2="388" y2="490.2" stroke="#000" stroke-width="1.2" stroke-linecap="butt"/>
<text transform="translate(390.7,497.3) rotate(-45)" font-size="9.05" text-anchor="end">50 mM Cs<tspan font-size="7.5" dy="-3.8" dx="-1.7">+</tspan></text>
<line x1="424" y1="485.4" x2="424" y2="490.2" stroke="#000" stroke-width="1.2" stroke-linecap="butt"/>
<text transform="translate(426.7,497.3) rotate(-45)" font-size="9.05" text-anchor="end">150 mM Cs<tspan font-size="7.5" dy="-3.8" dx="-1.7">+</tspan></text>
<text transform="translate(248.3,427) rotate(-90)" font-size="9.4" font-weight="bold" text-anchor="middle">Amplitude [nA]</text>
<text x="241.6" y="347.6" font-size="10.5" font-weight="normal" fill="#000" text-anchor="start" >H</text>
<text x="289.8" y="346.7" font-size="10.8" font-weight="bold" fill="#000" text-anchor="start" >Max current amplitude</text>
<text x="323.3" y="360.5" font-size="10.8" font-weight="bold" fill="#000" text-anchor="start" >(absolute)</text>
<rect x="500.7" y="438" width="6.7" height="47.3" fill="#000"/>
<line x1="504.5" y1="429" x2="504.5" y2="438.2" stroke="#1c1c1c" stroke-width="0.9" stroke-linecap="butt"/>
<line x1="502.7" y1="429" x2="506.3" y2="429" stroke="#1c1c1c" stroke-width="0.9" stroke-linecap="butt"/>
<rect x="510.35" y="473" width="6.7" height="12.3" fill="#666666"/>
<line x1="513.5" y1="469.6" x2="513.5" y2="473.2" stroke="#1c1c1c" stroke-width="0.9" stroke-linecap="butt"/>
<line x1="511.7" y1="469.6" x2="515.3" y2="469.6" stroke="#1c1c1c" stroke-width="0.9" stroke-linecap="butt"/>
<rect x="520" y="473" width="6.7" height="12.3" fill="#d2d2d2"/>
<line x1="523.5" y1="470" x2="523.5" y2="473.2" stroke="#1c1c1c" stroke-width="0.9" stroke-linecap="butt"/>
<line x1="521.7" y1="470" x2="525.3" y2="470" stroke="#1c1c1c" stroke-width="0.9" stroke-linecap="butt"/>
<rect x="536.7" y="481.4" width="6.7" height="3.9" fill="#000"/>
<line x1="540.5" y1="478.4" x2="540.5" y2="481.6" stroke="#1c1c1c" stroke-width="0.9" stroke-linecap="butt"/>
<line x1="538.7" y1="478.4" x2="542.3" y2="478.4" stroke="#1c1c1c" stroke-width="0.9" stroke-linecap="butt"/>
<rect x="546.35" y="484" width="6.7" height="1.3" fill="#666666"/>
<line x1="549.5" y1="483.4" x2="549.5" y2="484.2" stroke="#1c1c1c" stroke-width="0.9" stroke-linecap="butt"/>
<line x1="547.7" y1="483.4" x2="551.3" y2="483.4" stroke="#1c1c1c" stroke-width="0.9" stroke-linecap="butt"/>
<rect x="556" y="483.4" width="6.7" height="1.9" fill="#d2d2d2"/>
<line x1="559.5" y1="482.6" x2="559.5" y2="483.6" stroke="#1c1c1c" stroke-width="0.9" stroke-linecap="butt"/>
<line x1="557.7" y1="482.6" x2="561.3" y2="482.6" stroke="#1c1c1c" stroke-width="0.9" stroke-linecap="butt"/>
<rect x="572.5" y="471" width="6.7" height="14.3" fill="#000"/>
<line x1="575.5" y1="467.6" x2="575.5" y2="471.2" stroke="#1c1c1c" stroke-width="0.9" stroke-linecap="butt"/>
<line x1="573.7" y1="467.6" x2="577.3" y2="467.6" stroke="#1c1c1c" stroke-width="0.9" stroke-linecap="butt"/>
<rect x="582.15" y="481.4" width="6.7" height="3.9" fill="#666666"/>
<line x1="585.5" y1="480.4" x2="585.5" y2="481.6" stroke="#1c1c1c" stroke-width="0.9" stroke-linecap="butt"/>
<line x1="583.7" y1="480.4" x2="587.3" y2="480.4" stroke="#1c1c1c" stroke-width="0.9" stroke-linecap="butt"/>
<rect x="591.8" y="481" width="6.7" height="4.3" fill="#d2d2d2"/>
<line x1="595.5" y1="480" x2="595.5" y2="481.2" stroke="#1c1c1c" stroke-width="0.9" stroke-linecap="butt"/>
<line x1="593.7" y1="480" x2="597.3" y2="480" stroke="#1c1c1c" stroke-width="0.9" stroke-linecap="butt"/>
<rect x="608.5" y="426.6" width="6.7" height="58.7" fill="#000"/>
<line x1="611.5" y1="415" x2="611.5" y2="426.8" stroke="#1c1c1c" stroke-width="0.9" stroke-linecap="butt"/>
<line x1="609.7" y1="415" x2="613.3" y2="415" stroke="#1c1c1c" stroke-width="0.9" stroke-linecap="butt"/>
<rect x="618.15" y="469" width="6.7" height="16.3" fill="#666666"/>
<line x1="621.5" y1="465.4" x2="621.5" y2="469.2" stroke="#1c1c1c" stroke-width="0.9" stroke-linecap="butt"/>
<line x1="619.7" y1="465.4" x2="623.3" y2="465.4" stroke="#1c1c1c" stroke-width="0.9" stroke-linecap="butt"/>
<rect x="627.8" y="478" width="6.7" height="7.3" fill="#d2d2d2"/>
<line x1="631.5" y1="476.6" x2="631.5" y2="478.2" stroke="#1c1c1c" stroke-width="0.9" stroke-linecap="butt"/>
<line x1="629.7" y1="476.6" x2="633.3" y2="476.6" stroke="#1c1c1c" stroke-width="0.9" stroke-linecap="butt"/>
<rect x="644.5" y="420.4" width="6.7" height="64.9" fill="#000"/>
<line x1="647.5" y1="410.4" x2="647.5" y2="420.6" stroke="#1c1c1c" stroke-width="0.9" stroke-linecap="butt"/>
<line x1="645.7" y1="410.4" x2="649.3" y2="410.4" stroke="#1c1c1c" stroke-width="0.9" stroke-linecap="butt"/>
<rect x="654.15" y="462" width="6.7" height="23.3" fill="#666666"/>
<line x1="657.5" y1="457.4" x2="657.5" y2="462.2" stroke="#1c1c1c" stroke-width="0.9" stroke-linecap="butt"/>
<line x1="655.7" y1="457.4" x2="659.3" y2="457.4" stroke="#1c1c1c" stroke-width="0.9" stroke-linecap="butt"/>
<rect x="663.8" y="474.6" width="6.7" height="10.7" fill="#d2d2d2"/>
<line x1="667.5" y1="473" x2="667.5" y2="474.8" stroke="#1c1c1c" stroke-width="0.9" stroke-linecap="butt"/>
<line x1="665.7" y1="473" x2="669.3" y2="473" stroke="#1c1c1c" stroke-width="0.9" stroke-linecap="butt"/>
<line x1="497.6" y1="367.4" x2="497.6" y2="486.05" stroke="#000" stroke-width="1.3" stroke-linecap="butt"/>
<line x1="496.95" y1="485.4" x2="674" y2="485.4" stroke="#000" stroke-width="1.3" stroke-linecap="butt"/>
<line x1="492.4" y1="456.15" x2="497.6" y2="456.15" stroke="#000" stroke-width="1.2" stroke-linecap="butt"/>
<line x1="492.4" y1="426.9" x2="497.6" y2="426.9" stroke="#000" stroke-width="1.2" stroke-linecap="butt"/>
<line x1="492.4" y1="397.65" x2="497.6" y2="397.65" stroke="#000" stroke-width="1.2" stroke-linecap="butt"/>
<line x1="492.4" y1="368.4" x2="497.6" y2="368.4" stroke="#000" stroke-width="1.2" stroke-linecap="butt"/>
<line x1="494.4" y1="470.77" x2="497.6" y2="470.77" stroke="#000" stroke-width="1.2" stroke-linecap="butt"/>
<line x1="494.4" y1="441.52" x2="497.6" y2="441.52" stroke="#000" stroke-width="1.2" stroke-linecap="butt"/>
<line x1="494.4" y1="412.27" x2="497.6" y2="412.27" stroke="#000" stroke-width="1.2" stroke-linecap="butt"/>
<line x1="494.4" y1="383.02" x2="497.6" y2="383.02" stroke="#000" stroke-width="1.2" stroke-linecap="butt"/>
<text x="491.7" y="459.05" font-size="8.2" font-weight="bold" fill="#000" text-anchor="end" >1</text>
<text x="491.7" y="429.8" font-size="8.2" font-weight="bold" fill="#000" text-anchor="end" >2</text>
<text x="491.7" y="400.55" font-size="8.2" font-weight="bold" fill="#000" text-anchor="end" >3</text>
<text x="491.7" y="371.3" font-size="8.2" font-weight="bold" fill="#000" text-anchor="end" >4</text>
<line x1="513.6" y1="485.4" x2="513.6" y2="490.2" stroke="#000" stroke-width="1.2" stroke-linecap="butt"/>
<text transform="translate(516.3,497.3) rotate(-45)" font-size="9.05" text-anchor="end">0.1 mM Gly</text>
<line x1="549.6" y1="485.4" x2="549.6" y2="490.2" stroke="#000" stroke-width="1.2" stroke-linecap="butt"/>
<text transform="translate(552.3,497.3) rotate(-45)" font-size="9.05" text-anchor="end">0.5 mM Cs<tspan font-size="7.5" dy="-3.8" dx="-1.7">+</tspan></text>
<line x1="585.4" y1="485.4" x2="585.4" y2="490.2" stroke="#000" stroke-width="1.2" stroke-linecap="butt"/>
<text transform="translate(588.1,497.3) rotate(-45)" font-size="9.05" text-anchor="end">5 mM Cs<tspan font-size="7.5" dy="-3.8" dx="-1.7">+</tspan></text>
<line x1="621.4" y1="485.4" x2="621.4" y2="490.2" stroke="#000" stroke-width="1.2" stroke-linecap="butt"/>
<text transform="translate(624.1,497.3) rotate(-45)" font-size="9.05" text-anchor="end">50 mM Cs<tspan font-size="7.5" dy="-3.8" dx="-1.7">+</tspan></text>
<line x1="657.4" y1="485.4" x2="657.4" y2="490.2" stroke="#000" stroke-width="1.2" stroke-linecap="butt"/>
<text transform="translate(660.1,497.3) rotate(-45)" font-size="9.05" text-anchor="end">150 mM Cs<tspan font-size="7.5" dy="-3.8" dx="-1.7">+</tspan></text>
<text transform="translate(480.3,427) rotate(-90)" font-size="9.4" font-weight="bold" text-anchor="middle">Amplitude [nA]</text>
<text x="466" y="347.6" font-size="10.5" font-weight="normal" fill="#000" text-anchor="start" >M</text>
<text x="518.8" y="346.7" font-size="10.8" font-weight="bold" fill="#000" text-anchor="start" >Max current amplitude</text>
<text x="551.9" y="360.5" font-size="10.8" font-weight="bold" fill="#000" text-anchor="start" >(absolute)</text>
<polyline points="504,422 504,397.2 513.6,397.2 513.6,463" fill="none" stroke="#1a1a1a" stroke-width="1.25"/>
<text x="508.7" y="394.6" font-family="DejaVu Sans, sans-serif" font-weight="bold" font-size="11" letter-spacing="0" text-anchor="middle">*</text>
<polyline points="503.8,378.6 503.8,371.6 523.6,371.6 523.6,463" fill="none" stroke="#1a1a1a" stroke-width="1.25"/>
<text x="513.5" y="370" font-family="DejaVu Sans, sans-serif" font-weight="bold" font-size="11" letter-spacing="0" text-anchor="middle">*</text>
<polyline points="611.6,408 611.6,397.2 621.4,397.2 621.4,459" fill="none" stroke="#1a1a1a" stroke-width="1.25"/>
<text x="616.6" y="394.6" font-family="DejaVu Sans, sans-serif" font-weight="bold" font-size="11" letter-spacing="0" text-anchor="middle">*</text>
<polyline points="611.6,378.6 611.6,371.6 631,371.6 631,470" fill="none" stroke="#1a1a1a" stroke-width="1.25"/>
<text x="621.4" y="370" font-family="DejaVu Sans, sans-serif" font-weight="bold" font-size="11" letter-spacing="0" text-anchor="middle">*</text>
<polyline points="647,408 647,397.2 657.2,397.2 657.2,451" fill="none" stroke="#1a1a1a" stroke-width="1.25"/>
<text x="652.4" y="394.6" font-family="DejaVu Sans, sans-serif" font-weight="bold" font-size="11" letter-spacing="0" text-anchor="middle">*</text>
<polyline points="647,378.6 647,371.6 667.4,371.6 667.4,466" fill="none" stroke="#1a1a1a" stroke-width="1.25"/>
<text x="658.45" y="370" font-family="DejaVu Sans, sans-serif" font-weight="bold" font-size="11" letter-spacing="2.1" text-anchor="middle">**</text>
<rect x="39.7" y="653" width="6.7" height="46.7" fill="#000"/>
<rect x="49.35" y="653" width="6.7" height="46.7" fill="#990000"/>
<rect x="59" y="653" width="6.7" height="46.7" fill="#fa4646"/>
<rect x="75.1" y="696.4" width="6.7" height="3.3" fill="#000"/>
<line x1="78.5" y1="695" x2="78.5" y2="696.6" stroke="#1c1c1c" stroke-width="0.9" stroke-linecap="butt"/>
<line x1="76.7" y1="695" x2="80.3" y2="695" stroke="#1c1c1c" stroke-width="0.9" stroke-linecap="butt"/>
<rect x="84.75" y="696.6" width="6.7" height="3.1" fill="#990000"/>
<line x1="88.5" y1="695.4" x2="88.5" y2="696.8" stroke="#1c1c1c" stroke-width="0.9" stroke-linecap="butt"/>
<line x1="86.7" y1="695.4" x2="90.3" y2="695.4" stroke="#1c1c1c" stroke-width="0.9" stroke-linecap="butt"/>
<rect x="94.4" y="698" width="6.7" height="1.7" fill="#fa4646"/>
<line x1="97.5" y1="697.4" x2="97.5" y2="698.2" stroke="#1c1c1c" stroke-width="0.9" stroke-linecap="butt"/>
<line x1="95.7" y1="697.4" x2="99.3" y2="697.4" stroke="#1c1c1c" stroke-width="0.9" stroke-linecap="butt"/>
<rect x="111.1" y="683.4" width="6.7" height="16.3" fill="#000"/>
<line x1="114.5" y1="680.4" x2="114.5" y2="683.6" stroke="#1c1c1c" stroke-width="0.9" stroke-linecap="butt"/>
<line x1="112.7" y1="680.4" x2="116.3" y2="680.4" stroke="#1c1c1c" stroke-width="0.9" stroke-linecap="butt"/>
<rect x="120.75" y="689" width="6.7" height="10.7" fill="#990000"/>
<line x1="124.5" y1="687.4" x2="124.5" y2="689.2" stroke="#1c1c1c" stroke-width="0.9" stroke-linecap="butt"/>
<line x1="122.7" y1="687.4" x2="126.3" y2="687.4" stroke="#1c1c1c" stroke-width="0.9" stroke-linecap="butt"/>
<rect x="130.4" y="689.6" width="6.7" height="10.1" fill="#fa4646"/>
<line x1="133.5" y1="687" x2="133.5" y2="689.8" stroke="#1c1c1c" stroke-width="0.9" stroke-linecap="butt"/>
<line x1="131.7" y1="687" x2="135.3" y2="687" stroke="#1c1c1c" stroke-width="0.9" stroke-linecap="butt"/>
<rect x="146.5" y="634" width="6.7" height="65.7" fill="#000"/>
<line x1="149.5" y1="622.4" x2="149.5" y2="634.2" stroke="#1c1c1c" stroke-width="0.9" stroke-linecap="butt"/>
<line x1="147.7" y1="622.4" x2="151.3" y2="622.4" stroke="#1c1c1c" stroke-width="0.9" stroke-linecap="butt"/>
<rect x="156.15" y="636" width="6.7" height="63.7" fill="#990000"/>
<line x1="159.5" y1="626.4" x2="159.5" y2="636.2" stroke="#1c1c1c" stroke-width="0.9" stroke-linecap="butt"/>
<line x1="157.7" y1="626.4" x2="161.3" y2="626.4" stroke="#1c1c1c" stroke-width="0.9" stroke-linecap="butt"/>
<rect x="165.8" y="633" width="6.7" height="66.7" fill="#fa4646"/>
<line x1="169.5" y1="620.6" x2="169.5" y2="633.2" stroke="#1c1c1c" stroke-width="0.9" stroke-linecap="butt"/>
<line x1="167.7" y1="620.6" x2="171.3" y2="620.6" stroke="#1c1c1c" stroke-width="0.9" stroke-linecap="butt"/>
<rect x="182.5" y="617.4" width="6.7" height="82.3" fill="#000"/>
<line x1="185.5" y1="601.4" x2="185.5" y2="617.6" stroke="#1c1c1c" stroke-width="0.9" stroke-linecap="butt"/>
<line x1="183.7" y1="601.4" x2="187.3" y2="601.4" stroke="#1c1c1c" stroke-width="0.9" stroke-linecap="butt"/>
<rect x="192.15" y="622" width="6.7" height="77.7" fill="#990000"/>
<line x1="195.5" y1="611.6" x2="195.5" y2="622.2" stroke="#1c1c1c" stroke-width="0.9" stroke-linecap="butt"/>
<line x1="193.7" y1="611.6" x2="197.3" y2="611.6" stroke="#1c1c1c" stroke-width="0.9" stroke-linecap="butt"/>
<rect x="201.8" y="609" width="6.7" height="90.7" fill="#fa4646"/>
<line x1="205.5" y1="592.6" x2="205.5" y2="609.2" stroke="#1c1c1c" stroke-width="0.9" stroke-linecap="butt"/>
<line x1="203.7" y1="592.6" x2="207.3" y2="592.6" stroke="#1c1c1c" stroke-width="0.9" stroke-linecap="butt"/>
<line x1="36" y1="581.8" x2="36" y2="700.45" stroke="#000" stroke-width="1.3" stroke-linecap="butt"/>
<line x1="35.35" y1="699.8" x2="211.6" y2="699.8" stroke="#000" stroke-width="1.3" stroke-linecap="butt"/>
<line x1="30.8" y1="699.8" x2="36" y2="699.8" stroke="#000" stroke-width="1.2" stroke-linecap="butt"/>
<line x1="30.8" y1="653.1" x2="36" y2="653.1" stroke="#000" stroke-width="1.2" stroke-linecap="butt"/>
<line x1="30.8" y1="606.4" x2="36" y2="606.4" stroke="#000" stroke-width="1.2" stroke-linecap="butt"/>
<line x1="32.8" y1="676.45" x2="36" y2="676.45" stroke="#000" stroke-width="1.2" stroke-linecap="butt"/>
<line x1="32.8" y1="629.75" x2="36" y2="629.75" stroke="#000" stroke-width="1.2" stroke-linecap="butt"/>
<line x1="32.8" y1="583.05" x2="36" y2="583.05" stroke="#000" stroke-width="1.2" stroke-linecap="butt"/>
<text x="30.1" y="702.7" font-size="8.2" font-weight="bold" fill="#000" text-anchor="end" >0</text>
<text x="30.1" y="656" font-size="8.2" font-weight="bold" fill="#000" text-anchor="end" >1</text>
<text x="30.1" y="609.3" font-size="8.2" font-weight="bold" fill="#000" text-anchor="end" >2</text>
<line x1="52.6" y1="699.8" x2="52.6" y2="704.6" stroke="#000" stroke-width="1.2" stroke-linecap="butt"/>
<text transform="translate(55.3,711.7) rotate(-45)" font-size="9.05" text-anchor="end">0.1 mM Gly</text>
<line x1="88" y1="699.8" x2="88" y2="704.6" stroke="#000" stroke-width="1.2" stroke-linecap="butt"/>
<text transform="translate(90.7,711.7) rotate(-45)" font-size="9.05" text-anchor="end">0.5 mM Cs<tspan font-size="7.5" dy="-3.8" dx="-1.7">+</tspan></text>
<line x1="124" y1="699.8" x2="124" y2="704.6" stroke="#000" stroke-width="1.2" stroke-linecap="butt"/>
<text transform="translate(126.7,711.7) rotate(-45)" font-size="9.05" text-anchor="end">5 mM Cs<tspan font-size="7.5" dy="-3.8" dx="-1.7">+</tspan></text>
<line x1="159.4" y1="699.8" x2="159.4" y2="704.6" stroke="#000" stroke-width="1.2" stroke-linecap="butt"/>
<text transform="translate(162.1,711.7) rotate(-45)" font-size="9.05" text-anchor="end">50 mM Cs<tspan font-size="7.5" dy="-3.8" dx="-1.7">+</tspan></text>
<line x1="195.4" y1="699.8" x2="195.4" y2="704.6" stroke="#000" stroke-width="1.2" stroke-linecap="butt"/>
<text transform="translate(198.1,711.7) rotate(-45)" font-size="9.05" text-anchor="end">150 mM Cs<tspan font-size="7.5" dy="-3.8" dx="-1.7">+</tspan></text>
<text transform="translate(18.8,640) rotate(-90)" font-size="9.57" font-weight="bold" text-anchor="middle">norm. amplitude (I/I<tspan font-size="7.6" dy="1.2">Gly</tspan><tspan dy="-1.2">)</tspan></text>
<text x="6.6" y="561.4" font-size="10.5" font-weight="normal" fill="#000" text-anchor="start" >D</text>
<text x="62.4" y="560.7" font-size="10.8" font-weight="bold" fill="#000" text-anchor="start" >Max current amplitude</text>
<text x="90.7" y="574.5" font-size="10.8" font-weight="bold" fill="#000" text-anchor="start" >(normalized)</text>
<rect x="51" y="595.4" width="12.6" height="6" fill="#000"/>
<text transform="translate(70.4,602) scale(0.948,1)" font-size="10.2" fill="#111">GlyR α3L 185L</text>
<rect x="51" y="611.4" width="12.6" height="6" fill="#990000"/>
<text transform="translate(70.4,618) scale(0.948,1)" font-size="10.2" fill="#111">D141A</text>
<rect x="51" y="627" width="12.6" height="6" fill="#fa4646"/>
<text transform="translate(70.4,633.6) scale(0.948,1)" font-size="10.2" fill="#111">D141K</text>
<rect x="270.1" y="660" width="6.7" height="39.3" fill="#000"/>
<rect x="279.75" y="660" width="6.7" height="39.3" fill="#000080"/>
<rect x="289.4" y="660" width="6.7" height="39.3" fill="#5a5af5"/>
<rect x="305.7" y="696.4" width="6.7" height="2.9" fill="#000"/>
<line x1="309.5" y1="695.4" x2="309.5" y2="696.6" stroke="#1c1c1c" stroke-width="0.9" stroke-linecap="butt"/>
<line x1="307.7" y1="695.4" x2="311.3" y2="695.4" stroke="#1c1c1c" stroke-width="0.9" stroke-linecap="butt"/>
<rect x="315.35" y="696" width="6.7" height="3.3" fill="#000080"/>
<line x1="318.5" y1="695" x2="318.5" y2="696.2" stroke="#1c1c1c" stroke-width="0.9" stroke-linecap="butt"/>
<line x1="316.7" y1="695" x2="320.3" y2="695" stroke="#1c1c1c" stroke-width="0.9" stroke-linecap="butt"/>
<rect x="325" y="695.6" width="6.7" height="3.7" fill="#5a5af5"/>
<line x1="328.5" y1="694.6" x2="328.5" y2="695.8" stroke="#1c1c1c" stroke-width="0.9" stroke-linecap="butt"/>
<line x1="326.7" y1="694.6" x2="330.3" y2="694.6" stroke="#1c1c1c" stroke-width="0.9" stroke-linecap="butt"/>
<rect x="341.5" y="685.4" width="6.7" height="13.9" fill="#000"/>
<line x1="344.5" y1="682.6" x2="344.5" y2="685.6" stroke="#1c1c1c" stroke-width="0.9" stroke-linecap="butt"/>
<line x1="342.7" y1="682.6" x2="346.3" y2="682.6" stroke="#1c1c1c" stroke-width="0.9" stroke-linecap="butt"/>
<rect x="351.15" y="687.6" width="6.7" height="11.7" fill="#000080"/>
<line x1="354.5" y1="685.4" x2="354.5" y2="687.8" stroke="#1c1c1c" stroke-width="0.9" stroke-linecap="butt"/>
<line x1="352.7" y1="685.4" x2="356.3" y2="685.4" stroke="#1c1c1c" stroke-width="0.9" stroke-linecap="butt"/>
<rect x="360.8" y="685.6" width="6.7" height="13.7" fill="#5a5af5"/>
<line x1="364.5" y1="684" x2="364.5" y2="685.8" stroke="#1c1c1c" stroke-width="0.9" stroke-linecap="butt"/>
<line x1="362.7" y1="684" x2="366.3" y2="684" stroke="#1c1c1c" stroke-width="0.9" stroke-linecap="butt"/>
<rect x="377.5" y="644" width="6.7" height="55.3" fill="#000"/>
<line x1="380.5" y1="634.6" x2="380.5" y2="644.2" stroke="#1c1c1c" stroke-width="0.9" stroke-linecap="butt"/>
<line x1="378.7" y1="634.6" x2="382.3" y2="634.6" stroke="#1c1c1c" stroke-width="0.9" stroke-linecap="butt"/>
<rect x="387.15" y="641.4" width="6.7" height="57.9" fill="#000080"/>
<line x1="390.5" y1="631.4" x2="390.5" y2="641.6" stroke="#1c1c1c" stroke-width="0.9" stroke-linecap="butt"/>
<line x1="388.7" y1="631.4" x2="392.3" y2="631.4" stroke="#1c1c1c" stroke-width="0.9" stroke-linecap="butt"/>
<rect x="396.8" y="659.6" width="6.7" height="39.7" fill="#5a5af5"/>
<line x1="400.5" y1="657" x2="400.5" y2="659.8" stroke="#1c1c1c" stroke-width="0.9" stroke-linecap="butt"/>
<line x1="398.7" y1="657" x2="402.3" y2="657" stroke="#1c1c1c" stroke-width="0.9" stroke-linecap="butt"/>
<rect x="413.1" y="630.4" width="6.7" height="68.9" fill="#000"/>
<line x1="416.5" y1="617.4" x2="416.5" y2="630.6" stroke="#1c1c1c" stroke-width="0.9" stroke-linecap="butt"/>
<line x1="414.7" y1="617.4" x2="418.3" y2="617.4" stroke="#1c1c1c" stroke-width="0.9" stroke-linecap="butt"/>
<rect x="422.75" y="609.6" width="6.7" height="89.7" fill="#000080"/>
<line x1="426.5" y1="592.4" x2="426.5" y2="609.8" stroke="#1c1c1c" stroke-width="0.9" stroke-linecap="butt"/>
<line x1="424.7" y1="592.4" x2="428.3" y2="592.4" stroke="#1c1c1c" stroke-width="0.9" stroke-linecap="butt"/>
<rect x="432.4" y="650.4" width="6.7" height="48.9" fill="#5a5af5"/>
<line x1="435.5" y1="646.6" x2="435.5" y2="650.6" stroke="#1c1c1c" stroke-width="0.9" stroke-linecap="butt"/>
<line x1="433.7" y1="646.6" x2="437.3" y2="646.6" stroke="#1c1c1c" stroke-width="0.9" stroke-linecap="butt"/>
<line x1="266.6" y1="581.4" x2="266.6" y2="700.05" stroke="#000" stroke-width="1.3" stroke-linecap="butt"/>
<line x1="265.95" y1="699.4" x2="443" y2="699.4" stroke="#000" stroke-width="1.3" stroke-linecap="butt"/>
<line x1="261.4" y1="699.4" x2="266.6" y2="699.4" stroke="#000" stroke-width="1.2" stroke-linecap="butt"/>
<line x1="261.4" y1="660.4" x2="266.6" y2="660.4" stroke="#000" stroke-width="1.2" stroke-linecap="butt"/>
<line x1="261.4" y1="621.4" x2="266.6" y2="621.4" stroke="#000" stroke-width="1.2" stroke-linecap="butt"/>
<line x1="261.4" y1="582.4" x2="266.6" y2="582.4" stroke="#000" stroke-width="1.2" stroke-linecap="butt"/>
<line x1="263.4" y1="679.9" x2="266.6" y2="679.9" stroke="#000" stroke-width="1.2" stroke-linecap="butt"/>
<line x1="263.4" y1="640.9" x2="266.6" y2="640.9" stroke="#000" stroke-width="1.2" stroke-linecap="butt"/>
<line x1="263.4" y1="601.9" x2="266.6" y2="601.9" stroke="#000" stroke-width="1.2" stroke-linecap="butt"/>
<text x="260.7" y="702.3" font-size="8.2" font-weight="bold" fill="#000" text-anchor="end" >0</text>
<text x="260.7" y="663.3" font-size="8.2" font-weight="bold" fill="#000" text-anchor="end" >1</text>
<text x="260.7" y="624.3" font-size="8.2" font-weight="bold" fill="#000" text-anchor="end" >2</text>
<text x="260.7" y="585.3" font-size="8.2" font-weight="bold" fill="#000" text-anchor="end" >3</text>
<line x1="283" y1="699.4" x2="283" y2="704.2" stroke="#000" stroke-width="1.2" stroke-linecap="butt"/>
<text transform="translate(285.7,711.3) rotate(-45)" font-size="9.05" text-anchor="end">0.1 mM Gly</text>
<line x1="318.6" y1="699.4" x2="318.6" y2="704.2" stroke="#000" stroke-width="1.2" stroke-linecap="butt"/>
<text transform="translate(321.3,711.3) rotate(-45)" font-size="9.05" text-anchor="end">0.5 mM Cs<tspan font-size="7.5" dy="-3.8" dx="-1.7">+</tspan></text>
<line x1="354.4" y1="699.4" x2="354.4" y2="704.2" stroke="#000" stroke-width="1.2" stroke-linecap="butt"/>
<text transform="translate(357.1,711.3) rotate(-45)" font-size="9.05" text-anchor="end">5 mM Cs<tspan font-size="7.5" dy="-3.8" dx="-1.7">+</tspan></text>
<line x1="390.4" y1="699.4" x2="390.4" y2="704.2" stroke="#000" stroke-width="1.2" stroke-linecap="butt"/>
<text transform="translate(393.1,711.3) rotate(-45)" font-size="9.05" text-anchor="end">50 mM Cs<tspan font-size="7.5" dy="-3.8" dx="-1.7">+</tspan></text>
<line x1="426" y1="699.4" x2="426" y2="704.2" stroke="#000" stroke-width="1.2" stroke-linecap="butt"/>
<text transform="translate(428.7,711.3) rotate(-45)" font-size="9.05" text-anchor="end">150 mM Cs<tspan font-size="7.5" dy="-3.8" dx="-1.7">+</tspan></text>
<text transform="translate(248.8,640) rotate(-90)" font-size="9.57" font-weight="bold" text-anchor="middle">norm. amplitude (I/I<tspan font-size="7.6" dy="1.2">Gly</tspan><tspan dy="-1.2">)</tspan></text>
<text x="242" y="561.4" font-size="10.5" font-weight="normal" fill="#000" text-anchor="start" >I</text>
<text x="290.4" y="560.7" font-size="10.8" font-weight="bold" fill="#000" text-anchor="start" >Max current amplitude</text>
<text x="317.7" y="574.5" font-size="10.8" font-weight="bold" fill="#000" text-anchor="start" >(normalized)</text>
<rect x="282.4" y="596.4" width="12.6" height="6" fill="#000"/>
<text transform="translate(302,603) scale(0.948,1)" font-size="10.2" fill="#111">GlyR α3L 185L</text>
<rect x="282.4" y="612" width="12.6" height="6" fill="#000080"/>
<text transform="translate(302,618.6) scale(0.948,1)" font-size="10.2" fill="#111">E192A</text>
<rect x="282.4" y="627.6" width="12.6" height="6" fill="#5a5af5"/>
<text transform="translate(302,634.2) scale(0.948,1)" font-size="10.2" fill="#111">E192K</text>
<rect x="503.7" y="670" width="6.7" height="29.7" fill="#000"/>
<rect x="513.35" y="670" width="6.7" height="29.7" fill="#666666"/>
<rect x="523" y="670" width="6.7" height="29.7" fill="#d2d2d2"/>
<rect x="539.5" y="697.4" width="6.7" height="2.3" fill="#000"/>
<line x1="542.5" y1="696.6" x2="542.5" y2="697.6" stroke="#1c1c1c" stroke-width="0.9" stroke-linecap="butt"/>
<line x1="540.7" y1="696.6" x2="544.3" y2="696.6" stroke="#1c1c1c" stroke-width="0.9" stroke-linecap="butt"/>
<rect x="549.15" y="694" width="6.7" height="5.7" fill="#666666"/>
<line x1="552.5" y1="692" x2="552.5" y2="694.2" stroke="#1c1c1c" stroke-width="0.9" stroke-linecap="butt"/>
<line x1="550.7" y1="692" x2="554.3" y2="692" stroke="#1c1c1c" stroke-width="0.9" stroke-linecap="butt"/>
<rect x="558.8" y="692.6" width="6.7" height="7.1" fill="#d2d2d2"/>
<line x1="562.5" y1="691.4" x2="562.5" y2="692.8" stroke="#1c1c1c" stroke-width="0.9" stroke-linecap="butt"/>
<line x1="560.7" y1="691.4" x2="564.3" y2="691.4" stroke="#1c1c1c" stroke-width="0.9" stroke-linecap="butt"/>
<rect x="575.5" y="689.2" width="6.7" height="10.5" fill="#000"/>
<line x1="578.5" y1="687" x2="578.5" y2="689.4" stroke="#1c1c1c" stroke-width="0.9" stroke-linecap="butt"/>
<line x1="576.7" y1="687" x2="580.3" y2="687" stroke="#1c1c1c" stroke-width="0.9" stroke-linecap="butt"/>
<rect x="585.15" y="684.6" width="6.7" height="15.1" fill="#666666"/>
<line x1="588.5" y1="679.6" x2="588.5" y2="684.8" stroke="#1c1c1c" stroke-width="0.9" stroke-linecap="butt"/>
<line x1="586.7" y1="679.6" x2="590.3" y2="679.6" stroke="#1c1c1c" stroke-width="0.9" stroke-linecap="butt"/>
<rect x="594.8" y="685" width="6.7" height="14.7" fill="#d2d2d2"/>
<line x1="598.5" y1="682.6" x2="598.5" y2="685.2" stroke="#1c1c1c" stroke-width="0.9" stroke-linecap="butt"/>
<line x1="596.7" y1="682.6" x2="600.3" y2="682.6" stroke="#1c1c1c" stroke-width="0.9" stroke-linecap="butt"/>
<rect x="611.1" y="658.4" width="6.7" height="41.3" fill="#000"/>
<line x1="614.5" y1="651.4" x2="614.5" y2="658.6" stroke="#1c1c1c" stroke-width="0.9" stroke-linecap="butt"/>
<line x1="612.7" y1="651.4" x2="616.3" y2="651.4" stroke="#1c1c1c" stroke-width="0.9" stroke-linecap="butt"/>
<rect x="620.75" y="647" width="6.7" height="52.7" fill="#666666"/>
<line x1="624.5" y1="633.4" x2="624.5" y2="647.2" stroke="#1c1c1c" stroke-width="0.9" stroke-linecap="butt"/>
<line x1="622.7" y1="633.4" x2="626.3" y2="633.4" stroke="#1c1c1c" stroke-width="0.9" stroke-linecap="butt"/>
<rect x="630.4" y="672.4" width="6.7" height="27.3" fill="#d2d2d2"/>
<line x1="633.5" y1="668" x2="633.5" y2="672.6" stroke="#1c1c1c" stroke-width="0.9" stroke-linecap="butt"/>
<line x1="631.7" y1="668" x2="635.3" y2="668" stroke="#1c1c1c" stroke-width="0.9" stroke-linecap="butt"/>
<rect x="647.1" y="648" width="6.7" height="51.7" fill="#000"/>
<line x1="650.5" y1="637.6" x2="650.5" y2="648.2" stroke="#1c1c1c" stroke-width="0.9" stroke-linecap="butt"/>
<line x1="648.7" y1="637.6" x2="652.3" y2="637.6" stroke="#1c1c1c" stroke-width="0.9" stroke-linecap="butt"/>
<rect x="656.75" y="618.6" width="6.7" height="81.1" fill="#666666"/>
<line x1="660.5" y1="593" x2="660.5" y2="618.8" stroke="#1c1c1c" stroke-width="0.9" stroke-linecap="butt"/>
<line x1="658.7" y1="593" x2="662.3" y2="593" stroke="#1c1c1c" stroke-width="0.9" stroke-linecap="butt"/>
<rect x="666.4" y="660" width="6.7" height="39.7" fill="#d2d2d2"/>
<line x1="669.5" y1="652.6" x2="669.5" y2="660.2" stroke="#1c1c1c" stroke-width="0.9" stroke-linecap="butt"/>
<line x1="667.7" y1="652.6" x2="671.3" y2="652.6" stroke="#1c1c1c" stroke-width="0.9" stroke-linecap="butt"/>
<line x1="500" y1="581.4" x2="500" y2="700.45" stroke="#000" stroke-width="1.3" stroke-linecap="butt"/>
<line x1="499.35" y1="699.8" x2="676" y2="699.8" stroke="#000" stroke-width="1.3" stroke-linecap="butt"/>
<line x1="494.8" y1="699.8" x2="500" y2="699.8" stroke="#000" stroke-width="1.2" stroke-linecap="butt"/>
<line x1="494.8" y1="670.45" x2="500" y2="670.45" stroke="#000" stroke-width="1.2" stroke-linecap="butt"/>
<line x1="494.8" y1="641.1" x2="500" y2="641.1" stroke="#000" stroke-width="1.2" stroke-linecap="butt"/>
<line x1="494.8" y1="611.75" x2="500" y2="611.75" stroke="#000" stroke-width="1.2" stroke-linecap="butt"/>
<line x1="494.8" y1="582.4" x2="500" y2="582.4" stroke="#000" stroke-width="1.2" stroke-linecap="butt"/>
<line x1="496.8" y1="685.12" x2="500" y2="685.12" stroke="#000" stroke-width="1.2" stroke-linecap="butt"/>
<line x1="496.8" y1="655.77" x2="500" y2="655.77" stroke="#000" stroke-width="1.2" stroke-linecap="butt"/>
<line x1="496.8" y1="626.42" x2="500" y2="626.42" stroke="#000" stroke-width="1.2" stroke-linecap="butt"/>
<line x1="496.8" y1="597.07" x2="500" y2="597.07" stroke="#000" stroke-width="1.2" stroke-linecap="butt"/>
<text x="494.1" y="702.7" font-size="8.2" font-weight="bold" fill="#000" text-anchor="end" >0</text>
<text x="494.1" y="673.35" font-size="8.2" font-weight="bold" fill="#000" text-anchor="end" >1</text>
<text x="494.1" y="644" font-size="8.2" font-weight="bold" fill="#000" text-anchor="end" >2</text>
<text x="494.1" y="614.65" font-size="8.2" font-weight="bold" fill="#000" text-anchor="end" >3</text>
<text x="494.1" y="585.3" font-size="8.2" font-weight="bold" fill="#000" text-anchor="end" >4</text>
<line x1="516.6" y1="699.8" x2="516.6" y2="704.6" stroke="#000" stroke-width="1.2" stroke-linecap="butt"/>
<text transform="translate(519.3,711.7) rotate(-45)" font-size="9.05" text-anchor="end">0.1 mM Gly</text>
<line x1="552.4" y1="699.8" x2="552.4" y2="704.6" stroke="#000" stroke-width="1.2" stroke-linecap="butt"/>
<text transform="translate(555.1,711.7) rotate(-45)" font-size="9.05" text-anchor="end">0.5 mM Cs<tspan font-size="7.5" dy="-3.8" dx="-1.7">+</tspan></text>
<line x1="588.4" y1="699.8" x2="588.4" y2="704.6" stroke="#000" stroke-width="1.2" stroke-linecap="butt"/>
<text transform="translate(591.1,711.7) rotate(-45)" font-size="9.05" text-anchor="end">5 mM Cs<tspan font-size="7.5" dy="-3.8" dx="-1.7">+</tspan></text>
<line x1="624" y1="699.8" x2="624" y2="704.6" stroke="#000" stroke-width="1.2" stroke-linecap="butt"/>
<text transform="translate(626.7,711.7) rotate(-45)" font-size="9.05" text-anchor="end">50 mM Cs<tspan font-size="7.5" dy="-3.8" dx="-1.7">+</tspan></text>
<line x1="660" y1="699.8" x2="660" y2="704.6" stroke="#000" stroke-width="1.2" stroke-linecap="butt"/>
<text transform="translate(662.7,711.7) rotate(-45)" font-size="9.05" text-anchor="end">150 mM Cs<tspan font-size="7.5" dy="-3.8" dx="-1.7">+</tspan></text>
<text transform="translate(482.8,640) rotate(-90)" font-size="9.57" font-weight="bold" text-anchor="middle">norm. amplitude (I/I<tspan font-size="7.6" dy="1.2">Gly</tspan><tspan dy="-1.2">)</tspan></text>
<text x="466" y="561.4" font-size="10.5" font-weight="normal" fill="#000" text-anchor="start" >N</text>
<text x="518.8" y="560.7" font-size="10.8" font-weight="bold" fill="#000" text-anchor="start" >Max current amplitude</text>
<text x="546.1" y="574.5" font-size="10.8" font-weight="bold" fill="#000" text-anchor="start" >(normalized)</text>
<rect x="516" y="595.4" width="12.6" height="6" fill="#000"/>
<text transform="translate(536,602) scale(0.948,1)" font-size="10.2" fill="#111">GlyR α3L 185L</text>
<rect x="516" y="611.4" width="12.6" height="6" fill="#666666"/>
<text transform="translate(536,618) scale(0.948,1)" font-size="10.2" fill="#111">D194A</text>
<rect x="516" y="627" width="12.6" height="6" fill="#d2d2d2"/>
<text transform="translate(536,633.6) scale(0.948,1)" font-size="10.2" fill="#111">D194K</text>
<polyline points="542.4,686 542.4,661.4 562.4,661.4 562.4,686" fill="none" stroke="#1a1a1a" stroke-width="1.25"/>
<text x="552.4" y="659.6" font-family="DejaVu Sans, sans-serif" font-weight="bold" font-size="11" letter-spacing="0" text-anchor="middle">*</text>
<polyline points="76.15,931.85 77.82,931.76 79.49,931.66 81.15,931.54 82.82,931.41 84.48,931.25 86.15,931.08 87.81,930.88 89.48,930.65 91.15,930.39 92.81,930.1 94.48,929.76 96.14,929.38 97.81,928.95 99.48,928.47 101.14,927.91 102.81,927.29 104.47,926.58 106.14,925.78 107.8,924.88 109.47,923.86 111.14,922.72 112.8,921.45 114.47,920.02 116.13,918.43 117.8,916.67 119.47,914.71 121.13,912.55 122.8,910.18 124.46,907.59 126.13,904.76 127.8,901.71 129.46,898.42 131.13,894.91 132.79,891.18 134.46,887.24 136.12,883.13 137.79,878.85 139.46,874.45 141.12,869.96 142.79,865.42 144.45,860.86 146.12,856.32 147.79,851.85 149.45,847.49 151.12,843.25 152.78,839.18 154.45,835.3 156.11,831.63 157.78,828.17 159.45,824.95 161.11,821.96 162.78,819.19 164.44,816.66 166.11,814.35 167.78,812.25 169.44,810.34 171.11,808.62 172.77,807.08 174.44,805.69 176.11,804.46" fill="none" stroke="#ff0000" stroke-width="0.9" stroke-linejoin="round" stroke-linecap="round"/>
<polyline points="76.15,931.59 77.82,931.46 79.49,931.32 81.15,931.15 82.82,930.96 84.48,930.74 86.15,930.5 87.81,930.22 89.48,929.9 91.15,929.54 92.81,929.14 94.48,928.67 96.14,928.15 97.81,927.55 99.48,926.88 101.14,926.12 102.81,925.26 104.47,924.3 106.14,923.22 107.8,922 109.47,920.64 111.14,919.13 112.8,917.44 114.47,915.57 116.13,913.5 117.8,911.22 119.47,908.73 121.13,906.01 122.8,903.06 124.46,899.88 126.13,896.47 127.8,892.83 129.46,888.99 131.13,884.96 132.79,880.76 134.46,876.42 136.12,871.97 137.79,867.45 139.46,862.9 141.12,858.35 142.79,853.85 144.45,849.44 146.12,845.15 147.79,841.01 149.45,837.04 151.12,833.28 152.78,829.73 154.45,826.4 156.11,823.31 157.78,820.44 159.45,817.81 161.11,815.4 162.78,813.2 164.44,811.21 166.11,809.41 167.78,807.79 169.44,806.33 171.11,805.03 172.77,803.86 174.44,802.82 176.11,801.9" fill="none" stroke="#990000" stroke-width="0.9" stroke-linejoin="round" stroke-linecap="round"/>
<polyline points="76.15,930.39 77.82,930.14 79.49,929.85 81.15,929.53 82.82,929.16 84.48,928.76 86.15,928.31 87.81,927.81 89.48,927.24 91.15,926.62 92.81,925.92 94.48,925.15 96.14,924.28 97.81,923.33 99.48,922.27 101.14,921.11 102.81,919.82 104.47,918.4 106.14,916.85 107.8,915.15 109.47,913.29 111.14,911.27 112.8,909.07 114.47,906.7 116.13,904.16 117.8,901.42 119.47,898.51 121.13,895.42 122.8,892.16 124.46,888.74 126.13,885.17 127.8,881.46 129.46,877.65 131.13,873.74 132.79,869.76 134.46,865.74 136.12,861.71 137.79,857.69 139.46,853.72 141.12,849.81 142.79,845.99 144.45,842.29 146.12,838.72 147.79,835.3 149.45,832.04 151.12,828.95 152.78,826.04 154.45,823.31 156.11,820.77 157.78,818.4 159.45,816.21 161.11,814.19 162.78,812.33 164.44,810.63 166.11,809.08 167.78,807.66 169.44,806.38 171.11,805.21 172.77,804.16 174.44,803.2 176.11,802.34" fill="none" stroke="#000" stroke-width="0.9" stroke-linejoin="round" stroke-linecap="round"/>
<line x1="156.85" y1="822.09" x2="156.85" y2="838.04" stroke="#ff0000" stroke-width="0.95" stroke-linecap="butt"/>
<line x1="154.25" y1="822.09" x2="159.45" y2="822.09" stroke="#ff0000" stroke-width="0.95" stroke-linecap="butt"/>
<line x1="154.25" y1="838.04" x2="159.45" y2="838.04" stroke="#ff0000" stroke-width="0.95" stroke-linecap="butt"/>
<line x1="156.85" y1="815.76" x2="156.85" y2="828.14" stroke="#990000" stroke-width="0.95" stroke-linecap="butt"/>
<line x1="154.25" y1="815.76" x2="159.45" y2="815.76" stroke="#990000" stroke-width="0.95" stroke-linecap="butt"/>
<line x1="154.25" y1="828.14" x2="159.45" y2="828.14" stroke="#990000" stroke-width="0.95" stroke-linecap="butt"/>
<line x1="176.11" y1="798.85" x2="176.11" y2="804.9" stroke="#990000" stroke-width="0.95" stroke-linecap="butt"/>
<line x1="173.51" y1="798.85" x2="178.71" y2="798.85" stroke="#990000" stroke-width="0.95" stroke-linecap="butt"/>
<line x1="173.51" y1="804.9" x2="178.71" y2="804.9" stroke="#990000" stroke-width="0.95" stroke-linecap="butt"/>
<line x1="116.5" y1="899.23" x2="116.5" y2="908.02" stroke="#000" stroke-width="0.95" stroke-linecap="butt"/>
<line x1="113.9" y1="899.23" x2="119.1" y2="899.23" stroke="#000" stroke-width="0.95" stroke-linecap="butt"/>
<line x1="113.9" y1="908.02" x2="119.1" y2="908.02" stroke="#000" stroke-width="0.95" stroke-linecap="butt"/>
<line x1="156.85" y1="813.7" x2="156.85" y2="826.35" stroke="#000" stroke-width="0.95" stroke-linecap="butt"/>
<line x1="154.25" y1="813.7" x2="159.45" y2="813.7" stroke="#000" stroke-width="0.95" stroke-linecap="butt"/>
<line x1="154.25" y1="826.35" x2="159.45" y2="826.35" stroke="#000" stroke-width="0.95" stroke-linecap="butt"/>
<circle cx="76.15" cy="930.02" r="3" fill="#ff0000"/>
<circle cx="116.5" cy="918.06" r="3" fill="#ff0000"/>
<circle cx="156.85" cy="830.06" r="3" fill="#ff0000"/>
<circle cx="176.11" cy="794.59" r="3" fill="#ff0000"/>
<circle cx="116.5" cy="912.98" r="3" fill="#990000"/>
<circle cx="156.85" cy="821.95" r="3" fill="#990000"/>
<circle cx="176.11" cy="801.88" r="3" fill="#990000"/>
<circle cx="76.15" cy="925.62" r="3" fill="#000"/>
<circle cx="116.5" cy="903.62" r="3" fill="#000"/>
<circle cx="156.85" cy="820.02" r="3" fill="#000"/>
<circle cx="176.11" cy="798.02" r="3" fill="#000"/>
<line x1="36" y1="794.3" x2="36" y2="933.2" stroke="#000" stroke-width="1.4" stroke-linecap="butt"/>
<line x1="35.3" y1="932.5" x2="209.95" y2="932.5" stroke="#000" stroke-width="1.4" stroke-linecap="butt"/>
<line x1="30" y1="932.5" x2="36" y2="932.5" stroke="#000" stroke-width="1.3" stroke-linecap="butt"/>
<text x="28.8" y="936.1" font-size="10.7" font-weight="normal" fill="#1a1a1a" text-anchor="end" >0</text>
<line x1="30" y1="905" x2="36" y2="905" stroke="#000" stroke-width="1.3" stroke-linecap="butt"/>
<text x="28.8" y="908.6" font-size="10.7" font-weight="normal" fill="#1a1a1a" text-anchor="end" >20</text>
<line x1="30" y1="877.5" x2="36" y2="877.5" stroke="#000" stroke-width="1.3" stroke-linecap="butt"/>
<text x="28.8" y="881.1" font-size="10.7" font-weight="normal" fill="#1a1a1a" text-anchor="end" >40</text>
<line x1="30" y1="850" x2="36" y2="850" stroke="#000" stroke-width="1.3" stroke-linecap="butt"/>
<text x="28.8" y="853.6" font-size="10.7" font-weight="normal" fill="#1a1a1a" text-anchor="end" >60</text>
<line x1="30" y1="822.5" x2="36" y2="822.5" stroke="#000" stroke-width="1.3" stroke-linecap="butt"/>
<text x="28.8" y="826.1" font-size="10.7" font-weight="normal" fill="#1a1a1a" text-anchor="end" >80</text>
<line x1="30" y1="795" x2="36" y2="795" stroke="#000" stroke-width="1.3" stroke-linecap="butt"/>
<text x="28.8" y="798.6" font-size="10.7" font-weight="normal" fill="#1a1a1a" text-anchor="end" >100</text>
<line x1="47.95" y1="932.5" x2="47.95" y2="938.5" stroke="#000" stroke-width="1.3" stroke-linecap="butt"/>
<text x="47.95" y="950" font-size="10.7" font-weight="normal" fill="#1a1a1a" text-anchor="middle" >0.1</text>
<line x1="88.3" y1="932.5" x2="88.3" y2="938.5" stroke="#000" stroke-width="1.3" stroke-linecap="butt"/>
<text x="88.3" y="950" font-size="10.7" font-weight="normal" fill="#1a1a1a" text-anchor="middle" >1</text>
<line x1="128.65" y1="932.5" x2="128.65" y2="938.5" stroke="#000" stroke-width="1.3" stroke-linecap="butt"/>
<text x="128.65" y="950" font-size="10.7" font-weight="normal" fill="#1a1a1a" text-anchor="middle" >10</text>
<line x1="169" y1="932.5" x2="169" y2="938.5" stroke="#000" stroke-width="1.3" stroke-linecap="butt"/>
<text x="169" y="950" font-size="10.7" font-weight="normal" fill="#1a1a1a" text-anchor="middle" >100</text>
<line x1="209.35" y1="932.5" x2="209.35" y2="938.5" stroke="#000" stroke-width="1.3" stroke-linecap="butt"/>
<text x="209.35" y="950" font-size="10.7" font-weight="normal" fill="#1a1a1a" text-anchor="middle" >1000</text>
<text x="122.6" y="966.1" font-size="11" font-weight="bold" fill="#000" text-anchor="middle" >Cesium (mM)</text>
<text transform="translate(3.4,863.75) rotate(-90)" font-size="12" font-weight="bold" text-anchor="middle">I/I<tspan font-size="9" dy="1.9" letter-spacing="0.45">max</tspan><tspan dy="-1.9"> (%)</tspan></text>
<text x="7" y="774" font-size="10.5" font-weight="normal" fill="#000" text-anchor="start" >E</text>
<text x="72" y="773.8" font-size="11" font-weight="bold" fill="#000" text-anchor="start" >Cs<tspan font-size="7" dy="-3.6">+</tspan><tspan dy="3.6"> dose-response</tspan></text>
<line x1="42.4" y1="804" x2="57" y2="804" stroke="#000" stroke-width="1" stroke-linecap="butt"/>
<circle cx="49.6" cy="804" r="2.7" fill="#000"/>
<text x="65.6" y="808" font-size="11.3" font-weight="normal" fill="#1a1a1a" text-anchor="start" >GlyR α3L 185L</text>
<line x1="42.4" y1="823" x2="57" y2="823" stroke="#990000" stroke-width="1" stroke-linecap="butt"/>
<circle cx="49.6" cy="823" r="2.7" fill="#990000"/>
<text x="65.6" y="827" font-size="11.3" font-weight="normal" fill="#1a1a1a" text-anchor="start" >D141A</text>
<line x1="42.4" y1="841.4" x2="57" y2="841.4" stroke="#ff0000" stroke-width="1" stroke-linecap="butt"/>
<circle cx="49.6" cy="841.4" r="2.7" fill="#ff0000"/>
<text x="65.6" y="845.4" font-size="11.3" font-weight="normal" fill="#1a1a1a" text-anchor="start" >D141K</text>
<polyline points="306.85,927.79 308.52,927.31 310.19,926.78 311.85,926.2 313.52,925.56 315.18,924.87 316.85,924.11 318.51,923.28 320.18,922.37 321.85,921.38 323.51,920.3 325.18,919.13 326.84,917.86 328.51,916.49 330.18,915.01 331.84,913.41 333.51,911.68 335.17,909.84 336.84,907.86 338.5,905.75 340.17,903.51 341.84,901.13 343.5,898.62 345.17,895.98 346.83,893.21 348.5,890.32 350.17,887.31 351.83,884.19 353.5,880.98 355.16,877.69 356.83,874.33 358.5,870.92 360.16,867.47 361.83,864.01 363.49,860.54 365.16,857.09 366.82,853.67 368.49,850.3 370.16,847 371.82,843.78 373.49,840.65 375.15,837.62 376.82,834.71 378.49,831.92 380.15,829.26 381.82,826.73 383.48,824.33 385.15,822.07 386.81,819.94 388.48,817.95 390.15,816.08 391.81,814.34 393.48,812.72 395.14,811.22 396.81,809.83 398.48,808.55 400.14,807.37 401.81,806.28 403.47,805.27 405.14,804.35 406.81,803.51" fill="none" stroke="#5a5af5" stroke-width="0.9" stroke-linejoin="round" stroke-linecap="round"/>
<polyline points="306.85,930.33 308.52,930.1 310.19,929.84 311.85,929.55 313.52,929.23 315.18,928.87 316.85,928.48 318.51,928.05 320.18,927.58 321.85,927.05 323.51,926.47 325.18,925.84 326.84,925.14 328.51,924.37 330.18,923.52 331.84,922.6 333.51,921.59 335.17,920.48 336.84,919.28 338.5,917.97 340.17,916.54 341.84,915 343.5,913.32 345.17,911.52 346.83,909.58 348.5,907.5 350.17,905.28 351.83,902.9 353.5,900.39 355.16,897.72 356.83,894.92 358.5,891.98 360.16,888.91 361.83,885.72 363.49,882.42 365.16,879.02 366.82,875.54 368.49,872 370.16,868.42 371.82,864.81 373.49,861.19 375.15,857.59 376.82,854.02 378.49,850.51 380.15,847.06 381.82,843.7 383.48,840.45 385.15,837.3 386.81,834.29 388.48,831.4 390.15,828.65 391.81,826.05 393.48,823.59 395.14,821.28 396.81,819.12 398.48,817.1 400.14,815.21 401.81,813.47 403.47,811.85 405.14,810.35 406.81,808.98" fill="none" stroke="#000080" stroke-width="0.9" stroke-linejoin="round" stroke-linecap="round"/>
<polyline points="306.85,930.39 308.52,930.14 310.19,929.85 311.85,929.53 313.52,929.16 315.18,928.76 316.85,928.31 318.51,927.81 320.18,927.24 321.85,926.62 323.51,925.92 325.18,925.15 326.84,924.28 328.51,923.33 330.18,922.27 331.84,921.11 333.51,919.82 335.17,918.4 336.84,916.85 338.5,915.15 340.17,913.29 341.84,911.27 343.5,909.07 345.17,906.7 346.83,904.16 348.5,901.42 350.17,898.51 351.83,895.42 353.5,892.16 355.16,888.74 356.83,885.17 358.5,881.46 360.16,877.65 361.83,873.74 363.49,869.76 365.16,865.74 366.82,861.71 368.49,857.69 370.16,853.72 371.82,849.81 373.49,845.99 375.15,842.29 376.82,838.72 378.49,835.3 380.15,832.04 381.82,828.95 383.48,826.04 385.15,823.31 386.81,820.77 388.48,818.4 390.15,816.21 391.81,814.19 393.48,812.33 395.14,810.63 396.81,809.08 398.48,807.66 400.14,806.38 401.81,805.21 403.47,804.16 405.14,803.2 406.81,802.34" fill="none" stroke="#000" stroke-width="0.9" stroke-linejoin="round" stroke-linecap="round"/>
<line x1="347.2" y1="885.75" x2="347.2" y2="899.5" stroke="#5a5af5" stroke-width="0.95" stroke-linecap="butt"/>
<line x1="344.6" y1="885.75" x2="349.8" y2="885.75" stroke="#5a5af5" stroke-width="0.95" stroke-linecap="butt"/>
<line x1="344.6" y1="899.5" x2="349.8" y2="899.5" stroke="#5a5af5" stroke-width="0.95" stroke-linecap="butt"/>
<line x1="387.55" y1="813.56" x2="387.55" y2="824.56" stroke="#5a5af5" stroke-width="0.95" stroke-linecap="butt"/>
<line x1="384.95" y1="813.56" x2="390.15" y2="813.56" stroke="#5a5af5" stroke-width="0.95" stroke-linecap="butt"/>
<line x1="384.95" y1="824.56" x2="390.15" y2="824.56" stroke="#5a5af5" stroke-width="0.95" stroke-linecap="butt"/>
<line x1="406.81" y1="794.45" x2="406.81" y2="805.45" stroke="#5a5af5" stroke-width="0.95" stroke-linecap="butt"/>
<line x1="404.21" y1="794.45" x2="409.41" y2="794.45" stroke="#5a5af5" stroke-width="0.95" stroke-linecap="butt"/>
<line x1="404.21" y1="805.45" x2="409.41" y2="805.45" stroke="#5a5af5" stroke-width="0.95" stroke-linecap="butt"/>
<line x1="347.2" y1="905" x2="347.2" y2="913.25" stroke="#000080" stroke-width="0.95" stroke-linecap="butt"/>
<line x1="344.6" y1="905" x2="349.8" y2="905" stroke="#000080" stroke-width="0.95" stroke-linecap="butt"/>
<line x1="344.6" y1="913.25" x2="349.8" y2="913.25" stroke="#000080" stroke-width="0.95" stroke-linecap="butt"/>
<line x1="387.55" y1="822.64" x2="387.55" y2="843.26" stroke="#000080" stroke-width="0.95" stroke-linecap="butt"/>
<line x1="384.95" y1="822.64" x2="390.15" y2="822.64" stroke="#000080" stroke-width="0.95" stroke-linecap="butt"/>
<line x1="384.95" y1="843.26" x2="390.15" y2="843.26" stroke="#000080" stroke-width="0.95" stroke-linecap="butt"/>
<line x1="406.81" y1="799.4" x2="406.81" y2="803.52" stroke="#000080" stroke-width="0.95" stroke-linecap="butt"/>
<line x1="404.21" y1="799.4" x2="409.41" y2="799.4" stroke="#000080" stroke-width="0.95" stroke-linecap="butt"/>
<line x1="404.21" y1="803.52" x2="409.41" y2="803.52" stroke="#000080" stroke-width="0.95" stroke-linecap="butt"/>
<line x1="347.2" y1="899.23" x2="347.2" y2="908.02" stroke="#000" stroke-width="0.95" stroke-linecap="butt"/>
<line x1="344.6" y1="899.23" x2="349.8" y2="899.23" stroke="#000" stroke-width="0.95" stroke-linecap="butt"/>
<line x1="344.6" y1="908.02" x2="349.8" y2="908.02" stroke="#000" stroke-width="0.95" stroke-linecap="butt"/>
<line x1="387.55" y1="813.7" x2="387.55" y2="826.35" stroke="#000" stroke-width="0.95" stroke-linecap="butt"/>
<line x1="384.95" y1="813.7" x2="390.15" y2="813.7" stroke="#000" stroke-width="0.95" stroke-linecap="butt"/>
<line x1="384.95" y1="826.35" x2="390.15" y2="826.35" stroke="#000" stroke-width="0.95" stroke-linecap="butt"/>
<circle cx="306.85" cy="920.95" r="3" fill="#5a5af5"/>
<circle cx="347.2" cy="892.62" r="3" fill="#5a5af5"/>
<circle cx="387.55" cy="819.06" r="3" fill="#5a5af5"/>
<circle cx="406.81" cy="799.95" r="3" fill="#5a5af5"/>
<circle cx="347.2" cy="909.12" r="3" fill="#000080"/>
<circle cx="387.55" cy="832.95" r="3" fill="#000080"/>
<circle cx="406.81" cy="801.46" r="3" fill="#000080"/>
<circle cx="306.85" cy="925.62" r="3" fill="#000"/>
<circle cx="347.2" cy="903.62" r="3" fill="#000"/>
<circle cx="387.55" cy="820.02" r="3" fill="#000"/>
<circle cx="406.81" cy="798.02" r="3" fill="#000"/>
<line x1="267" y1="794.3" x2="267" y2="933.2" stroke="#000" stroke-width="1.4" stroke-linecap="butt"/>
<line x1="266.3" y1="932.5" x2="440.65" y2="932.5" stroke="#000" stroke-width="1.4" stroke-linecap="butt"/>
<line x1="261" y1="932.5" x2="267" y2="932.5" stroke="#000" stroke-width="1.3" stroke-linecap="butt"/>
<text x="259.8" y="936.1" font-size="10.7" font-weight="normal" fill="#1a1a1a" text-anchor="end" >0</text>
<line x1="261" y1="905" x2="267" y2="905" stroke="#000" stroke-width="1.3" stroke-linecap="butt"/>
<text x="259.8" y="908.6" font-size="10.7" font-weight="normal" fill="#1a1a1a" text-anchor="end" >20</text>
<line x1="261" y1="877.5" x2="267" y2="877.5" stroke="#000" stroke-width="1.3" stroke-linecap="butt"/>
<text x="259.8" y="881.1" font-size="10.7" font-weight="normal" fill="#1a1a1a" text-anchor="end" >40</text>
<line x1="261" y1="850" x2="267" y2="850" stroke="#000" stroke-width="1.3" stroke-linecap="butt"/>
<text x="259.8" y="853.6" font-size="10.7" font-weight="normal" fill="#1a1a1a" text-anchor="end" >60</text>
<line x1="261" y1="822.5" x2="267" y2="822.5" stroke="#000" stroke-width="1.3" stroke-linecap="butt"/>
<text x="259.8" y="826.1" font-size="10.7" font-weight="normal" fill="#1a1a1a" text-anchor="end" >80</text>
<line x1="261" y1="795" x2="267" y2="795" stroke="#000" stroke-width="1.3" stroke-linecap="butt"/>
<text x="259.8" y="798.6" font-size="10.7" font-weight="normal" fill="#1a1a1a" text-anchor="end" >100</text>
<line x1="278.65" y1="932.5" x2="278.65" y2="938.5" stroke="#000" stroke-width="1.3" stroke-linecap="butt"/>
<text x="278.65" y="950" font-size="10.7" font-weight="normal" fill="#1a1a1a" text-anchor="middle" >0.1</text>
<line x1="319" y1="932.5" x2="319" y2="938.5" stroke="#000" stroke-width="1.3" stroke-linecap="butt"/>
<text x="319" y="950" font-size="10.7" font-weight="normal" fill="#1a1a1a" text-anchor="middle" >1</text>
<line x1="359.35" y1="932.5" x2="359.35" y2="938.5" stroke="#000" stroke-width="1.3" stroke-linecap="butt"/>
<text x="359.35" y="950" font-size="10.7" font-weight="normal" fill="#1a1a1a" text-anchor="middle" >10</text>
<line x1="399.7" y1="932.5" x2="399.7" y2="938.5" stroke="#000" stroke-width="1.3" stroke-linecap="butt"/>
<text x="399.7" y="950" font-size="10.7" font-weight="normal" fill="#1a1a1a" text-anchor="middle" >100</text>
<line x1="440.05" y1="932.5" x2="440.05" y2="938.5" stroke="#000" stroke-width="1.3" stroke-linecap="butt"/>
<text x="440.05" y="950" font-size="10.7" font-weight="normal" fill="#1a1a1a" text-anchor="middle" >1000</text>
<text x="353.8" y="966.1" font-size="11" font-weight="bold" fill="#000" text-anchor="middle" >Cesium (mM)</text>
<text transform="translate(234.4,863.75) rotate(-90)" font-size="12" font-weight="bold" text-anchor="middle">I/I<tspan font-size="9" dy="1.9" letter-spacing="0.45">max</tspan><tspan dy="-1.9"> (%)</tspan></text>
<text x="241.4" y="774" font-size="10.5" font-weight="normal" fill="#000" text-anchor="start" >J</text>
<text x="303.4" y="773.8" font-size="11" font-weight="bold" fill="#000" text-anchor="start" >Cs<tspan font-size="7" dy="-3.6">+</tspan><tspan dy="3.6"> dose-response</tspan></text>
<line x1="273.4" y1="804" x2="288" y2="804" stroke="#000" stroke-width="1" stroke-linecap="butt"/>
<circle cx="280.6" cy="804" r="2.7" fill="#000"/>
<text x="296.6" y="808" font-size="11.3" font-weight="normal" fill="#1a1a1a" text-anchor="start" >GlyR α3L 185L</text>
<line x1="273.4" y1="823" x2="288" y2="823" stroke="#000080" stroke-width="1" stroke-linecap="butt"/>
<circle cx="280.6" cy="823" r="2.7" fill="#000080"/>
<text x="296.6" y="827" font-size="11.3" font-weight="normal" fill="#1a1a1a" text-anchor="start" >E192A</text>
<line x1="273.4" y1="841.4" x2="288" y2="841.4" stroke="#5a5af5" stroke-width="1" stroke-linecap="butt"/>
<circle cx="280.6" cy="841.4" r="2.7" fill="#5a5af5"/>
<text x="296.6" y="845.4" font-size="11.3" font-weight="normal" fill="#1a1a1a" text-anchor="start" >E192K</text>
<polyline points="540.25,908.81 541.92,908.02 543.59,907.17 545.25,906.27 546.92,905.32 548.58,904.32 550.25,903.26 551.91,902.14 553.58,900.96 555.25,899.72 556.91,898.42 558.58,897.06 560.24,895.63 561.91,894.13 563.58,892.57 565.24,890.95 566.91,889.26 568.57,887.5 570.24,885.69 571.9,883.81 573.57,881.87 575.24,879.88 576.9,877.83 578.57,875.73 580.23,873.59 581.9,871.41 583.57,869.19 585.23,866.94 586.9,864.66 588.56,862.36 590.23,860.05 591.9,857.73 593.56,855.41 595.23,853.09 596.89,850.79 598.56,848.5 600.22,846.23 601.89,843.99 603.56,841.78 605.22,839.62 606.89,837.49 608.55,835.42 610.22,833.39 611.89,831.42 613.55,829.5 615.22,827.65 616.88,825.86 618.55,824.13 620.21,822.46 621.88,820.87 623.55,819.33 625.21,817.86 626.88,816.46 628.54,815.12 630.21,813.84 631.88,812.63 633.54,811.47 635.21,810.38 636.87,809.34 638.54,808.36 640.21,807.43" fill="none" stroke="#d8d8d8" stroke-width="0.9" stroke-linejoin="round" stroke-linecap="round"/>
<polyline points="540.25,928.54 541.92,928.23 543.59,927.9 545.25,927.53 546.92,927.12 548.58,926.67 550.25,926.18 551.91,925.65 553.58,925.06 555.25,924.41 556.91,923.71 558.58,922.93 560.24,922.09 561.91,921.17 563.58,920.17 565.24,919.08 566.91,917.9 568.57,916.62 570.24,915.23 571.9,913.74 573.57,912.12 575.24,910.39 576.9,908.53 578.57,906.55 580.23,904.43 581.9,902.18 583.57,899.79 585.23,897.28 586.9,894.63 588.56,891.86 590.23,888.96 591.9,885.95 593.56,882.84 595.23,879.63 596.89,876.35 598.56,872.99 600.22,869.59 601.89,866.15 603.56,862.69 605.22,859.23 606.89,855.79 608.55,852.38 610.22,849.03 611.89,845.73 613.55,842.52 615.22,839.4 616.88,836.38 618.55,833.48 620.21,830.69 621.88,828.04 623.55,825.51 625.21,823.11 626.88,820.85 628.54,818.72 630.21,816.73 631.88,814.86 633.54,813.11 635.21,811.49 636.87,809.99 638.54,808.59 640.21,807.3" fill="none" stroke="#666666" stroke-width="0.9" stroke-linejoin="round" stroke-linecap="round"/>
<polyline points="540.25,929.39 541.92,929.13 543.59,928.84 545.25,928.52 546.92,928.15 548.58,927.75 550.25,927.3 551.91,926.79 553.58,926.23 555.25,925.6 556.91,924.9 558.58,924.12 560.24,923.26 561.91,922.3 563.58,921.24 565.24,920.07 566.91,918.78 568.57,917.36 570.24,915.8 571.9,914.1 573.57,912.23 575.24,910.2 576.9,908 578.57,905.63 580.23,903.07 581.9,900.33 583.57,897.41 585.23,894.32 586.9,891.05 588.56,887.61 590.23,884.03 591.9,880.32 593.56,876.49 595.23,872.56 596.89,868.58 598.56,864.55 600.22,860.5 601.89,856.48 603.56,852.49 605.22,848.57 606.89,844.74 608.55,841.03 610.22,837.45 611.89,834.01 613.55,830.75 615.22,827.65 616.88,824.73 618.55,822 620.21,819.44 621.88,817.07 623.55,814.87 625.21,812.84 626.88,810.98 628.54,809.28 630.21,807.72 631.88,806.3 633.54,805.01 635.21,803.84 636.87,802.78 638.54,801.83 640.21,800.97" fill="none" stroke="#000" stroke-width="0.9" stroke-linejoin="round" stroke-linecap="round"/>
<line x1="540.25" y1="896.47" x2="540.25" y2="908.61" stroke="#d8d8d8" stroke-width="0.95" stroke-linecap="butt"/>
<line x1="537.65" y1="896.47" x2="542.85" y2="896.47" stroke="#d8d8d8" stroke-width="0.95" stroke-linecap="butt"/>
<line x1="537.65" y1="908.61" x2="542.85" y2="908.61" stroke="#d8d8d8" stroke-width="0.95" stroke-linecap="butt"/>
<line x1="580.6" y1="865.58" x2="580.6" y2="880.48" stroke="#d8d8d8" stroke-width="0.95" stroke-linecap="butt"/>
<line x1="578" y1="865.58" x2="583.2" y2="865.58" stroke="#d8d8d8" stroke-width="0.95" stroke-linecap="butt"/>
<line x1="578" y1="880.48" x2="583.2" y2="880.48" stroke="#d8d8d8" stroke-width="0.95" stroke-linecap="butt"/>
<line x1="540.25" y1="915.5" x2="540.25" y2="923.78" stroke="#666666" stroke-width="0.95" stroke-linecap="butt"/>
<line x1="537.65" y1="915.5" x2="542.85" y2="915.5" stroke="#666666" stroke-width="0.95" stroke-linecap="butt"/>
<line x1="537.65" y1="923.78" x2="542.85" y2="923.78" stroke="#666666" stroke-width="0.95" stroke-linecap="butt"/>
<line x1="580.6" y1="899.78" x2="580.6" y2="908.06" stroke="#666666" stroke-width="0.95" stroke-linecap="butt"/>
<line x1="578" y1="899.78" x2="583.2" y2="899.78" stroke="#666666" stroke-width="0.95" stroke-linecap="butt"/>
<line x1="578" y1="908.06" x2="583.2" y2="908.06" stroke="#666666" stroke-width="0.95" stroke-linecap="butt"/>
<line x1="620.95" y1="823.11" x2="620.95" y2="835.8" stroke="#666666" stroke-width="0.95" stroke-linecap="butt"/>
<line x1="618.35" y1="823.11" x2="623.55" y2="823.11" stroke="#666666" stroke-width="0.95" stroke-linecap="butt"/>
<line x1="618.35" y1="835.8" x2="623.55" y2="835.8" stroke="#666666" stroke-width="0.95" stroke-linecap="butt"/>
<line x1="640.21" y1="797.05" x2="640.21" y2="808.08" stroke="#666666" stroke-width="0.95" stroke-linecap="butt"/>
<line x1="637.61" y1="797.05" x2="642.81" y2="797.05" stroke="#666666" stroke-width="0.95" stroke-linecap="butt"/>
<line x1="637.61" y1="808.08" x2="642.81" y2="808.08" stroke="#666666" stroke-width="0.95" stroke-linecap="butt"/>
<line x1="580.6" y1="898.13" x2="580.6" y2="906.95" stroke="#000" stroke-width="0.95" stroke-linecap="butt"/>
<line x1="578" y1="898.13" x2="583.2" y2="898.13" stroke="#000" stroke-width="0.95" stroke-linecap="butt"/>
<line x1="578" y1="906.95" x2="583.2" y2="906.95" stroke="#000" stroke-width="0.95" stroke-linecap="butt"/>
<line x1="620.95" y1="812.35" x2="620.95" y2="825.04" stroke="#000" stroke-width="0.95" stroke-linecap="butt"/>
<line x1="618.35" y1="812.35" x2="623.55" y2="812.35" stroke="#000" stroke-width="0.95" stroke-linecap="butt"/>
<line x1="618.35" y1="825.04" x2="623.55" y2="825.04" stroke="#000" stroke-width="0.95" stroke-linecap="butt"/>
<circle cx="540.25" cy="902.54" r="3" fill="#d8d8d8"/>
<circle cx="580.6" cy="873.03" r="3" fill="#d8d8d8"/>
<circle cx="620.95" cy="829.45" r="3" fill="#d8d8d8"/>
<circle cx="640.21" cy="793.6" r="3" fill="#d8d8d8"/>
<circle cx="540.25" cy="919.64" r="3" fill="#666666"/>
<circle cx="580.6" cy="903.92" r="3" fill="#666666"/>
<circle cx="620.95" cy="829.45" r="3" fill="#666666"/>
<circle cx="640.21" cy="802.56" r="3" fill="#666666"/>
<circle cx="540.25" cy="924.61" r="3" fill="#000"/>
<circle cx="580.6" cy="902.54" r="3" fill="#000"/>
<circle cx="620.95" cy="818.7" r="3" fill="#000"/>
<circle cx="640.21" cy="796.63" r="3" fill="#000"/>
<line x1="500" y1="792.9" x2="500" y2="932.2" stroke="#000" stroke-width="1.4" stroke-linecap="butt"/>
<line x1="499.3" y1="931.5" x2="674.05" y2="931.5" stroke="#000" stroke-width="1.4" stroke-linecap="butt"/>
<line x1="494" y1="931.5" x2="500" y2="931.5" stroke="#000" stroke-width="1.3" stroke-linecap="butt"/>
<text x="492.8" y="935.1" font-size="10.7" font-weight="normal" fill="#1a1a1a" text-anchor="end" >0</text>
<line x1="494" y1="903.92" x2="500" y2="903.92" stroke="#000" stroke-width="1.3" stroke-linecap="butt"/>
<text x="492.8" y="907.52" font-size="10.7" font-weight="normal" fill="#1a1a1a" text-anchor="end" >20</text>
<line x1="494" y1="876.34" x2="500" y2="876.34" stroke="#000" stroke-width="1.3" stroke-linecap="butt"/>
<text x="492.8" y="879.94" font-size="10.7" font-weight="normal" fill="#1a1a1a" text-anchor="end" >40</text>
<line x1="494" y1="848.76" x2="500" y2="848.76" stroke="#000" stroke-width="1.3" stroke-linecap="butt"/>
<text x="492.8" y="852.36" font-size="10.7" font-weight="normal" fill="#1a1a1a" text-anchor="end" >60</text>
<line x1="494" y1="821.18" x2="500" y2="821.18" stroke="#000" stroke-width="1.3" stroke-linecap="butt"/>
<text x="492.8" y="824.78" font-size="10.7" font-weight="normal" fill="#1a1a1a" text-anchor="end" >80</text>
<line x1="494" y1="793.6" x2="500" y2="793.6" stroke="#000" stroke-width="1.3" stroke-linecap="butt"/>
<text x="492.8" y="797.2" font-size="10.7" font-weight="normal" fill="#1a1a1a" text-anchor="end" >100</text>
<line x1="512.05" y1="931.5" x2="512.05" y2="937.5" stroke="#000" stroke-width="1.3" stroke-linecap="butt"/>
<text x="512.05" y="949" font-size="10.7" font-weight="normal" fill="#1a1a1a" text-anchor="middle" >0.1</text>
<line x1="552.4" y1="931.5" x2="552.4" y2="937.5" stroke="#000" stroke-width="1.3" stroke-linecap="butt"/>
<text x="552.4" y="949" font-size="10.7" font-weight="normal" fill="#1a1a1a" text-anchor="middle" >1</text>
<line x1="592.75" y1="931.5" x2="592.75" y2="937.5" stroke="#000" stroke-width="1.3" stroke-linecap="butt"/>
<text x="592.75" y="949" font-size="10.7" font-weight="normal" fill="#1a1a1a" text-anchor="middle" >10</text>
<line x1="633.1" y1="931.5" x2="633.1" y2="937.5" stroke="#000" stroke-width="1.3" stroke-linecap="butt"/>
<text x="633.1" y="949" font-size="10.7" font-weight="normal" fill="#1a1a1a" text-anchor="middle" >100</text>
<line x1="673.45" y1="931.5" x2="673.45" y2="937.5" stroke="#000" stroke-width="1.3" stroke-linecap="butt"/>
<text x="673.45" y="949" font-size="10.7" font-weight="normal" fill="#1a1a1a" text-anchor="middle" >1000</text>
<text x="587" y="965.1" font-size="11" font-weight="bold" fill="#000" text-anchor="middle" >Cesium (mM)</text>
<text transform="translate(467.4,862.55) rotate(-90)" font-size="12" font-weight="bold" text-anchor="middle">I/I<tspan font-size="9" dy="1.9" letter-spacing="0.45">max</tspan><tspan dy="-1.9"> (%)</tspan></text>
<text x="466" y="774.3" font-size="10.5" font-weight="normal" fill="#000" text-anchor="start" >O</text>
<text x="536" y="773.8" font-size="11" font-weight="bold" fill="#000" text-anchor="start" >Cs<tspan font-size="7" dy="-3.6">+</tspan><tspan dy="3.6"> dose-response</tspan></text>
<line x1="506.6" y1="803.4" x2="520.6" y2="803.4" stroke="#000" stroke-width="1" stroke-linecap="butt"/>
<circle cx="513.6" cy="803.4" r="2.7" fill="#000"/>
<text x="529.4" y="807.4" font-size="11.3" font-weight="normal" fill="#1a1a1a" text-anchor="start" >GlyR α3L 185L</text>
<line x1="506.6" y1="822.4" x2="520.6" y2="822.4" stroke="#666666" stroke-width="1" stroke-linecap="butt"/>
<circle cx="513.6" cy="822.4" r="2.7" fill="#666666"/>
<text x="529.4" y="826.4" font-size="11.3" font-weight="normal" fill="#1a1a1a" text-anchor="start" >D194A</text>
<line x1="506.6" y1="841" x2="520.6" y2="841" stroke="#d8d8d8" stroke-width="1" stroke-linecap="butt"/>
<circle cx="513.6" cy="841" r="2.7" fill="#d8d8d8"/>
<text x="529.4" y="845" font-size="11.3" font-weight="normal" fill="#1a1a1a" text-anchor="start" >D194K</text>
</svg>
</body></html>
